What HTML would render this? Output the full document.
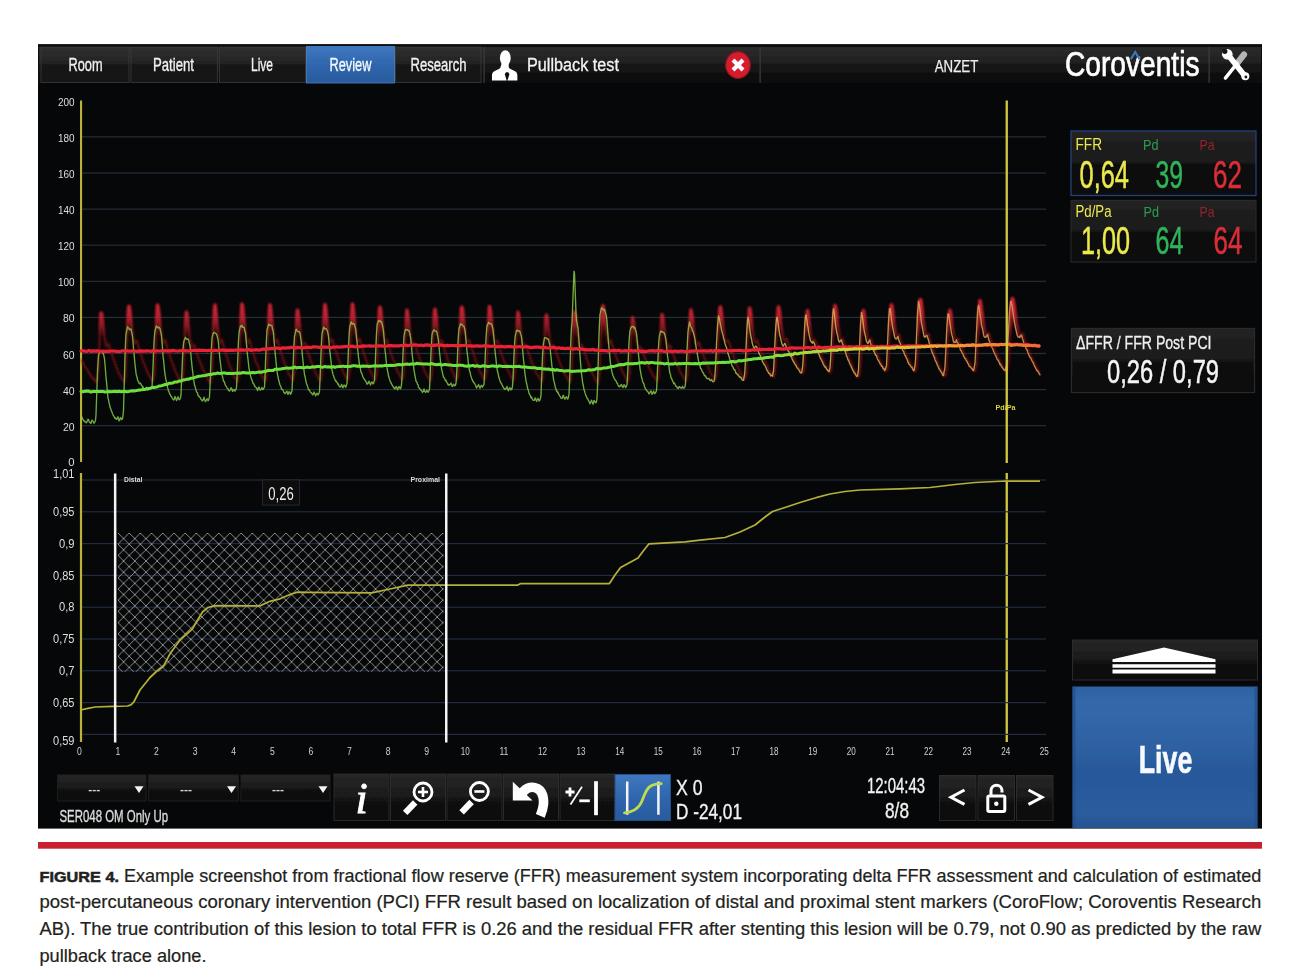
<!DOCTYPE html>
<html lang="en"><head><meta charset="utf-8"><title>Figure 4</title>
<style>html,body{margin:0;padding:0;background:#fff}svg{display:block}</style></head>
<body>
<svg width="1300" height="978" viewBox="0 0 1300 978" font-family="Liberation Sans, sans-serif">
<defs>
<linearGradient id="gTab" x1="0" y1="0" x2="0" y2="1"><stop offset="0" stop-color="#303030"/><stop offset="0.45" stop-color="#232323"/><stop offset="0.5" stop-color="#181818"/><stop offset="1" stop-color="#131313"/></linearGradient>
<linearGradient id="gBar" x1="0" y1="0" x2="0" y2="1"><stop offset="0" stop-color="#2c2c2c"/><stop offset="0.45" stop-color="#1f1f1f"/><stop offset="0.5" stop-color="#141414"/><stop offset="1" stop-color="#0e0e0e"/></linearGradient>
<linearGradient id="gBlueTab" x1="0" y1="0" x2="0" y2="1"><stop offset="0" stop-color="#3f78c0"/><stop offset="0.5" stop-color="#2f66ad"/><stop offset="1" stop-color="#2a5a9c"/></linearGradient>
<linearGradient id="gLive" x1="0" y1="0" x2="0" y2="1"><stop offset="0" stop-color="#2d61a2"/><stop offset="0.12" stop-color="#3369ab"/><stop offset="0.45" stop-color="#2d60a1"/><stop offset="0.6" stop-color="#27589a"/><stop offset="0.9" stop-color="#2a5c9e"/><stop offset="1" stop-color="#26548f"/></linearGradient>
<linearGradient id="gBox2" x1="0" y1="0" x2="0" y2="1"><stop offset="0" stop-color="#222"/><stop offset="0.48" stop-color="#1a1a1a"/><stop offset="0.52" stop-color="#111"/><stop offset="1" stop-color="#0d0d0d"/></linearGradient>
<linearGradient id="gBox" x1="0" y1="0" x2="0" y2="1"><stop offset="0" stop-color="#262626"/><stop offset="0.48" stop-color="#1b1b1b"/><stop offset="0.52" stop-color="#121212"/><stop offset="1" stop-color="#0e0e0e"/></linearGradient>
<pattern id="hatch" x="118" y="533" width="11.2" height="11.2" patternUnits="userSpaceOnUse"><path d="M0 0L11.2 11.2M11.2 0L0 11.2" stroke="#9a9a9a" stroke-width="0.9" fill="none"/></pattern>
<filter id="b1" x="-5%" y="-5%" width="110%" height="110%"><feGaussianBlur stdDeviation="0.9"/></filter>
<filter id="soft" filterUnits="userSpaceOnUse" x="38" y="44" width="1224" height="785"><feGaussianBlur stdDeviation="0.55"/></filter>
<filter id="b2" x="-5%" y="-5%" width="110%" height="110%"><feGaussianBlur stdDeviation="0.45"/></filter>
<linearGradient id="gMask" gradientUnits="userSpaceOnUse" x1="0" y1="296" x2="0" y2="338"><stop offset="0" stop-color="#fff"/><stop offset="0.45" stop-color="#bbb"/><stop offset="1" stop-color="#000"/></linearGradient>
<mask id="mTop" maskUnits="userSpaceOnUse" x="80" y="250" width="970" height="100"><rect x="80" y="250" width="970" height="100" fill="url(#gMask)"/></mask>
<linearGradient id="gGreen" gradientUnits="userSpaceOnUse" x1="80" y1="0" x2="1042" y2="0"><stop offset="0" stop-color="#86cf4a"/><stop offset="0.6" stop-color="#8ccf48"/><stop offset="0.72" stop-color="#d6be52"/><stop offset="1" stop-color="#e0a055"/></linearGradient>
<linearGradient id="gGreenM" gradientUnits="userSpaceOnUse" x1="80" y1="0" x2="1042" y2="0"><stop offset="0" stop-color="#6de040"/><stop offset="0.7" stop-color="#6de040"/><stop offset="0.8" stop-color="#cfd63c"/><stop offset="0.9" stop-color="#eea436"/><stop offset="1" stop-color="#ee6a30"/></linearGradient>
</defs>
<rect width="1300" height="978" fill="#fff"/>
<rect x="38" y="44.3" width="1224" height="784.3000000000001" fill="#060708"/>
<g filter="url(#soft)">
<rect x="38" y="44.3" width="1224" height="38.700" fill="#0b0b0b"/>
<rect x="39" y="47" width="1222" height="35.5" fill="url(#gBar)"/>
<rect x="41" y="47" width="88" height="35.5" fill="url(#gTab)" stroke="#3c3c3c" stroke-width="0.8"/>
<text x="85.5" y="71.3" font-size="17.6" fill="#f0f0f0" textLength="34" lengthAdjust="spacingAndGlyphs" text-anchor="middle" stroke="#f0f0f0" stroke-width="0.35">Room</text>
<rect x="131" y="47" width="86.5" height="35.5" fill="url(#gTab)" stroke="#3c3c3c" stroke-width="0.8"/>
<text x="173.5" y="71.3" font-size="17.6" fill="#f0f0f0" textLength="41" lengthAdjust="spacingAndGlyphs" text-anchor="middle" stroke="#f0f0f0" stroke-width="0.35">Patient</text>
<rect x="219.5" y="47" width="86.0" height="35.5" fill="url(#gTab)" stroke="#3c3c3c" stroke-width="0.8"/>
<text x="262" y="71.3" font-size="17.6" fill="#f0f0f0" textLength="22" lengthAdjust="spacingAndGlyphs" text-anchor="middle" stroke="#f0f0f0" stroke-width="0.35">Live</text>
<rect x="395.5" y="47" width="85.5" height="35.5" fill="url(#gTab)" stroke="#3c3c3c" stroke-width="0.8"/>
<text x="438.5" y="71.3" font-size="17.6" fill="#f0f0f0" textLength="56" lengthAdjust="spacingAndGlyphs" text-anchor="middle" stroke="#f0f0f0" stroke-width="0.35">Research</text>
<rect x="306.5" y="46.5" width="88" height="36.5" fill="url(#gBlueTab)" stroke="#4a86cf" stroke-width="0.8"/>
<text x="350.5" y="71.3" font-size="17.6" fill="#f4f8ff" textLength="42" lengthAdjust="spacingAndGlyphs" text-anchor="middle" stroke="#f4f8ff" stroke-width="0.35">Review</text>
<rect x="483.5" y="47" width="1.2" height="36" fill="#3d3d3d"/>
<rect x="759.5" y="47" width="1.2" height="36" fill="#3d3d3d"/>
<rect x="1208.5" y="47" width="1.2" height="36" fill="#3d3d3d"/>
<g fill="#fff" transform="translate(505.3 0) scale(0.9 1) translate(-505.3 0)"><ellipse cx="505.3" cy="58" rx="6" ry="7.8"/><path d="M501.5 63h7.6v3.5c0 1.2 .6 2 2 2.6l4.6 1.9c2 .9 3 2.3 3 4.4v5h-11l2.2-6.2-1.3-1.9h-2.6l-1.3 1.9 2.2 6.200h-16.400v-5c0-2.100 1-3.500 3-4.400l4.600-1.900c1.400-.6 2-1.400 2-2.600z"/></g>
<text x="527" y="71" font-size="17.5" fill="#f2f2f2" textLength="92" lengthAdjust="spacingAndGlyphs" stroke="#f2f2f2" stroke-width="0.3">Pullback test</text>
<ellipse cx="738" cy="65" rx="12.300" ry="13.300" fill="#d41f2d"/><ellipse cx="738" cy="65" rx="12.300" ry="13.300" fill="none" stroke="#8e1520" stroke-width="1.200"/>
<path d="M733 60l10 10M743 60l-10 10" stroke="#fff" stroke-width="4.2" stroke-linecap="butt"/>
<text x="956.5" y="71.5" font-size="17" fill="#eee" textLength="43.5" lengthAdjust="spacingAndGlyphs" text-anchor="middle" stroke="#eee" stroke-width="0.25">ANZET</text>
<text x="1065" y="76.4" font-size="35" fill="#fff" textLength="134.5" lengthAdjust="spacingAndGlyphs" stroke="#fff" stroke-width="0.7">Coroventis</text>
<path d="M1130 58.500l5.200-8.500 5.200 8.500-1.800 1.200-3.400-5.600-3.400 5.600z" fill="#3a78c0"/>
<g stroke-linecap="round" fill="none"><path d="M1244 54.500l-8 10.300" stroke="#b5b5b5" stroke-width="6.200"/><path d="M1237 63.500l-11.500 14.500" stroke="#fff" stroke-width="3.600"/><path d="M1229 56l15.500 19.500" stroke="#fff" stroke-width="5.600"/></g>
<circle cx="1227.300" cy="54.300" r="5.300" fill="#fff"/><circle cx="1224.800" cy="51.300" r="2.600" fill="#161616"/><circle cx="1245.300" cy="76.300" r="4" fill="#fff"/><circle cx="1245.900" cy="77" r="1.400" fill="#161616"/>
<rect x="82" y="425.1" width="964" height="1.2" fill="#272d39"/>
<rect x="82" y="389.0" width="964" height="1.2" fill="#272d39"/>
<rect x="82" y="352.9" width="964" height="1.2" fill="#272d39"/>
<rect x="82" y="316.8" width="964" height="1.2" fill="#272d39"/>
<rect x="82" y="280.7" width="964" height="1.2" fill="#272d39"/>
<rect x="82" y="244.6" width="964" height="1.2" fill="#272d39"/>
<rect x="82" y="208.5" width="964" height="1.2" fill="#272d39"/>
<rect x="82" y="172.4" width="964" height="1.2" fill="#272d39"/>
<rect x="82" y="136.3" width="964" height="1.2" fill="#272d39"/>
<rect x="80" y="100.500" width="2.100" height="361.500" fill="#b9b439"/>
<text x="74.5" y="466.0" font-size="11.5" fill="#dedede" textLength="6.3" lengthAdjust="spacingAndGlyphs" text-anchor="end">0</text>
<text x="74.5" y="430.7" font-size="11.5" fill="#dedede" textLength="11.6" lengthAdjust="spacingAndGlyphs" text-anchor="end">20</text>
<text x="74.5" y="394.6" font-size="11.5" fill="#dedede" textLength="11.6" lengthAdjust="spacingAndGlyphs" text-anchor="end">40</text>
<text x="74.5" y="358.5" font-size="11.5" fill="#dedede" textLength="11.6" lengthAdjust="spacingAndGlyphs" text-anchor="end">60</text>
<text x="74.5" y="322.4" font-size="11.5" fill="#dedede" textLength="11.6" lengthAdjust="spacingAndGlyphs" text-anchor="end">80</text>
<text x="74.5" y="286.3" font-size="11.5" fill="#dedede" textLength="16.6" lengthAdjust="spacingAndGlyphs" text-anchor="end">100</text>
<text x="74.5" y="250.20000000000002" font-size="11.5" fill="#dedede" textLength="16.6" lengthAdjust="spacingAndGlyphs" text-anchor="end">120</text>
<text x="74.5" y="214.10000000000002" font-size="11.5" fill="#dedede" textLength="16.6" lengthAdjust="spacingAndGlyphs" text-anchor="end">140</text>
<text x="74.5" y="178.0" font-size="11.5" fill="#dedede" textLength="16.6" lengthAdjust="spacingAndGlyphs" text-anchor="end">160</text>
<text x="74.5" y="141.90000000000003" font-size="11.5" fill="#dedede" textLength="16.6" lengthAdjust="spacingAndGlyphs" text-anchor="end">180</text>
<text x="74.5" y="105.80000000000001" font-size="11.5" fill="#dedede" textLength="16.6" lengthAdjust="spacingAndGlyphs" text-anchor="end">200</text>
<polyline points="81.0,359.9 81.5,359.9 82.0,361.1 82.5,362.3 83.0,362.7 83.5,363.9 84.0,364.8 84.5,364.8 85.0,366.9 85.5,367.5 86.0,367.8 86.5,368.9 87.0,370.0 87.5,370.5 88.0,371.3 88.5,371.6 89.0,373.4 89.5,374.0 90.0,374.7 90.5,374.5 91.0,376.6 91.5,376.5 92.0,376.9 92.5,378.6 93.0,378.3 93.5,378.3 94.0,379.4 94.5,379.1 95.0,381.2 95.5,380.9 96.0,381.1 96.5,382.2 97.0,380.5 97.5,378.9 98.0,375.1 98.5,367.5 99.0,354.3 99.5,342.6 100.0,329.9 100.5,319.9 101.0,313.0 101.5,313.2 102.0,316.5 102.5,320.4 103.0,324.7 103.5,329.4 104.0,334.1 104.5,337.8 105.0,339.8 105.5,342.4 106.0,346.0 106.5,345.8 107.0,346.2 107.5,346.2 108.0,345.0 108.5,343.9 109.0,344.2 109.5,346.9 110.0,348.5 110.5,350.9 111.0,351.8 111.5,352.5 112.0,354.8 112.5,357.1 113.0,357.6 113.5,358.8 114.0,360.2 114.5,361.7 115.0,363.4 115.5,364.2 116.0,366.6 116.5,367.0 117.0,368.4 117.5,370.2 118.0,371.5 118.5,371.9 119.0,373.4 119.5,374.7 120.0,375.2 120.5,375.4 121.0,377.3 121.5,378.3 122.0,379.0 122.5,379.3 123.0,380.5 123.5,380.9 124.0,381.5 124.5,381.8 125.0,379.2 125.5,376.1 126.0,368.7 126.5,355.2 127.0,341.3 127.5,327.7 128.0,316.2 128.5,308.7 129.0,306.2 129.5,308.7 130.0,312.0 130.5,316.9 131.0,321.7 131.5,327.2 132.0,330.4 132.5,332.6 133.0,336.5 133.5,339.1 134.0,342.3 134.5,342.2 135.0,343.5 135.5,342.3 136.0,341.3 136.5,340.5 137.0,341.5 137.5,343.2 138.0,344.3 138.5,346.9 139.0,348.5 139.5,349.9 140.0,351.3 140.5,353.9 141.0,354.5 141.5,355.8 142.0,358.0 142.5,359.3 143.0,360.8 143.5,362.5 144.0,363.6 144.5,364.8 145.0,366.4 145.5,367.4 146.0,368.2 146.5,369.6 147.0,370.8 147.5,372.4 148.0,373.1 148.5,373.7 149.0,375.5 149.5,375.8 150.0,376.4 150.5,378.4 151.0,378.9 151.5,380.4 152.0,380.6 152.5,380.8 153.0,381.3 153.5,379.6 154.0,377.0 154.5,374.1 155.0,361.6 155.5,347.5 156.0,334.6 156.5,320.2 157.0,312.6 157.5,305.2 158.0,307.3 158.5,310.6 159.0,313.9 159.5,320.0 160.0,325.2 160.5,329.3 161.0,331.5 161.5,335.2 162.0,338.9 162.5,340.5 163.0,342.4 163.5,343.2 164.0,343.0 164.5,342.5 165.0,340.7 165.5,340.0 166.0,341.9 166.5,344.4 167.0,346.2 167.5,348.6 168.0,349.4 168.5,351.3 169.0,353.4 169.5,354.7 170.0,355.5 170.5,357.9 171.0,359.0 171.5,360.9 172.0,362.4 172.5,364.1 173.0,364.9 173.5,365.3 174.0,366.8 174.5,369.0 175.0,369.9 175.5,371.8 176.0,372.7 176.5,373.5 177.0,375.4 177.5,375.5 178.0,375.9 178.5,378.7 179.0,377.9 179.5,380.0 180.0,381.1 180.5,381.6 181.0,381.3 181.5,383.1 182.0,381.6 182.5,379.1 183.0,377.1 183.5,370.8 184.0,358.1 184.5,345.8 185.0,332.7 185.5,322.5 186.0,314.9 186.5,312.0 187.0,315.2 187.5,318.3 188.0,323.3 188.5,327.4 189.0,332.0 189.5,335.2 190.0,337.9 190.5,341.1 191.0,343.7 191.5,346.5 192.0,346.1 192.5,346.6 193.0,346.1 193.5,345.6 194.0,344.9 194.5,344.8 195.0,346.9 195.5,349.0 196.0,350.5 196.5,351.9 197.0,354.0 197.5,355.0 198.0,356.5 198.5,358.3 199.0,359.7 199.5,360.5 200.0,361.8 200.5,363.6 201.0,364.6 201.5,365.0 202.0,367.6 202.5,368.2 203.0,369.7 203.5,370.0 204.0,372.3 204.5,372.6 205.0,374.0 205.5,374.6 206.0,376.0 206.5,376.8 207.0,377.7 207.5,378.9 208.0,379.6 208.5,380.9 209.0,381.1 209.5,381.4 210.0,382.4 210.5,383.2 211.0,381.2 211.5,378.0 212.0,372.8 212.5,359.1 213.0,345.0 213.5,329.7 214.0,316.9 214.5,308.9 215.0,305.2 215.5,309.1 216.0,313.2 216.5,319.1 217.0,324.1 217.5,328.2 218.0,332.1 218.5,335.5 219.0,338.1 219.5,341.4 220.0,341.2 220.5,343.2 221.0,342.6 221.5,340.7 222.0,339.7 222.5,341.1 223.0,343.6 223.5,345.3 224.0,347.6 224.5,348.6 225.0,350.1 225.5,352.7 226.0,354.2 226.5,355.6 227.0,357.8 227.5,358.4 228.0,360.3 228.5,362.4 229.0,364.1 229.5,364.6 230.0,366.7 230.5,367.1 231.0,368.8 231.5,370.0 232.0,370.7 232.5,372.9 233.0,374.4 233.5,374.9 234.0,375.9 234.5,377.6 235.0,377.4 235.5,378.3 236.0,379.6 236.5,380.2 237.0,381.9 237.5,382.0 238.0,379.4 238.5,376.7 239.0,375.5 239.5,360.0 240.0,346.0 240.5,332.6 241.0,319.3 241.5,311.1 242.0,304.0 242.5,307.0 243.0,311.3 243.5,316.1 244.0,320.5 244.5,326.9 245.0,330.3 245.5,332.9 246.0,336.1 246.5,339.4 247.0,341.3 247.5,341.6 248.0,342.9 248.5,341.8 249.0,341.5 249.5,339.5 250.0,341.3 250.5,343.2 251.0,346.1 251.5,346.8 252.0,348.3 252.5,350.2 253.0,351.6 253.5,353.4 254.0,355.4 254.5,357.2 255.0,359.2 255.5,359.7 256.0,362.7 256.5,363.7 257.0,364.0 257.5,364.4 258.0,366.7 258.5,368.1 259.0,368.3 259.5,370.7 260.0,371.9 260.5,372.9 261.0,374.6 261.5,375.7 262.0,376.0 262.5,377.3 263.0,377.8 263.5,378.7 264.0,380.1 264.5,381.0 265.0,381.1 265.5,380.9 266.0,380.0 266.5,376.1 267.0,373.5 267.5,360.0 268.0,345.0 268.5,330.4 269.0,317.3 269.5,310.4 270.0,304.9 270.5,308.4 271.0,312.4 271.5,317.2 272.0,322.2 272.5,327.0 273.0,329.2 273.5,333.1 274.0,336.9 274.5,340.0 275.0,341.7 275.5,342.0 276.0,342.7 276.5,342.0 277.0,340.1 277.5,339.7 278.0,341.1 278.5,344.3 279.0,345.9 279.5,347.9 280.0,350.0 280.5,351.3 281.0,352.4 281.5,354.3 282.0,354.9 282.5,357.3 283.0,358.8 283.5,359.5 284.0,362.2 284.5,362.6 285.0,364.5 285.5,365.4 286.0,367.3 286.5,368.8 287.0,369.1 287.5,370.1 288.0,372.1 288.5,373.6 289.0,374.0 289.5,374.9 290.0,376.3 290.5,375.8 291.0,377.8 291.5,378.4 292.0,379.9 292.5,380.0 293.0,380.4 293.5,378.7 294.0,375.6 294.5,373.1 295.0,359.7 295.5,346.8 296.0,333.6 296.5,322.3 297.0,314.4 297.5,310.1 298.0,313.0 298.5,316.1 299.0,321.5 299.5,326.2 300.0,330.9 300.5,333.5 301.0,336.4 301.5,339.9 302.0,343.5 302.5,343.5 303.0,344.7 303.5,344.8 304.0,344.4 304.5,343.2 305.0,342.9 305.5,343.0 306.0,345.9 306.5,347.6 307.0,349.7 307.5,350.9 308.0,352.4 308.5,354.5 309.0,356.6 309.5,355.9 310.0,358.5 310.5,360.3 311.0,361.6 311.5,362.7 312.0,363.5 312.5,364.9 313.0,366.9 313.5,368.3 314.0,369.1 314.5,369.9 315.0,371.5 315.5,372.6 316.0,374.0 316.5,374.7 317.0,375.2 317.5,376.5 318.0,376.8 318.5,378.6 319.0,379.7 319.5,379.3 320.0,380.6 320.5,380.4 321.0,379.2 321.5,376.3 322.0,372.4 322.5,359.0 323.0,344.3 323.5,330.3 324.0,317.5 324.5,309.7 325.0,304.7 325.5,308.1 326.0,311.6 326.5,317.4 327.0,322.6 327.5,326.9 328.0,329.6 328.5,333.7 329.0,337.0 329.5,339.5 330.0,340.5 330.5,341.7 331.0,342.8 331.5,340.3 332.0,340.3 332.5,339.3 333.0,341.0 333.5,343.6 334.0,344.7 334.5,347.3 335.0,349.3 335.5,350.3 336.0,351.4 336.5,352.5 337.0,354.3 337.5,355.6 338.0,358.7 338.5,359.4 339.0,360.4 339.5,361.6 340.0,363.0 340.5,364.6 341.0,365.5 341.5,368.1 342.0,368.3 342.5,369.6 343.0,371.4 343.5,373.0 344.0,373.9 344.5,374.0 345.0,375.3 345.5,376.2 346.0,377.3 346.5,378.2 347.0,378.4 347.5,378.8 348.0,380.0 348.5,377.3 349.0,375.6 349.5,371.7 350.0,357.4 350.5,343.9 351.0,330.0 351.5,317.6 352.0,310.2 352.5,304.2 353.0,307.2 353.5,312.0 354.0,316.8 354.5,322.1 355.0,327.2 355.5,330.0 356.0,333.5 356.5,335.9 357.0,339.4 357.5,340.5 358.0,340.9 358.5,342.2 359.0,341.3 359.5,339.0 360.0,338.8 360.5,341.4 361.0,343.7 361.5,344.9 362.0,346.9 362.5,348.0 363.0,351.3 363.5,351.9 364.0,353.7 364.5,355.2 365.0,356.8 365.5,358.3 366.0,359.4 366.5,361.2 367.0,362.2 367.5,364.0 368.0,364.4 368.5,365.8 369.0,367.6 369.5,369.2 370.0,370.0 370.5,370.9 371.0,372.3 371.5,373.0 372.0,375.1 372.5,375.6 373.0,376.7 373.5,377.2 374.0,377.8 374.5,379.3 375.0,380.1 375.5,380.2 376.0,377.8 376.5,375.5 377.0,370.9 377.5,357.6 378.0,343.0 378.5,329.0 379.0,317.7 379.5,309.7 380.0,307.2 380.5,309.4 381.0,313.8 381.5,318.3 382.0,323.1 382.5,327.6 383.0,331.8 383.5,334.2 384.0,338.3 384.5,341.6 385.0,341.4 385.5,342.8 386.0,342.3 386.5,341.6 387.0,339.9 387.5,341.1 388.0,342.2 388.5,344.9 389.0,346.4 389.5,348.2 390.0,350.1 390.5,351.5 391.0,352.9 391.5,354.9 392.0,356.5 392.5,357.1 393.0,359.5 393.5,361.0 394.0,361.6 394.5,363.5 395.0,364.0 395.5,366.5 396.0,367.1 396.5,368.5 397.0,370.4 397.5,371.1 398.0,372.5 398.5,372.7 399.0,373.9 399.5,374.5 400.0,376.0 400.5,377.5 401.0,378.1 401.5,379.2 402.0,378.9 402.5,379.5 403.0,377.8 403.5,375.8 404.0,373.2 404.5,360.6 405.0,348.4 405.5,335.5 406.0,323.5 406.5,316.9 407.0,310.1 407.5,313.3 408.0,317.1 408.5,321.0 409.0,325.9 409.5,329.9 410.0,334.3 410.5,335.2 411.0,338.6 411.5,341.4 412.0,344.7 412.5,344.7 413.0,344.9 413.5,344.2 414.0,344.0 414.5,342.8 415.0,343.5 415.5,345.0 416.0,347.0 416.5,349.4 417.0,350.9 417.5,352.3 418.0,353.6 418.5,354.4 419.0,356.6 419.5,357.6 420.0,359.5 420.5,361.2 421.0,362.0 421.5,363.0 422.0,365.1 422.5,366.0 423.0,366.8 423.5,366.9 424.0,369.4 424.5,370.9 425.0,372.4 425.5,372.7 426.0,373.7 426.5,374.6 427.0,376.1 427.5,376.1 428.0,377.4 428.5,377.9 429.0,379.3 429.5,379.2 430.0,380.6 430.5,380.7 431.0,378.7 431.5,376.2 432.0,372.4 432.5,357.4 433.0,344.8 433.5,330.9 434.0,319.1 434.5,312.0 435.0,309.2 435.5,312.8 436.0,316.3 436.5,321.2 437.0,327.1 437.5,331.7 438.0,334.1 438.5,337.3 439.0,339.7 439.5,342.0 440.0,343.0 440.5,344.3 441.0,342.6 441.5,342.1 442.0,340.4 442.5,342.6 443.0,344.8 443.5,345.8 444.0,348.1 444.5,350.4 445.0,351.3 445.5,352.3 446.0,353.8 446.5,355.0 447.0,357.8 447.5,358.6 448.0,360.9 448.5,362.1 449.0,362.7 449.5,364.0 450.0,365.9 450.5,366.9 451.0,368.2 451.5,368.6 452.0,371.1 452.5,371.5 453.0,371.9 453.5,373.6 454.0,375.0 454.5,376.7 455.0,376.5 455.5,377.0 456.0,379.5 456.5,379.2 457.0,379.5 457.5,378.7 458.0,376.0 458.5,374.4 459.0,365.3 459.5,351.6 460.0,338.1 460.5,325.6 461.0,314.8 461.5,307.6 462.0,307.3 462.5,310.4 463.0,314.3 463.5,320.0 464.0,325.4 464.5,328.8 465.0,331.4 465.5,334.3 466.0,338.0 466.5,340.8 467.0,341.5 467.5,342.1 468.0,341.6 468.5,341.5 469.0,340.2 469.5,340.3 470.0,342.4 470.5,344.6 471.0,346.2 471.5,347.5 472.0,349.9 472.5,350.7 473.0,352.1 473.5,353.3 474.0,355.5 474.5,356.6 475.0,358.3 475.5,360.2 476.0,361.3 476.5,363.0 477.0,364.0 477.5,364.9 478.0,366.2 478.5,367.4 479.0,369.2 479.5,370.2 480.0,371.3 480.5,372.9 481.0,373.5 481.5,374.2 482.0,374.6 482.5,376.4 483.0,377.3 483.5,378.1 484.0,378.6 484.5,379.0 485.0,379.8 485.5,378.0 486.0,375.3 486.5,372.7 487.0,360.1 487.5,347.4 488.0,334.4 488.5,321.0 489.0,314.0 489.5,306.6 490.0,309.2 490.5,311.8 491.0,316.5 491.5,320.8 492.0,326.4 492.5,328.8 493.0,332.6 493.5,335.5 494.0,339.0 494.5,341.5 495.0,341.6 495.5,341.9 496.0,342.5 496.5,341.9 497.0,340.8 497.5,340.5 498.0,342.1 498.5,344.2 499.0,346.6 499.5,347.4 500.0,349.4 500.5,351.6 501.0,352.5 501.5,353.6 502.0,355.5 502.5,356.4 503.0,358.2 503.5,360.4 504.0,361.8 504.5,361.4 505.0,363.7 505.5,365.5 506.0,365.6 506.5,367.2 507.0,368.9 507.5,369.3 508.0,370.9 508.5,371.9 509.0,371.9 509.5,373.9 510.0,374.5 510.5,375.9 511.0,377.3 511.5,377.6 512.0,378.0 512.5,379.1 513.0,379.5 513.5,380.4 514.0,377.5 514.5,375.2 515.0,372.5 515.5,362.0 516.0,349.7 516.5,337.5 517.0,325.6 517.5,318.8 518.0,312.2 518.5,315.2 519.0,318.0 519.5,323.2 520.0,327.2 520.5,331.1 521.0,334.4 521.5,338.0 522.0,340.3 522.5,343.0 523.0,345.6 523.5,346.4 524.0,345.7 524.5,345.9 525.0,344.5 525.5,344.6 526.0,344.6 526.5,346.2 527.0,347.9 527.5,350.3 528.0,351.4 528.5,352.7 529.0,354.9 529.5,355.2 530.0,356.5 530.5,359.6 531.0,359.7 531.5,361.0 532.0,362.3 532.5,363.7 533.0,365.2 533.5,366.4 534.0,367.4 534.5,368.2 535.0,368.8 535.5,370.7 536.0,372.4 536.5,373.3 537.0,373.8 537.5,375.1 538.0,375.4 538.5,376.4 539.0,376.7 539.5,377.9 540.0,379.0 540.5,379.6 541.0,380.5 541.5,381.5 542.0,380.9 542.5,377.8 543.0,375.2 543.5,368.4 544.0,356.3 544.5,344.8 545.0,333.0 545.5,323.6 546.0,316.7 546.5,315.1 547.0,317.7 547.5,321.1 548.0,326.6 548.5,330.7 549.0,333.9 549.5,336.7 550.0,339.5 550.5,342.5 551.0,345.8 551.5,346.9 552.0,347.5 552.5,348.0 553.0,347.3 553.5,346.1 554.0,345.1 554.5,346.6 555.0,347.6 555.5,350.0 556.0,352.6 556.5,353.0 557.0,354.3 557.5,356.4 558.0,357.4 558.5,358.5 559.0,360.9 559.5,361.8 560.0,363.3 560.5,363.9 561.0,365.5 561.5,366.6 562.0,367.9 562.5,369.2 563.0,370.4 563.5,371.1 564.0,372.5 564.5,372.8 565.0,374.7 565.5,375.6 566.0,375.9 566.5,376.6 567.0,377.8 567.5,378.1 568.0,379.6 568.5,380.4 569.0,380.5 569.5,381.4 570.0,382.4 570.5,380.5 571.0,377.9 571.5,374.9 572.0,362.1 572.5,349.4 573.0,337.2 573.5,325.7 574.0,318.0 574.5,312.1 575.0,314.9 575.5,316.7 576.0,322.0 576.5,326.6 577.0,332.0 577.5,335.5 578.0,337.3 578.5,340.5 579.0,343.6 579.5,345.3 580.0,345.7 580.5,346.2 581.0,346.7 581.5,344.9 582.0,344.8 582.5,345.3 583.0,347.5 583.5,349.7 584.0,350.5 584.5,352.0 585.0,354.0 585.5,354.9 586.0,356.5 586.5,358.2 587.0,359.8 587.5,360.7 588.0,362.5 588.5,364.3 589.0,365.9 589.5,365.6 590.0,368.3 590.5,369.3 591.0,369.6 591.5,370.6 592.0,372.7 592.5,373.5 593.0,375.0 593.5,376.2 594.0,376.6 594.5,377.7 595.0,378.7 595.5,379.8 596.0,381.1 596.5,382.0 597.0,382.0 597.5,382.3 598.0,384.0 598.5,381.2 599.0,378.4 599.5,375.1 600.0,365.0 600.5,351.3 601.0,338.5 601.5,325.1 602.0,315.9 602.5,308.7 603.0,305.8 603.5,309.0 604.0,313.0 604.5,317.2 605.0,322.0 605.5,326.8 606.0,329.8 606.5,333.6 607.0,335.8 607.5,339.4 608.0,342.3 608.5,341.9 609.0,342.9 609.5,343.2 610.0,341.8 610.5,341.1 611.0,340.1 611.5,342.4 612.0,344.3 612.5,345.1 613.0,347.2 613.5,349.2 614.0,350.9 614.5,350.6 615.0,353.7 615.5,354.5 616.0,356.6 616.5,357.2 617.0,358.4 617.5,360.2 618.0,362.0 618.5,362.6 619.0,362.8 619.5,365.3 620.0,365.5 620.5,367.0 621.0,368.1 621.5,369.0 622.0,370.4 622.5,371.7 623.0,372.9 623.5,374.0 624.0,374.8 624.5,375.1 625.0,376.6 625.5,378.0 626.0,378.9 626.5,379.4 627.0,380.2 627.5,380.8 628.0,381.5 628.5,380.0 629.0,377.0 629.5,374.8 630.0,366.0 630.5,355.2 631.0,344.4 631.5,331.8 632.0,325.2 632.5,317.7 633.0,319.0 633.5,321.1 634.0,324.5 634.5,328.4 635.0,333.0 635.5,336.2 636.0,339.2 636.5,341.5 637.0,343.8 637.5,346.3 638.0,347.9 638.5,347.8 639.0,349.1 639.5,349.0 640.0,347.7 640.5,347.3 641.0,347.5 641.5,348.1 642.0,350.1 642.5,351.6 643.0,352.8 643.5,354.6 644.0,355.3 644.5,356.7 645.0,358.2 645.5,359.5 646.0,360.7 646.5,362.8 647.0,362.8 647.5,364.3 648.0,364.7 648.5,366.4 649.0,367.8 649.5,368.8 650.0,369.0 650.5,370.2 651.0,371.9 651.5,372.3 652.0,373.8 652.5,373.8 653.0,375.6 653.5,376.2 654.0,376.7 654.5,376.9 655.0,378.0 655.5,378.8 656.0,379.7 656.5,380.0 657.0,380.4 657.5,381.0 658.0,379.8 658.5,375.9 659.0,373.9 659.5,362.8 660.0,351.6 660.5,339.4 661.0,328.8 661.5,321.5 662.0,314.6 662.5,316.1 663.0,319.1 663.5,323.2 664.0,327.5 664.5,331.3 665.0,335.5 665.5,337.2 666.0,341.0 666.5,341.7 667.0,345.4 667.5,346.0 668.0,347.4 668.5,346.8 669.0,347.4 669.5,345.0 670.0,345.9 670.5,346.8 671.0,348.3 671.5,350.1 672.0,352.6 672.5,353.3 673.0,353.2 673.5,356.1 674.0,357.0 674.5,357.5 675.0,359.9 675.5,360.3 676.0,362.2 676.5,363.5 677.0,364.2 677.5,365.9 678.0,366.2 678.5,367.8 679.0,368.6 679.5,369.9 680.0,371.9 680.5,372.2 681.0,372.8 681.5,374.1 682.0,374.6 682.5,375.8 683.0,376.6 683.5,377.4 684.0,378.2 684.5,378.7 685.0,379.9 685.5,380.7 686.0,380.4 686.5,380.2 687.0,377.8 687.5,375.8 688.0,369.6 688.5,356.5 689.0,344.5 689.5,331.5 690.0,321.0 690.5,314.4 691.0,309.9 691.5,312.9 692.0,315.4 692.5,319.4 693.0,324.7 693.5,328.9 694.0,332.5 694.5,335.1 695.0,338.1 695.5,340.9 696.0,343.7 696.5,343.6 697.0,344.7 697.5,344.4 698.0,343.7 698.5,343.5 699.0,342.2 699.5,343.3 700.0,346.2 700.5,347.7 701.0,349.5 701.5,350.4 702.0,351.8 702.5,352.9 703.0,354.1 703.5,356.4 704.0,356.9 704.5,358.2 705.0,359.6 705.5,362.0 706.0,362.7 706.5,363.3 707.0,364.6 707.5,365.9 708.0,367.3 708.5,367.3 709.0,369.5 709.5,370.2 710.0,371.1 710.5,372.3 711.0,373.7 711.5,374.9 712.0,375.1 712.5,376.1 713.0,376.3 713.5,377.7 714.0,378.7 714.5,378.3 715.0,379.2 715.5,380.3 716.0,377.2 716.5,375.3 717.0,373.2 717.5,360.9 718.0,348.8 718.5,336.3 719.0,324.0 719.5,314.2 720.0,308.0 720.5,307.0 721.0,310.3 721.5,314.3 722.0,318.6 722.5,323.3 723.0,326.9 723.5,329.9 724.0,332.9 724.5,336.1 725.0,339.5 725.5,340.4 726.0,341.5 726.5,341.6 727.0,341.4 727.5,341.8 728.0,340.1 728.5,341.0 729.0,342.6 729.5,343.5 730.0,344.9 730.5,348.4 731.0,348.7 731.5,349.8 732.0,352.1 732.5,353.3 733.0,354.3 733.5,355.9 734.0,357.6 734.5,359.0 735.0,360.6 735.5,361.3 736.0,362.5 736.5,364.1 737.0,365.2 737.5,366.8 738.0,367.4 738.5,368.6 739.0,369.3 739.5,371.7 740.0,371.5 740.5,373.1 741.0,373.5 741.5,374.9 742.0,376.0 742.5,375.8 743.0,377.3 743.5,377.5 744.0,379.5 744.5,379.2 745.0,379.2 745.5,377.6 746.0,375.9 746.5,373.4 747.0,361.5 747.5,347.9 748.0,335.6 748.5,323.9 749.0,315.1 749.5,308.2 750.0,309.6 750.5,312.4 751.0,317.8 751.5,322.1 752.0,326.5 752.5,330.4 753.0,333.4 753.5,336.3 754.0,338.4 754.5,341.0 755.0,341.6 755.5,343.0 756.0,342.7 756.5,341.3 757.0,340.9 757.5,340.2 758.0,342.3 758.5,344.1 759.0,345.0 759.5,346.7 760.0,348.2 760.5,349.2 761.0,351.0 761.5,352.6 762.0,353.8 762.5,354.4 763.0,355.9 763.5,358.4 764.0,358.6 764.5,360.6 765.0,361.7 765.5,362.4 766.0,363.2 766.5,364.9 767.0,365.6 767.5,367.0 768.0,368.3 768.5,369.1 769.0,370.2 769.5,371.1 770.0,371.5 770.5,372.8 771.0,373.4 771.5,373.7 772.0,375.3 772.5,376.1 773.0,376.4 773.5,376.2 774.0,377.1 774.5,374.5 775.0,372.0 775.5,365.6 776.0,352.7 776.5,341.1 777.0,328.5 777.5,319.2 778.0,311.1 778.5,306.9 779.0,308.7 779.5,311.9 780.0,316.6 780.5,321.5 781.0,325.8 781.5,328.9 782.0,330.6 782.5,334.6 783.0,336.3 783.5,340.1 784.0,340.6 784.5,340.6 785.0,341.0 785.5,339.0 786.0,339.7 786.5,338.1 787.0,340.0 787.5,340.8 788.0,342.8 788.5,343.9 789.0,345.6 789.5,347.0 790.0,348.4 790.5,350.1 791.0,351.0 791.5,352.1 792.0,353.2 792.5,355.4 793.0,355.5 793.5,357.4 794.0,357.1 794.5,358.7 795.0,360.3 795.5,361.2 796.0,363.7 796.5,364.6 797.0,363.8 797.5,365.1 798.0,366.5 798.5,368.2 799.0,368.7 799.5,369.2 800.0,369.2 800.5,370.2 801.0,370.2 801.5,371.5 802.0,373.0 802.5,373.6 803.0,373.1 803.5,372.0 804.0,370.3 804.5,366.8 805.0,355.0 805.5,343.8 806.0,332.2 806.5,321.4 807.0,314.5 807.5,310.5 808.0,313.4 808.5,316.3 809.0,321.4 809.5,325.4 810.0,329.6 810.5,332.6 811.0,335.0 811.5,337.5 812.0,339.6 812.5,340.5 813.0,342.1 813.5,341.2 814.0,340.4 814.5,339.3 815.0,339.3 815.5,341.0 816.0,342.9 816.5,343.9 817.0,344.7 817.5,346.9 818.0,348.5 818.5,349.4 819.0,350.5 819.5,352.1 820.0,353.8 820.5,354.4 821.0,355.0 821.5,356.5 822.0,357.7 822.5,358.1 823.0,360.3 823.5,360.7 824.0,362.3 824.5,363.3 825.0,364.1 825.5,366.0 826.0,365.9 826.5,366.7 827.0,367.9 827.5,368.9 828.0,369.3 828.5,369.7 829.0,371.2 829.5,371.8 830.0,372.9 830.5,372.3 831.0,370.8 831.5,368.2 832.0,365.5 832.5,354.5 833.0,342.9 833.5,330.1 834.0,318.3 834.5,311.1 835.0,305.7 835.5,307.6 836.0,311.1 836.5,314.9 837.0,319.9 837.5,324.1 838.0,326.7 838.5,330.6 839.0,333.6 839.5,335.3 840.0,338.7 840.5,339.1 841.0,339.4 841.5,339.9 842.0,338.2 842.5,338.2 843.0,339.1 843.5,339.9 844.0,342.3 844.5,344.8 845.0,345.9 845.5,347.2 846.0,348.5 846.5,350.5 847.0,351.9 847.5,353.8 848.0,354.4 848.5,357.1 849.0,357.8 849.5,359.5 850.0,360.1 850.5,361.1 851.0,362.6 851.5,363.6 852.0,365.1 852.5,366.8 853.0,368.2 853.5,369.0 854.0,369.7 854.5,370.6 855.0,372.0 855.5,373.1 856.0,373.4 856.5,374.3 857.0,374.9 857.5,376.2 858.0,377.1 858.5,375.8 859.0,376.8 859.5,373.9 860.0,370.5 860.5,364.2 861.0,351.8 861.5,339.8 862.0,326.9 862.5,319.4 863.0,311.6 863.5,310.5 864.0,314.1 864.5,317.5 865.0,321.9 865.5,326.3 866.0,328.7 866.5,332.9 867.0,334.6 867.5,337.4 868.0,340.3 868.5,340.3 869.0,341.1 869.5,341.7 870.0,340.3 870.5,339.6 871.0,338.2 871.5,339.9 872.0,341.5 872.5,343.7 873.0,346.6 873.5,346.2 874.0,347.2 874.5,348.4 875.0,350.1 875.5,351.1 876.0,351.4 876.5,353.5 877.0,354.3 877.5,355.8 878.0,355.6 878.5,356.8 879.0,358.8 879.5,358.8 880.0,360.8 880.5,361.9 881.0,362.8 881.5,364.0 882.0,364.9 882.5,365.7 883.0,366.1 883.5,367.0 884.0,369.1 884.5,369.1 885.0,369.6 885.5,370.3 886.0,370.2 886.5,371.1 887.0,370.5 887.5,368.7 888.0,365.5 888.5,358.5 889.0,347.6 889.5,336.5 890.0,325.6 890.5,315.2 891.0,307.7 891.5,304.9 892.0,307.3 892.5,310.9 893.0,314.9 893.5,318.8 894.0,324.1 894.5,326.7 895.0,329.2 895.5,332.0 896.0,335.4 896.5,336.5 897.0,336.8 897.5,337.8 898.0,336.5 898.5,336.6 899.0,335.0 899.5,335.6 900.0,337.6 900.5,340.0 901.0,340.6 901.5,342.8 902.0,343.9 902.5,344.4 903.0,346.8 903.5,347.4 904.0,348.4 904.5,350.0 905.0,351.4 905.5,353.3 906.0,353.8 906.5,355.9 907.0,356.5 907.5,357.1 908.0,358.2 908.5,359.8 909.0,359.8 909.5,360.9 910.0,362.6 910.5,364.3 911.0,364.9 911.5,365.6 912.0,366.4 912.5,366.3 913.0,367.9 913.5,368.1 914.0,370.1 914.5,370.3 915.0,370.7 915.5,371.4 916.0,369.6 916.5,367.1 917.0,364.8 917.5,353.4 918.0,340.6 918.5,328.8 919.0,316.7 919.5,307.7 920.0,299.9 920.5,299.7 921.0,302.1 921.5,306.5 922.0,310.7 922.5,315.8 923.0,321.3 923.5,323.7 924.0,327.0 924.5,328.9 925.0,331.9 925.5,334.4 926.0,335.3 926.5,335.5 927.0,336.1 927.5,334.4 928.0,334.3 928.5,334.4 929.0,335.4 929.5,338.1 930.0,339.7 930.5,342.1 931.0,343.0 931.5,344.9 932.0,346.6 932.5,346.7 933.0,348.7 933.5,351.3 934.0,352.8 934.5,354.8 935.0,355.8 935.5,356.4 936.0,358.4 936.5,359.2 937.0,360.7 937.5,361.8 938.0,363.5 938.5,363.9 939.0,365.3 939.5,366.1 940.0,369.2 940.5,368.7 941.0,369.7 941.5,370.5 942.0,371.6 942.5,372.6 943.0,374.0 943.5,374.8 944.0,375.5 944.5,375.6 945.0,376.4 945.5,375.1 946.0,372.2 946.5,370.0 947.0,359.4 947.5,349.3 948.0,338.0 948.5,327.3 949.0,317.2 949.5,312.2 950.0,310.2 950.5,312.8 951.0,315.6 951.5,320.0 952.0,324.2 952.5,327.8 953.0,330.4 953.5,332.8 954.0,335.2 954.5,337.7 955.0,339.8 955.5,339.5 956.0,341.4 956.5,340.4 957.0,340.2 957.5,338.7 958.0,338.3 958.5,339.4 959.0,341.3 959.5,342.4 960.0,343.6 960.5,345.5 961.0,347.1 961.5,347.7 962.0,348.7 962.5,349.3 963.0,350.8 963.5,352.1 964.0,352.8 964.5,354.6 965.0,355.2 965.5,356.4 966.0,357.0 966.5,358.0 967.0,359.3 967.5,360.3 968.0,361.3 968.5,361.6 969.0,362.7 969.5,364.0 970.0,364.0 970.5,366.0 971.0,366.4 971.5,367.0 972.0,367.4 972.5,368.8 973.0,369.0 973.5,370.7 974.0,370.5 974.5,370.1 975.0,371.5 975.5,369.3 976.0,367.0 976.5,364.9 977.0,356.9 977.5,345.9 978.0,335.0 978.5,323.7 979.0,313.2 979.5,306.5 980.0,300.7 980.5,303.8 981.0,306.6 981.5,310.8 982.0,313.5 982.5,318.2 983.0,322.1 983.5,324.5 984.0,327.3 984.5,329.6 985.0,332.1 985.5,334.4 986.0,335.3 986.5,336.1 987.0,336.8 987.5,335.1 988.0,334.0 988.5,333.5 989.0,334.1 989.5,336.5 990.0,337.3 990.5,339.3 991.0,340.1 991.5,341.8 992.0,343.3 992.5,345.2 993.0,345.5 993.5,347.2 994.0,347.4 994.5,349.0 995.0,350.5 995.5,351.9 996.0,353.4 996.5,354.5 997.0,354.6 997.5,356.6 998.0,356.9 998.5,359.3 999.0,359.6 999.5,360.6 1000.0,361.5 1000.5,362.6 1001.0,363.6 1001.5,364.1 1002.0,365.5 1002.5,366.1 1003.0,367.1 1003.5,367.5 1004.0,368.6 1004.5,368.7 1005.0,371.4 1005.5,370.0 1006.0,370.5 1006.5,371.6 1007.0,370.3 1007.5,367.6 1008.0,365.3 1008.5,362.7 1009.0,353.0 1009.5,343.1 1010.0,333.3 1010.5,323.8 1011.0,313.8 1011.5,306.9 1012.0,301.6 1012.5,298.6 1013.0,301.2 1013.5,302.8 1014.0,306.0 1014.5,310.4 1015.0,314.6 1015.5,317.4 1016.0,321.9 1016.5,324.2 1017.0,325.7 1017.5,327.5 1018.0,330.3 1018.5,332.8 1019.0,334.9 1019.5,334.4 1020.0,336.7 1020.5,337.2 1021.0,335.4 1021.5,334.1 1022.0,334.1 1022.5,333.6 1023.0,335.5 1023.5,336.8 1024.0,338.0 1024.5,338.8 1025.0,341.5 1025.5,343.0 1026.0,343.7 1026.5,345.3 1027.0,346.6 1027.5,347.7 1028.0,348.6 1028.5,350.5 1029.0,351.1 1029.5,353.6 1030.0,353.9 1030.5,355.7 1031.0,356.3 1031.5,357.8 1032.0,358.5 1032.5,359.9 1033.0,360.3 1033.5,360.9 1034.0,362.6 1034.5,363.5 1035.0,364.0 1035.5,365.4 1036.0,366.0 1036.5,367.8 1037.0,368.6 1037.5,369.5 1038.0,371.4 1038.5,371.1 1039.0,371.9 1039.5,372.8 1040.0,373.2 1040.5,373.7" fill="none" stroke="#86141a" stroke-width="3" stroke-linejoin="round" opacity="0.5" filter="url(#b1)"/>
<polyline points="81.0,359.9 81.5,359.9 82.0,361.1 82.5,362.3 83.0,362.7 83.5,363.9 84.0,364.8 84.5,364.8 85.0,366.9 85.5,367.5 86.0,367.8 86.5,368.9 87.0,370.0 87.5,370.5 88.0,371.3 88.5,371.6 89.0,373.4 89.5,374.0 90.0,374.7 90.5,374.5 91.0,376.6 91.5,376.5 92.0,376.9 92.5,378.6 93.0,378.3 93.5,378.3 94.0,379.4 94.5,379.1 95.0,381.2 95.5,380.9 96.0,381.1 96.5,382.2 97.0,380.5 97.5,378.9 98.0,375.1 98.5,367.5 99.0,354.3 99.5,342.6 100.0,329.9 100.5,319.9 101.0,313.0 101.5,313.2 102.0,316.5 102.5,320.4 103.0,324.7 103.5,329.4 104.0,334.1 104.5,337.8 105.0,339.8 105.5,342.4 106.0,346.0 106.5,345.8 107.0,346.2 107.5,346.2 108.0,345.0 108.5,343.9 109.0,344.2 109.5,346.9 110.0,348.5 110.5,350.9 111.0,351.8 111.5,352.5 112.0,354.8 112.5,357.1 113.0,357.6 113.5,358.8 114.0,360.2 114.5,361.7 115.0,363.4 115.5,364.2 116.0,366.6 116.5,367.0 117.0,368.4 117.5,370.2 118.0,371.5 118.5,371.9 119.0,373.4 119.5,374.7 120.0,375.2 120.5,375.4 121.0,377.3 121.5,378.3 122.0,379.0 122.5,379.3 123.0,380.5 123.5,380.9 124.0,381.5 124.5,381.8 125.0,379.2 125.5,376.1 126.0,368.7 126.5,355.2 127.0,341.3 127.5,327.7 128.0,316.2 128.5,308.7 129.0,306.2 129.5,308.7 130.0,312.0 130.5,316.9 131.0,321.7 131.5,327.2 132.0,330.4 132.5,332.6 133.0,336.5 133.5,339.1 134.0,342.3 134.5,342.2 135.0,343.5 135.5,342.3 136.0,341.3 136.5,340.5 137.0,341.5 137.5,343.2 138.0,344.3 138.5,346.9 139.0,348.5 139.5,349.9 140.0,351.3 140.5,353.9 141.0,354.5 141.5,355.8 142.0,358.0 142.5,359.3 143.0,360.8 143.5,362.5 144.0,363.6 144.5,364.8 145.0,366.4 145.5,367.4 146.0,368.2 146.5,369.6 147.0,370.8 147.5,372.4 148.0,373.1 148.5,373.7 149.0,375.5 149.5,375.8 150.0,376.4 150.5,378.4 151.0,378.9 151.5,380.4 152.0,380.6 152.5,380.8 153.0,381.3 153.5,379.6 154.0,377.0 154.5,374.1 155.0,361.6 155.5,347.5 156.0,334.6 156.5,320.2 157.0,312.6 157.5,305.2 158.0,307.3 158.5,310.6 159.0,313.9 159.5,320.0 160.0,325.2 160.5,329.3 161.0,331.5 161.5,335.2 162.0,338.9 162.5,340.5 163.0,342.4 163.5,343.2 164.0,343.0 164.5,342.5 165.0,340.7 165.5,340.0 166.0,341.9 166.5,344.4 167.0,346.2 167.5,348.6 168.0,349.4 168.5,351.3 169.0,353.4 169.5,354.7 170.0,355.5 170.5,357.9 171.0,359.0 171.5,360.9 172.0,362.4 172.5,364.1 173.0,364.9 173.5,365.3 174.0,366.8 174.5,369.0 175.0,369.9 175.5,371.8 176.0,372.7 176.5,373.5 177.0,375.4 177.5,375.5 178.0,375.9 178.5,378.7 179.0,377.9 179.5,380.0 180.0,381.1 180.5,381.6 181.0,381.3 181.5,383.1 182.0,381.6 182.5,379.1 183.0,377.1 183.5,370.8 184.0,358.1 184.5,345.8 185.0,332.7 185.5,322.5 186.0,314.9 186.5,312.0 187.0,315.2 187.5,318.3 188.0,323.3 188.5,327.4 189.0,332.0 189.5,335.2 190.0,337.9 190.5,341.1 191.0,343.7 191.5,346.5 192.0,346.1 192.5,346.6 193.0,346.1 193.5,345.6 194.0,344.9 194.5,344.8 195.0,346.9 195.5,349.0 196.0,350.5 196.5,351.9 197.0,354.0 197.5,355.0 198.0,356.5 198.5,358.3 199.0,359.7 199.5,360.5 200.0,361.8 200.5,363.6 201.0,364.6 201.5,365.0 202.0,367.6 202.5,368.2 203.0,369.7 203.5,370.0 204.0,372.3 204.5,372.6 205.0,374.0 205.5,374.6 206.0,376.0 206.5,376.8 207.0,377.7 207.5,378.9 208.0,379.6 208.5,380.9 209.0,381.1 209.5,381.4 210.0,382.4 210.5,383.2 211.0,381.2 211.5,378.0 212.0,372.8 212.5,359.1 213.0,345.0 213.5,329.7 214.0,316.9 214.5,308.9 215.0,305.2 215.5,309.1 216.0,313.2 216.5,319.1 217.0,324.1 217.5,328.2 218.0,332.1 218.5,335.5 219.0,338.1 219.5,341.4 220.0,341.2 220.5,343.2 221.0,342.6 221.5,340.7 222.0,339.7 222.5,341.1 223.0,343.6 223.5,345.3 224.0,347.6 224.5,348.6 225.0,350.1 225.5,352.7 226.0,354.2 226.5,355.6 227.0,357.8 227.5,358.4 228.0,360.3 228.5,362.4 229.0,364.1 229.5,364.6 230.0,366.7 230.5,367.1 231.0,368.8 231.5,370.0 232.0,370.7 232.5,372.9 233.0,374.4 233.5,374.9 234.0,375.9 234.5,377.6 235.0,377.4 235.5,378.3 236.0,379.6 236.5,380.2 237.0,381.9 237.5,382.0 238.0,379.4 238.5,376.7 239.0,375.5 239.5,360.0 240.0,346.0 240.5,332.6 241.0,319.3 241.5,311.1 242.0,304.0 242.5,307.0 243.0,311.3 243.5,316.1 244.0,320.5 244.5,326.9 245.0,330.3 245.5,332.9 246.0,336.1 246.5,339.4 247.0,341.3 247.5,341.6 248.0,342.9 248.5,341.8 249.0,341.5 249.5,339.5 250.0,341.3 250.5,343.2 251.0,346.1 251.5,346.8 252.0,348.3 252.5,350.2 253.0,351.6 253.5,353.4 254.0,355.4 254.5,357.2 255.0,359.2 255.5,359.7 256.0,362.7 256.5,363.7 257.0,364.0 257.5,364.4 258.0,366.7 258.5,368.1 259.0,368.3 259.5,370.7 260.0,371.9 260.5,372.9 261.0,374.6 261.5,375.7 262.0,376.0 262.5,377.3 263.0,377.8 263.5,378.7 264.0,380.1 264.5,381.0 265.0,381.1 265.5,380.9 266.0,380.0 266.5,376.1 267.0,373.5 267.5,360.0 268.0,345.0 268.5,330.4 269.0,317.3 269.5,310.4 270.0,304.9 270.5,308.4 271.0,312.4 271.5,317.2 272.0,322.2 272.5,327.0 273.0,329.2 273.5,333.1 274.0,336.9 274.5,340.0 275.0,341.7 275.5,342.0 276.0,342.7 276.5,342.0 277.0,340.1 277.5,339.7 278.0,341.1 278.5,344.3 279.0,345.9 279.5,347.9 280.0,350.0 280.5,351.3 281.0,352.4 281.5,354.3 282.0,354.9 282.5,357.3 283.0,358.8 283.5,359.5 284.0,362.2 284.5,362.6 285.0,364.5 285.5,365.4 286.0,367.3 286.5,368.8 287.0,369.1 287.5,370.1 288.0,372.1 288.5,373.6 289.0,374.0 289.5,374.9 290.0,376.3 290.5,375.8 291.0,377.8 291.5,378.4 292.0,379.9 292.5,380.0 293.0,380.4 293.5,378.7 294.0,375.6 294.5,373.1 295.0,359.7 295.5,346.8 296.0,333.6 296.5,322.3 297.0,314.4 297.5,310.1 298.0,313.0 298.5,316.1 299.0,321.5 299.5,326.2 300.0,330.9 300.5,333.5 301.0,336.4 301.5,339.9 302.0,343.5 302.5,343.5 303.0,344.7 303.5,344.8 304.0,344.4 304.5,343.2 305.0,342.9 305.5,343.0 306.0,345.9 306.5,347.6 307.0,349.7 307.5,350.9 308.0,352.4 308.5,354.5 309.0,356.6 309.5,355.9 310.0,358.5 310.5,360.3 311.0,361.6 311.5,362.7 312.0,363.5 312.5,364.9 313.0,366.9 313.5,368.3 314.0,369.1 314.5,369.9 315.0,371.5 315.5,372.6 316.0,374.0 316.5,374.7 317.0,375.2 317.5,376.5 318.0,376.8 318.5,378.6 319.0,379.7 319.5,379.3 320.0,380.6 320.5,380.4 321.0,379.2 321.5,376.3 322.0,372.4 322.5,359.0 323.0,344.3 323.5,330.3 324.0,317.5 324.5,309.7 325.0,304.7 325.5,308.1 326.0,311.6 326.5,317.4 327.0,322.6 327.5,326.9 328.0,329.6 328.5,333.7 329.0,337.0 329.5,339.5 330.0,340.5 330.5,341.7 331.0,342.8 331.5,340.3 332.0,340.3 332.5,339.3 333.0,341.0 333.5,343.6 334.0,344.7 334.5,347.3 335.0,349.3 335.5,350.3 336.0,351.4 336.5,352.5 337.0,354.3 337.5,355.6 338.0,358.7 338.5,359.4 339.0,360.4 339.5,361.6 340.0,363.0 340.5,364.6 341.0,365.5 341.5,368.1 342.0,368.3 342.5,369.6 343.0,371.4 343.5,373.0 344.0,373.9 344.5,374.0 345.0,375.3 345.5,376.2 346.0,377.3 346.5,378.2 347.0,378.4 347.5,378.8 348.0,380.0 348.5,377.3 349.0,375.6 349.5,371.7 350.0,357.4 350.5,343.9 351.0,330.0 351.5,317.6 352.0,310.2 352.5,304.2 353.0,307.2 353.5,312.0 354.0,316.8 354.5,322.1 355.0,327.2 355.5,330.0 356.0,333.5 356.5,335.9 357.0,339.4 357.5,340.5 358.0,340.9 358.5,342.2 359.0,341.3 359.5,339.0 360.0,338.8 360.5,341.4 361.0,343.7 361.5,344.9 362.0,346.9 362.5,348.0 363.0,351.3 363.5,351.9 364.0,353.7 364.5,355.2 365.0,356.8 365.5,358.3 366.0,359.4 366.5,361.2 367.0,362.2 367.5,364.0 368.0,364.4 368.5,365.8 369.0,367.6 369.5,369.2 370.0,370.0 370.5,370.9 371.0,372.3 371.5,373.0 372.0,375.1 372.5,375.6 373.0,376.7 373.5,377.2 374.0,377.8 374.5,379.3 375.0,380.1 375.5,380.2 376.0,377.8 376.5,375.5 377.0,370.9 377.5,357.6 378.0,343.0 378.5,329.0 379.0,317.7 379.5,309.7 380.0,307.2 380.5,309.4 381.0,313.8 381.5,318.3 382.0,323.1 382.5,327.6 383.0,331.8 383.5,334.2 384.0,338.3 384.5,341.6 385.0,341.4 385.5,342.8 386.0,342.3 386.5,341.6 387.0,339.9 387.5,341.1 388.0,342.2 388.5,344.9 389.0,346.4 389.5,348.2 390.0,350.1 390.5,351.5 391.0,352.9 391.5,354.9 392.0,356.5 392.5,357.1 393.0,359.5 393.5,361.0 394.0,361.6 394.5,363.5 395.0,364.0 395.5,366.5 396.0,367.1 396.5,368.5 397.0,370.4 397.5,371.1 398.0,372.5 398.5,372.7 399.0,373.9 399.5,374.5 400.0,376.0 400.5,377.5 401.0,378.1 401.5,379.2 402.0,378.9 402.5,379.5 403.0,377.8 403.5,375.8 404.0,373.2 404.5,360.6 405.0,348.4 405.5,335.5 406.0,323.5 406.5,316.9 407.0,310.1 407.5,313.3 408.0,317.1 408.5,321.0 409.0,325.9 409.5,329.9 410.0,334.3 410.5,335.2 411.0,338.6 411.5,341.4 412.0,344.7 412.5,344.7 413.0,344.9 413.5,344.2 414.0,344.0 414.5,342.8 415.0,343.5 415.5,345.0 416.0,347.0 416.5,349.4 417.0,350.9 417.5,352.3 418.0,353.6 418.5,354.4 419.0,356.6 419.5,357.6 420.0,359.5 420.5,361.2 421.0,362.0 421.5,363.0 422.0,365.1 422.5,366.0 423.0,366.8 423.5,366.9 424.0,369.4 424.5,370.9 425.0,372.4 425.5,372.7 426.0,373.7 426.5,374.6 427.0,376.1 427.5,376.1 428.0,377.4 428.5,377.9 429.0,379.3 429.5,379.2 430.0,380.6 430.5,380.7 431.0,378.7 431.5,376.2 432.0,372.4 432.5,357.4 433.0,344.8 433.5,330.9 434.0,319.1 434.5,312.0 435.0,309.2 435.5,312.8 436.0,316.3 436.5,321.2 437.0,327.1 437.5,331.7 438.0,334.1 438.5,337.3 439.0,339.7 439.5,342.0 440.0,343.0 440.5,344.3 441.0,342.6 441.5,342.1 442.0,340.4 442.5,342.6 443.0,344.8 443.5,345.8 444.0,348.1 444.5,350.4 445.0,351.3 445.5,352.3 446.0,353.8 446.5,355.0 447.0,357.8 447.5,358.6 448.0,360.9 448.5,362.1 449.0,362.7 449.5,364.0 450.0,365.9 450.5,366.9 451.0,368.2 451.5,368.6 452.0,371.1 452.5,371.5 453.0,371.9 453.5,373.6 454.0,375.0 454.5,376.7 455.0,376.5 455.5,377.0 456.0,379.5 456.5,379.2 457.0,379.5 457.5,378.7 458.0,376.0 458.5,374.4 459.0,365.3 459.5,351.6 460.0,338.1 460.5,325.6 461.0,314.8 461.5,307.6 462.0,307.3 462.5,310.4 463.0,314.3 463.5,320.0 464.0,325.4 464.5,328.8 465.0,331.4 465.5,334.3 466.0,338.0 466.5,340.8 467.0,341.5 467.5,342.1 468.0,341.6 468.5,341.5 469.0,340.2 469.5,340.3 470.0,342.4 470.5,344.6 471.0,346.2 471.5,347.5 472.0,349.9 472.5,350.7 473.0,352.1 473.5,353.3 474.0,355.5 474.5,356.6 475.0,358.3 475.5,360.2 476.0,361.3 476.5,363.0 477.0,364.0 477.5,364.9 478.0,366.2 478.5,367.4 479.0,369.2 479.5,370.2 480.0,371.3 480.5,372.9 481.0,373.5 481.5,374.2 482.0,374.6 482.5,376.4 483.0,377.3 483.5,378.1 484.0,378.6 484.5,379.0 485.0,379.8 485.5,378.0 486.0,375.3 486.5,372.7 487.0,360.1 487.5,347.4 488.0,334.4 488.5,321.0 489.0,314.0 489.5,306.6 490.0,309.2 490.5,311.8 491.0,316.5 491.5,320.8 492.0,326.4 492.5,328.8 493.0,332.6 493.5,335.5 494.0,339.0 494.5,341.5 495.0,341.6 495.5,341.9 496.0,342.5 496.5,341.9 497.0,340.8 497.5,340.5 498.0,342.1 498.5,344.2 499.0,346.6 499.5,347.4 500.0,349.4 500.5,351.6 501.0,352.5 501.5,353.6 502.0,355.5 502.5,356.4 503.0,358.2 503.5,360.4 504.0,361.8 504.5,361.4 505.0,363.7 505.5,365.5 506.0,365.6 506.5,367.2 507.0,368.9 507.5,369.3 508.0,370.9 508.5,371.9 509.0,371.9 509.5,373.9 510.0,374.5 510.5,375.9 511.0,377.3 511.5,377.6 512.0,378.0 512.5,379.1 513.0,379.5 513.5,380.4 514.0,377.5 514.5,375.2 515.0,372.5 515.5,362.0 516.0,349.7 516.5,337.5 517.0,325.6 517.5,318.8 518.0,312.2 518.5,315.2 519.0,318.0 519.5,323.2 520.0,327.2 520.5,331.1 521.0,334.4 521.5,338.0 522.0,340.3 522.5,343.0 523.0,345.6 523.5,346.4 524.0,345.7 524.5,345.9 525.0,344.5 525.5,344.6 526.0,344.6 526.5,346.2 527.0,347.9 527.5,350.3 528.0,351.4 528.5,352.7 529.0,354.9 529.5,355.2 530.0,356.5 530.5,359.6 531.0,359.7 531.5,361.0 532.0,362.3 532.5,363.7 533.0,365.2 533.5,366.4 534.0,367.4 534.5,368.2 535.0,368.8 535.5,370.7 536.0,372.4 536.5,373.3 537.0,373.8 537.5,375.1 538.0,375.4 538.5,376.4 539.0,376.7 539.5,377.9 540.0,379.0 540.5,379.6 541.0,380.5 541.5,381.5 542.0,380.9 542.5,377.8 543.0,375.2 543.5,368.4 544.0,356.3 544.5,344.8 545.0,333.0 545.5,323.6 546.0,316.7 546.5,315.1 547.0,317.7 547.5,321.1 548.0,326.6 548.5,330.7 549.0,333.9 549.5,336.7 550.0,339.5 550.5,342.5 551.0,345.8 551.5,346.9 552.0,347.5 552.5,348.0 553.0,347.3 553.5,346.1 554.0,345.1 554.5,346.6 555.0,347.6 555.5,350.0 556.0,352.6 556.5,353.0 557.0,354.3 557.5,356.4 558.0,357.4 558.5,358.5 559.0,360.9 559.5,361.8 560.0,363.3 560.5,363.9 561.0,365.5 561.5,366.6 562.0,367.9 562.5,369.2 563.0,370.4 563.5,371.1 564.0,372.5 564.5,372.8 565.0,374.7 565.5,375.6 566.0,375.9 566.5,376.6 567.0,377.8 567.5,378.1 568.0,379.6 568.5,380.4 569.0,380.5 569.5,381.4 570.0,382.4 570.5,380.5 571.0,377.9 571.5,374.9 572.0,362.1 572.5,349.4 573.0,337.2 573.5,325.7 574.0,318.0 574.5,312.1 575.0,314.9 575.5,316.7 576.0,322.0 576.5,326.6 577.0,332.0 577.5,335.5 578.0,337.3 578.5,340.5 579.0,343.6 579.5,345.3 580.0,345.7 580.5,346.2 581.0,346.7 581.5,344.9 582.0,344.8 582.5,345.3 583.0,347.5 583.5,349.7 584.0,350.5 584.5,352.0 585.0,354.0 585.5,354.9 586.0,356.5 586.5,358.2 587.0,359.8 587.5,360.7 588.0,362.5 588.5,364.3 589.0,365.9 589.5,365.6 590.0,368.3 590.5,369.3 591.0,369.6 591.5,370.6 592.0,372.7 592.5,373.5 593.0,375.0 593.5,376.2 594.0,376.6 594.5,377.7 595.0,378.7 595.5,379.8 596.0,381.1 596.5,382.0 597.0,382.0 597.5,382.3 598.0,384.0 598.5,381.2 599.0,378.4 599.5,375.1 600.0,365.0 600.5,351.3 601.0,338.5 601.5,325.1 602.0,315.9 602.5,308.7 603.0,305.8 603.5,309.0 604.0,313.0 604.5,317.2 605.0,322.0 605.5,326.8 606.0,329.8 606.5,333.6 607.0,335.8 607.5,339.4 608.0,342.3 608.5,341.9 609.0,342.9 609.5,343.2 610.0,341.8 610.5,341.1 611.0,340.1 611.5,342.4 612.0,344.3 612.5,345.1 613.0,347.2 613.5,349.2 614.0,350.9 614.5,350.6 615.0,353.7 615.5,354.5 616.0,356.6 616.5,357.2 617.0,358.4 617.5,360.2 618.0,362.0 618.5,362.6 619.0,362.8 619.5,365.3 620.0,365.5 620.5,367.0 621.0,368.1 621.5,369.0 622.0,370.4 622.5,371.7 623.0,372.9 623.5,374.0 624.0,374.8 624.5,375.1 625.0,376.6 625.5,378.0 626.0,378.9 626.5,379.4 627.0,380.2 627.5,380.8 628.0,381.5 628.5,380.0 629.0,377.0 629.5,374.8 630.0,366.0 630.5,355.2 631.0,344.4 631.5,331.8 632.0,325.2 632.5,317.7 633.0,319.0 633.5,321.1 634.0,324.5 634.5,328.4 635.0,333.0 635.5,336.2 636.0,339.2 636.5,341.5 637.0,343.8 637.5,346.3 638.0,347.9 638.5,347.8 639.0,349.1 639.5,349.0 640.0,347.7 640.5,347.3 641.0,347.5 641.5,348.1 642.0,350.1 642.5,351.6 643.0,352.8 643.5,354.6 644.0,355.3 644.5,356.7 645.0,358.2 645.5,359.5 646.0,360.7 646.5,362.8 647.0,362.8 647.5,364.3 648.0,364.7 648.5,366.4 649.0,367.8 649.5,368.8 650.0,369.0 650.5,370.2 651.0,371.9 651.5,372.3 652.0,373.8 652.5,373.8 653.0,375.6 653.5,376.2 654.0,376.7 654.5,376.9 655.0,378.0 655.5,378.8 656.0,379.7 656.5,380.0 657.0,380.4 657.5,381.0 658.0,379.8 658.5,375.9 659.0,373.9 659.5,362.8 660.0,351.6 660.5,339.4 661.0,328.8 661.5,321.5 662.0,314.6 662.5,316.1 663.0,319.1 663.5,323.2 664.0,327.5 664.5,331.3 665.0,335.5 665.5,337.2 666.0,341.0 666.5,341.7 667.0,345.4 667.5,346.0 668.0,347.4 668.5,346.8 669.0,347.4 669.5,345.0 670.0,345.9 670.5,346.8 671.0,348.3 671.5,350.1 672.0,352.6 672.5,353.3 673.0,353.2 673.5,356.1 674.0,357.0 674.5,357.5 675.0,359.9 675.5,360.3 676.0,362.2 676.5,363.5 677.0,364.2 677.5,365.9 678.0,366.2 678.5,367.8 679.0,368.6 679.5,369.9 680.0,371.9 680.5,372.2 681.0,372.8 681.5,374.1 682.0,374.6 682.5,375.8 683.0,376.6 683.5,377.4 684.0,378.2 684.5,378.7 685.0,379.9 685.5,380.7 686.0,380.4 686.5,380.2 687.0,377.8 687.5,375.8 688.0,369.6 688.5,356.5 689.0,344.5 689.5,331.5 690.0,321.0 690.5,314.4 691.0,309.9 691.5,312.9 692.0,315.4 692.5,319.4 693.0,324.7 693.5,328.9 694.0,332.5 694.5,335.1 695.0,338.1 695.5,340.9 696.0,343.7 696.5,343.6 697.0,344.7 697.5,344.4 698.0,343.7 698.5,343.5 699.0,342.2 699.5,343.3 700.0,346.2 700.5,347.7 701.0,349.5 701.5,350.4 702.0,351.8 702.5,352.9 703.0,354.1 703.5,356.4 704.0,356.9 704.5,358.2 705.0,359.6 705.5,362.0 706.0,362.7 706.5,363.3 707.0,364.6 707.5,365.9 708.0,367.3 708.5,367.3 709.0,369.5 709.5,370.2 710.0,371.1 710.5,372.3 711.0,373.7 711.5,374.9 712.0,375.1 712.5,376.1 713.0,376.3 713.5,377.7 714.0,378.7 714.5,378.3 715.0,379.2 715.5,380.3 716.0,377.2 716.5,375.3 717.0,373.2 717.5,360.9 718.0,348.8 718.5,336.3 719.0,324.0 719.5,314.2 720.0,308.0 720.5,307.0 721.0,310.3 721.5,314.3 722.0,318.6 722.5,323.3 723.0,326.9 723.5,329.9 724.0,332.9 724.5,336.1 725.0,339.5 725.5,340.4 726.0,341.5 726.5,341.6 727.0,341.4 727.5,341.8 728.0,340.1 728.5,341.0 729.0,342.6 729.5,343.5 730.0,344.9 730.5,348.4 731.0,348.7 731.5,349.8 732.0,352.1 732.5,353.3 733.0,354.3 733.5,355.9 734.0,357.6 734.5,359.0 735.0,360.6 735.5,361.3 736.0,362.5 736.5,364.1 737.0,365.2 737.5,366.8 738.0,367.4 738.5,368.6 739.0,369.3 739.5,371.7 740.0,371.5 740.5,373.1 741.0,373.5 741.5,374.9 742.0,376.0 742.5,375.8 743.0,377.3 743.5,377.5 744.0,379.5 744.5,379.2 745.0,379.2 745.5,377.6 746.0,375.9 746.5,373.4 747.0,361.5 747.5,347.9 748.0,335.6 748.5,323.9 749.0,315.1 749.5,308.2 750.0,309.6 750.5,312.4 751.0,317.8 751.5,322.1 752.0,326.5 752.5,330.4 753.0,333.4 753.5,336.3 754.0,338.4 754.5,341.0 755.0,341.6 755.5,343.0 756.0,342.7 756.5,341.3 757.0,340.9 757.5,340.2 758.0,342.3 758.5,344.1 759.0,345.0 759.5,346.7 760.0,348.2 760.5,349.2 761.0,351.0 761.5,352.6 762.0,353.8 762.5,354.4 763.0,355.9 763.5,358.4 764.0,358.6 764.5,360.6 765.0,361.7 765.5,362.4 766.0,363.2 766.5,364.9 767.0,365.6 767.5,367.0 768.0,368.3 768.5,369.1 769.0,370.2 769.5,371.1 770.0,371.5 770.5,372.8 771.0,373.4 771.5,373.7 772.0,375.3 772.5,376.1 773.0,376.4 773.5,376.2 774.0,377.1 774.5,374.5 775.0,372.0 775.5,365.6 776.0,352.7 776.5,341.1 777.0,328.5 777.5,319.2 778.0,311.1 778.5,306.9 779.0,308.7 779.5,311.9 780.0,316.6 780.5,321.5 781.0,325.8 781.5,328.9 782.0,330.6 782.5,334.6 783.0,336.3 783.5,340.1 784.0,340.6 784.5,340.6 785.0,341.0 785.5,339.0 786.0,339.7 786.5,338.1 787.0,340.0 787.5,340.8 788.0,342.8 788.5,343.9 789.0,345.6 789.5,347.0 790.0,348.4 790.5,350.1 791.0,351.0 791.5,352.1 792.0,353.2 792.5,355.4 793.0,355.5 793.5,357.4 794.0,357.1 794.5,358.7 795.0,360.3 795.5,361.2 796.0,363.7 796.5,364.6 797.0,363.8 797.5,365.1 798.0,366.5 798.5,368.2 799.0,368.7 799.5,369.2 800.0,369.2 800.5,370.2 801.0,370.2 801.5,371.5 802.0,373.0 802.5,373.6 803.0,373.1 803.5,372.0 804.0,370.3 804.5,366.8 805.0,355.0 805.5,343.8 806.0,332.2 806.5,321.4 807.0,314.5 807.5,310.5 808.0,313.4 808.5,316.3 809.0,321.4 809.5,325.4 810.0,329.6 810.5,332.6 811.0,335.0 811.5,337.5 812.0,339.6 812.5,340.5 813.0,342.1 813.5,341.2 814.0,340.4 814.5,339.3 815.0,339.3 815.5,341.0 816.0,342.9 816.5,343.9 817.0,344.7 817.5,346.9 818.0,348.5 818.5,349.4 819.0,350.5 819.5,352.1 820.0,353.8 820.5,354.4 821.0,355.0 821.5,356.5 822.0,357.7 822.5,358.1 823.0,360.3 823.5,360.7 824.0,362.3 824.5,363.3 825.0,364.1 825.5,366.0 826.0,365.9 826.5,366.7 827.0,367.9 827.5,368.9 828.0,369.3 828.5,369.7 829.0,371.2 829.5,371.8 830.0,372.9 830.5,372.3 831.0,370.8 831.5,368.2 832.0,365.5 832.5,354.5 833.0,342.9 833.5,330.1 834.0,318.3 834.5,311.1 835.0,305.7 835.5,307.6 836.0,311.1 836.5,314.9 837.0,319.9 837.5,324.1 838.0,326.7 838.5,330.6 839.0,333.6 839.5,335.3 840.0,338.7 840.5,339.1 841.0,339.4 841.5,339.9 842.0,338.2 842.5,338.2 843.0,339.1 843.5,339.9 844.0,342.3 844.5,344.8 845.0,345.9 845.5,347.2 846.0,348.5 846.5,350.5 847.0,351.9 847.5,353.8 848.0,354.4 848.5,357.1 849.0,357.8 849.5,359.5 850.0,360.1 850.5,361.1 851.0,362.6 851.5,363.6 852.0,365.1 852.5,366.8 853.0,368.2 853.5,369.0 854.0,369.7 854.5,370.6 855.0,372.0 855.5,373.1 856.0,373.4 856.5,374.3 857.0,374.9 857.5,376.2 858.0,377.1 858.5,375.8 859.0,376.8 859.5,373.9 860.0,370.5 860.5,364.2 861.0,351.8 861.5,339.8 862.0,326.9 862.5,319.4 863.0,311.6 863.5,310.5 864.0,314.1 864.5,317.5 865.0,321.9 865.5,326.3 866.0,328.7 866.5,332.9 867.0,334.6 867.5,337.4 868.0,340.3 868.5,340.3 869.0,341.1 869.5,341.7 870.0,340.3 870.5,339.6 871.0,338.2 871.5,339.9 872.0,341.5 872.5,343.7 873.0,346.6 873.5,346.2 874.0,347.2 874.5,348.4 875.0,350.1 875.5,351.1 876.0,351.4 876.5,353.5 877.0,354.3 877.5,355.8 878.0,355.6 878.5,356.8 879.0,358.8 879.5,358.8 880.0,360.8 880.5,361.9 881.0,362.8 881.5,364.0 882.0,364.9 882.5,365.7 883.0,366.1 883.5,367.0 884.0,369.1 884.5,369.1 885.0,369.6 885.5,370.3 886.0,370.2 886.5,371.1 887.0,370.5 887.5,368.7 888.0,365.5 888.5,358.5 889.0,347.6 889.5,336.5 890.0,325.6 890.5,315.2 891.0,307.7 891.5,304.9 892.0,307.3 892.5,310.9 893.0,314.9 893.5,318.8 894.0,324.1 894.5,326.7 895.0,329.2 895.5,332.0 896.0,335.4 896.5,336.5 897.0,336.8 897.5,337.8 898.0,336.5 898.5,336.6 899.0,335.0 899.5,335.6 900.0,337.6 900.5,340.0 901.0,340.6 901.5,342.8 902.0,343.9 902.5,344.4 903.0,346.8 903.5,347.4 904.0,348.4 904.5,350.0 905.0,351.4 905.5,353.3 906.0,353.8 906.5,355.9 907.0,356.5 907.5,357.1 908.0,358.2 908.5,359.8 909.0,359.8 909.5,360.9 910.0,362.6 910.5,364.3 911.0,364.9 911.5,365.6 912.0,366.4 912.5,366.3 913.0,367.9 913.5,368.1 914.0,370.1 914.5,370.3 915.0,370.7 915.5,371.4 916.0,369.6 916.5,367.1 917.0,364.8 917.5,353.4 918.0,340.6 918.5,328.8 919.0,316.7 919.5,307.7 920.0,299.9 920.5,299.7 921.0,302.1 921.5,306.5 922.0,310.7 922.5,315.8 923.0,321.3 923.5,323.7 924.0,327.0 924.5,328.9 925.0,331.9 925.5,334.4 926.0,335.3 926.5,335.5 927.0,336.1 927.5,334.4 928.0,334.3 928.5,334.4 929.0,335.4 929.5,338.1 930.0,339.7 930.5,342.1 931.0,343.0 931.5,344.9 932.0,346.6 932.5,346.7 933.0,348.7 933.5,351.3 934.0,352.8 934.5,354.8 935.0,355.8 935.5,356.4 936.0,358.4 936.5,359.2 937.0,360.7 937.5,361.8 938.0,363.5 938.5,363.9 939.0,365.3 939.5,366.1 940.0,369.2 940.5,368.7 941.0,369.7 941.5,370.5 942.0,371.6 942.5,372.6 943.0,374.0 943.5,374.8 944.0,375.5 944.5,375.6 945.0,376.4 945.5,375.1 946.0,372.2 946.5,370.0 947.0,359.4 947.5,349.3 948.0,338.0 948.5,327.3 949.0,317.2 949.5,312.2 950.0,310.2 950.5,312.8 951.0,315.6 951.5,320.0 952.0,324.2 952.5,327.8 953.0,330.4 953.5,332.8 954.0,335.2 954.5,337.7 955.0,339.8 955.5,339.5 956.0,341.4 956.5,340.4 957.0,340.2 957.5,338.7 958.0,338.3 958.5,339.4 959.0,341.3 959.5,342.4 960.0,343.6 960.5,345.5 961.0,347.1 961.5,347.7 962.0,348.7 962.5,349.3 963.0,350.8 963.5,352.1 964.0,352.8 964.5,354.6 965.0,355.2 965.5,356.4 966.0,357.0 966.5,358.0 967.0,359.3 967.5,360.3 968.0,361.3 968.5,361.6 969.0,362.7 969.5,364.0 970.0,364.0 970.5,366.0 971.0,366.4 971.5,367.0 972.0,367.4 972.5,368.8 973.0,369.0 973.5,370.7 974.0,370.5 974.5,370.1 975.0,371.5 975.5,369.3 976.0,367.0 976.5,364.9 977.0,356.9 977.5,345.9 978.0,335.0 978.5,323.7 979.0,313.2 979.5,306.5 980.0,300.7 980.5,303.8 981.0,306.6 981.5,310.8 982.0,313.5 982.5,318.2 983.0,322.1 983.5,324.5 984.0,327.3 984.5,329.6 985.0,332.1 985.5,334.4 986.0,335.3 986.5,336.1 987.0,336.8 987.5,335.1 988.0,334.0 988.5,333.5 989.0,334.1 989.5,336.5 990.0,337.3 990.5,339.3 991.0,340.1 991.5,341.8 992.0,343.3 992.5,345.2 993.0,345.5 993.5,347.2 994.0,347.4 994.5,349.0 995.0,350.5 995.5,351.9 996.0,353.4 996.5,354.5 997.0,354.6 997.5,356.6 998.0,356.9 998.5,359.3 999.0,359.6 999.5,360.6 1000.0,361.5 1000.5,362.6 1001.0,363.6 1001.5,364.1 1002.0,365.5 1002.5,366.1 1003.0,367.1 1003.5,367.5 1004.0,368.6 1004.5,368.7 1005.0,371.4 1005.5,370.0 1006.0,370.5 1006.5,371.6 1007.0,370.3 1007.5,367.6 1008.0,365.3 1008.5,362.7 1009.0,353.0 1009.5,343.1 1010.0,333.3 1010.5,323.8 1011.0,313.8 1011.5,306.9 1012.0,301.6 1012.5,298.6 1013.0,301.2 1013.5,302.8 1014.0,306.0 1014.5,310.4 1015.0,314.6 1015.5,317.4 1016.0,321.9 1016.5,324.2 1017.0,325.7 1017.5,327.5 1018.0,330.3 1018.5,332.8 1019.0,334.9 1019.5,334.4 1020.0,336.7 1020.5,337.2 1021.0,335.4 1021.5,334.1 1022.0,334.1 1022.5,333.6 1023.0,335.5 1023.5,336.8 1024.0,338.0 1024.5,338.8 1025.0,341.5 1025.5,343.0 1026.0,343.7 1026.5,345.3 1027.0,346.6 1027.5,347.7 1028.0,348.6 1028.5,350.5 1029.0,351.1 1029.5,353.6 1030.0,353.9 1030.5,355.7 1031.0,356.3 1031.5,357.8 1032.0,358.5 1032.5,359.9 1033.0,360.3 1033.5,360.9 1034.0,362.6 1034.5,363.5 1035.0,364.0 1035.5,365.4 1036.0,366.0 1036.5,367.8 1037.0,368.6 1037.5,369.5 1038.0,371.4 1038.5,371.1 1039.0,371.9 1039.5,372.8 1040.0,373.2 1040.5,373.7" fill="none" stroke="#a81c26" stroke-width="1" stroke-linejoin="round" opacity="0.25"/>
<g mask="url(#mTop)"><polyline points="81.0,359.9 81.5,359.9 82.0,361.1 82.5,362.3 83.0,362.7 83.5,363.9 84.0,364.8 84.5,364.8 85.0,366.9 85.5,367.5 86.0,367.8 86.5,368.9 87.0,370.0 87.5,370.5 88.0,371.3 88.5,371.6 89.0,373.4 89.5,374.0 90.0,374.7 90.5,374.5 91.0,376.6 91.5,376.5 92.0,376.9 92.5,378.6 93.0,378.3 93.5,378.3 94.0,379.4 94.5,379.1 95.0,381.2 95.5,380.9 96.0,381.1 96.5,382.2 97.0,380.5 97.5,378.9 98.0,375.1 98.5,367.5 99.0,354.3 99.5,342.6 100.0,329.9 100.5,319.9 101.0,313.0 101.5,313.2 102.0,316.5 102.5,320.4 103.0,324.7 103.5,329.4 104.0,334.1 104.5,337.8 105.0,339.8 105.5,342.4 106.0,346.0 106.5,345.8 107.0,346.2 107.5,346.2 108.0,345.0 108.5,343.9 109.0,344.2 109.5,346.9 110.0,348.5 110.5,350.9 111.0,351.8 111.5,352.5 112.0,354.8 112.5,357.1 113.0,357.6 113.5,358.8 114.0,360.2 114.5,361.7 115.0,363.4 115.5,364.2 116.0,366.6 116.5,367.0 117.0,368.4 117.5,370.2 118.0,371.5 118.5,371.9 119.0,373.4 119.5,374.7 120.0,375.2 120.5,375.4 121.0,377.3 121.5,378.3 122.0,379.0 122.5,379.3 123.0,380.5 123.5,380.9 124.0,381.5 124.5,381.8 125.0,379.2 125.5,376.1 126.0,368.7 126.5,355.2 127.0,341.3 127.5,327.7 128.0,316.2 128.5,308.7 129.0,306.2 129.5,308.7 130.0,312.0 130.5,316.9 131.0,321.7 131.5,327.2 132.0,330.4 132.5,332.6 133.0,336.5 133.5,339.1 134.0,342.3 134.5,342.2 135.0,343.5 135.5,342.3 136.0,341.3 136.5,340.5 137.0,341.5 137.5,343.2 138.0,344.3 138.5,346.9 139.0,348.5 139.5,349.9 140.0,351.3 140.5,353.9 141.0,354.5 141.5,355.8 142.0,358.0 142.5,359.3 143.0,360.8 143.5,362.5 144.0,363.6 144.5,364.8 145.0,366.4 145.5,367.4 146.0,368.2 146.5,369.6 147.0,370.8 147.5,372.4 148.0,373.1 148.5,373.7 149.0,375.5 149.5,375.8 150.0,376.4 150.5,378.4 151.0,378.9 151.5,380.4 152.0,380.6 152.5,380.8 153.0,381.3 153.5,379.6 154.0,377.0 154.5,374.1 155.0,361.6 155.5,347.5 156.0,334.6 156.5,320.2 157.0,312.6 157.5,305.2 158.0,307.3 158.5,310.6 159.0,313.9 159.5,320.0 160.0,325.2 160.5,329.3 161.0,331.5 161.5,335.2 162.0,338.9 162.5,340.5 163.0,342.4 163.5,343.2 164.0,343.0 164.5,342.5 165.0,340.7 165.5,340.0 166.0,341.9 166.5,344.4 167.0,346.2 167.5,348.6 168.0,349.4 168.5,351.3 169.0,353.4 169.5,354.7 170.0,355.5 170.5,357.9 171.0,359.0 171.5,360.9 172.0,362.4 172.5,364.1 173.0,364.9 173.5,365.3 174.0,366.8 174.5,369.0 175.0,369.9 175.5,371.8 176.0,372.7 176.5,373.5 177.0,375.4 177.5,375.5 178.0,375.9 178.5,378.7 179.0,377.9 179.5,380.0 180.0,381.1 180.5,381.6 181.0,381.3 181.5,383.1 182.0,381.6 182.5,379.1 183.0,377.1 183.5,370.8 184.0,358.1 184.5,345.8 185.0,332.7 185.5,322.5 186.0,314.9 186.5,312.0 187.0,315.2 187.5,318.3 188.0,323.3 188.5,327.4 189.0,332.0 189.5,335.2 190.0,337.9 190.5,341.1 191.0,343.7 191.5,346.5 192.0,346.1 192.5,346.6 193.0,346.1 193.5,345.6 194.0,344.9 194.5,344.8 195.0,346.9 195.5,349.0 196.0,350.5 196.5,351.9 197.0,354.0 197.5,355.0 198.0,356.5 198.5,358.3 199.0,359.7 199.5,360.5 200.0,361.8 200.5,363.6 201.0,364.6 201.5,365.0 202.0,367.6 202.5,368.2 203.0,369.7 203.5,370.0 204.0,372.3 204.5,372.6 205.0,374.0 205.5,374.6 206.0,376.0 206.5,376.8 207.0,377.7 207.5,378.9 208.0,379.6 208.5,380.9 209.0,381.1 209.5,381.4 210.0,382.4 210.5,383.2 211.0,381.2 211.5,378.0 212.0,372.8 212.5,359.1 213.0,345.0 213.5,329.7 214.0,316.9 214.5,308.9 215.0,305.2 215.5,309.1 216.0,313.2 216.5,319.1 217.0,324.1 217.5,328.2 218.0,332.1 218.5,335.5 219.0,338.1 219.5,341.4 220.0,341.2 220.5,343.2 221.0,342.6 221.5,340.7 222.0,339.7 222.5,341.1 223.0,343.6 223.5,345.3 224.0,347.6 224.5,348.6 225.0,350.1 225.5,352.7 226.0,354.2 226.5,355.6 227.0,357.8 227.5,358.4 228.0,360.3 228.5,362.4 229.0,364.1 229.5,364.6 230.0,366.7 230.5,367.1 231.0,368.8 231.5,370.0 232.0,370.7 232.5,372.9 233.0,374.4 233.5,374.9 234.0,375.9 234.5,377.6 235.0,377.4 235.5,378.3 236.0,379.6 236.5,380.2 237.0,381.9 237.5,382.0 238.0,379.4 238.5,376.7 239.0,375.5 239.5,360.0 240.0,346.0 240.5,332.6 241.0,319.3 241.5,311.1 242.0,304.0 242.5,307.0 243.0,311.3 243.5,316.1 244.0,320.5 244.5,326.9 245.0,330.3 245.5,332.9 246.0,336.1 246.5,339.4 247.0,341.3 247.5,341.6 248.0,342.9 248.5,341.8 249.0,341.5 249.5,339.5 250.0,341.3 250.5,343.2 251.0,346.1 251.5,346.8 252.0,348.3 252.5,350.2 253.0,351.6 253.5,353.4 254.0,355.4 254.5,357.2 255.0,359.2 255.5,359.7 256.0,362.7 256.5,363.7 257.0,364.0 257.5,364.4 258.0,366.7 258.5,368.1 259.0,368.3 259.5,370.7 260.0,371.9 260.5,372.9 261.0,374.6 261.5,375.7 262.0,376.0 262.5,377.3 263.0,377.8 263.5,378.7 264.0,380.1 264.5,381.0 265.0,381.1 265.5,380.9 266.0,380.0 266.5,376.1 267.0,373.5 267.5,360.0 268.0,345.0 268.5,330.4 269.0,317.3 269.5,310.4 270.0,304.9 270.5,308.4 271.0,312.4 271.5,317.2 272.0,322.2 272.5,327.0 273.0,329.2 273.5,333.1 274.0,336.9 274.5,340.0 275.0,341.7 275.5,342.0 276.0,342.7 276.5,342.0 277.0,340.1 277.5,339.7 278.0,341.1 278.5,344.3 279.0,345.9 279.5,347.9 280.0,350.0 280.5,351.3 281.0,352.4 281.5,354.3 282.0,354.9 282.5,357.3 283.0,358.8 283.5,359.5 284.0,362.2 284.5,362.6 285.0,364.5 285.5,365.4 286.0,367.3 286.5,368.8 287.0,369.1 287.5,370.1 288.0,372.1 288.5,373.6 289.0,374.0 289.5,374.9 290.0,376.3 290.5,375.8 291.0,377.8 291.5,378.4 292.0,379.9 292.5,380.0 293.0,380.4 293.5,378.7 294.0,375.6 294.5,373.1 295.0,359.7 295.5,346.8 296.0,333.6 296.5,322.3 297.0,314.4 297.5,310.1 298.0,313.0 298.5,316.1 299.0,321.5 299.5,326.2 300.0,330.9 300.5,333.5 301.0,336.4 301.5,339.9 302.0,343.5 302.5,343.5 303.0,344.7 303.5,344.8 304.0,344.4 304.5,343.2 305.0,342.9 305.5,343.0 306.0,345.9 306.5,347.6 307.0,349.7 307.5,350.9 308.0,352.4 308.5,354.5 309.0,356.6 309.5,355.9 310.0,358.5 310.5,360.3 311.0,361.6 311.5,362.7 312.0,363.5 312.5,364.9 313.0,366.9 313.5,368.3 314.0,369.1 314.5,369.9 315.0,371.5 315.5,372.6 316.0,374.0 316.5,374.7 317.0,375.2 317.5,376.5 318.0,376.8 318.5,378.6 319.0,379.7 319.5,379.3 320.0,380.6 320.5,380.4 321.0,379.2 321.5,376.3 322.0,372.4 322.5,359.0 323.0,344.3 323.5,330.3 324.0,317.5 324.5,309.7 325.0,304.7 325.5,308.1 326.0,311.6 326.5,317.4 327.0,322.6 327.5,326.9 328.0,329.6 328.5,333.7 329.0,337.0 329.5,339.5 330.0,340.5 330.5,341.7 331.0,342.8 331.5,340.3 332.0,340.3 332.5,339.3 333.0,341.0 333.5,343.6 334.0,344.7 334.5,347.3 335.0,349.3 335.5,350.3 336.0,351.4 336.5,352.5 337.0,354.3 337.5,355.6 338.0,358.7 338.5,359.4 339.0,360.4 339.5,361.6 340.0,363.0 340.5,364.6 341.0,365.5 341.5,368.1 342.0,368.3 342.5,369.6 343.0,371.4 343.5,373.0 344.0,373.9 344.5,374.0 345.0,375.3 345.5,376.2 346.0,377.3 346.5,378.2 347.0,378.4 347.5,378.8 348.0,380.0 348.5,377.3 349.0,375.6 349.5,371.7 350.0,357.4 350.5,343.9 351.0,330.0 351.5,317.6 352.0,310.2 352.5,304.2 353.0,307.2 353.5,312.0 354.0,316.8 354.5,322.1 355.0,327.2 355.5,330.0 356.0,333.5 356.5,335.9 357.0,339.4 357.5,340.5 358.0,340.9 358.5,342.2 359.0,341.3 359.5,339.0 360.0,338.8 360.5,341.4 361.0,343.7 361.5,344.9 362.0,346.9 362.5,348.0 363.0,351.3 363.5,351.9 364.0,353.7 364.5,355.2 365.0,356.8 365.5,358.3 366.0,359.4 366.5,361.2 367.0,362.2 367.5,364.0 368.0,364.4 368.5,365.8 369.0,367.6 369.5,369.2 370.0,370.0 370.5,370.9 371.0,372.3 371.5,373.0 372.0,375.1 372.5,375.6 373.0,376.7 373.5,377.2 374.0,377.8 374.5,379.3 375.0,380.1 375.5,380.2 376.0,377.8 376.5,375.5 377.0,370.9 377.5,357.6 378.0,343.0 378.5,329.0 379.0,317.7 379.5,309.7 380.0,307.2 380.5,309.4 381.0,313.8 381.5,318.3 382.0,323.1 382.5,327.6 383.0,331.8 383.5,334.2 384.0,338.3 384.5,341.6 385.0,341.4 385.5,342.8 386.0,342.3 386.5,341.6 387.0,339.9 387.5,341.1 388.0,342.2 388.5,344.9 389.0,346.4 389.5,348.2 390.0,350.1 390.5,351.5 391.0,352.9 391.5,354.9 392.0,356.5 392.5,357.1 393.0,359.5 393.5,361.0 394.0,361.6 394.5,363.5 395.0,364.0 395.5,366.5 396.0,367.1 396.5,368.5 397.0,370.4 397.5,371.1 398.0,372.5 398.5,372.7 399.0,373.9 399.5,374.5 400.0,376.0 400.5,377.5 401.0,378.1 401.5,379.2 402.0,378.9 402.5,379.5 403.0,377.8 403.5,375.8 404.0,373.2 404.5,360.6 405.0,348.4 405.5,335.5 406.0,323.5 406.5,316.9 407.0,310.1 407.5,313.3 408.0,317.1 408.5,321.0 409.0,325.9 409.5,329.9 410.0,334.3 410.5,335.2 411.0,338.6 411.5,341.4 412.0,344.7 412.5,344.7 413.0,344.9 413.5,344.2 414.0,344.0 414.5,342.8 415.0,343.5 415.5,345.0 416.0,347.0 416.5,349.4 417.0,350.9 417.5,352.3 418.0,353.6 418.5,354.4 419.0,356.6 419.5,357.6 420.0,359.5 420.5,361.2 421.0,362.0 421.5,363.0 422.0,365.1 422.5,366.0 423.0,366.8 423.5,366.9 424.0,369.4 424.5,370.9 425.0,372.4 425.5,372.7 426.0,373.7 426.5,374.6 427.0,376.1 427.5,376.1 428.0,377.4 428.5,377.9 429.0,379.3 429.5,379.2 430.0,380.6 430.5,380.7 431.0,378.7 431.5,376.2 432.0,372.4 432.5,357.4 433.0,344.8 433.5,330.9 434.0,319.1 434.5,312.0 435.0,309.2 435.5,312.8 436.0,316.3 436.5,321.2 437.0,327.1 437.5,331.7 438.0,334.1 438.5,337.3 439.0,339.7 439.5,342.0 440.0,343.0 440.5,344.3 441.0,342.6 441.5,342.1 442.0,340.4 442.5,342.6 443.0,344.8 443.5,345.8 444.0,348.1 444.5,350.4 445.0,351.3 445.5,352.3 446.0,353.8 446.5,355.0 447.0,357.8 447.5,358.6 448.0,360.9 448.5,362.1 449.0,362.7 449.5,364.0 450.0,365.9 450.5,366.9 451.0,368.2 451.5,368.6 452.0,371.1 452.5,371.5 453.0,371.9 453.5,373.6 454.0,375.0 454.5,376.7 455.0,376.5 455.5,377.0 456.0,379.5 456.5,379.2 457.0,379.5 457.5,378.7 458.0,376.0 458.5,374.4 459.0,365.3 459.5,351.6 460.0,338.1 460.5,325.6 461.0,314.8 461.5,307.6 462.0,307.3 462.5,310.4 463.0,314.3 463.5,320.0 464.0,325.4 464.5,328.8 465.0,331.4 465.5,334.3 466.0,338.0 466.5,340.8 467.0,341.5 467.5,342.1 468.0,341.6 468.5,341.5 469.0,340.2 469.5,340.3 470.0,342.4 470.5,344.6 471.0,346.2 471.5,347.5 472.0,349.9 472.5,350.7 473.0,352.1 473.5,353.3 474.0,355.5 474.5,356.6 475.0,358.3 475.5,360.2 476.0,361.3 476.5,363.0 477.0,364.0 477.5,364.9 478.0,366.2 478.5,367.4 479.0,369.2 479.5,370.2 480.0,371.3 480.5,372.9 481.0,373.5 481.5,374.2 482.0,374.6 482.5,376.4 483.0,377.3 483.5,378.1 484.0,378.6 484.5,379.0 485.0,379.8 485.5,378.0 486.0,375.3 486.5,372.7 487.0,360.1 487.5,347.4 488.0,334.4 488.5,321.0 489.0,314.0 489.5,306.6 490.0,309.2 490.5,311.8 491.0,316.5 491.5,320.8 492.0,326.4 492.5,328.8 493.0,332.6 493.5,335.5 494.0,339.0 494.5,341.5 495.0,341.6 495.5,341.9 496.0,342.5 496.5,341.9 497.0,340.8 497.5,340.5 498.0,342.1 498.5,344.2 499.0,346.6 499.5,347.4 500.0,349.4 500.5,351.6 501.0,352.5 501.5,353.6 502.0,355.5 502.5,356.4 503.0,358.2 503.5,360.4 504.0,361.8 504.5,361.4 505.0,363.7 505.5,365.5 506.0,365.6 506.5,367.2 507.0,368.9 507.5,369.3 508.0,370.9 508.5,371.9 509.0,371.9 509.5,373.9 510.0,374.5 510.5,375.9 511.0,377.3 511.5,377.6 512.0,378.0 512.5,379.1 513.0,379.5 513.5,380.4 514.0,377.5 514.5,375.2 515.0,372.5 515.5,362.0 516.0,349.7 516.5,337.5 517.0,325.6 517.5,318.8 518.0,312.2 518.5,315.2 519.0,318.0 519.5,323.2 520.0,327.2 520.5,331.1 521.0,334.4 521.5,338.0 522.0,340.3 522.5,343.0 523.0,345.6 523.5,346.4 524.0,345.7 524.5,345.9 525.0,344.5 525.5,344.6 526.0,344.6 526.5,346.2 527.0,347.9 527.5,350.3 528.0,351.4 528.5,352.7 529.0,354.9 529.5,355.2 530.0,356.5 530.5,359.6 531.0,359.7 531.5,361.0 532.0,362.3 532.5,363.7 533.0,365.2 533.5,366.4 534.0,367.4 534.5,368.2 535.0,368.8 535.5,370.7 536.0,372.4 536.5,373.3 537.0,373.8 537.5,375.1 538.0,375.4 538.5,376.4 539.0,376.7 539.5,377.9 540.0,379.0 540.5,379.6 541.0,380.5 541.5,381.5 542.0,380.9 542.5,377.8 543.0,375.2 543.5,368.4 544.0,356.3 544.5,344.8 545.0,333.0 545.5,323.6 546.0,316.7 546.5,315.1 547.0,317.7 547.5,321.1 548.0,326.6 548.5,330.7 549.0,333.9 549.5,336.7 550.0,339.5 550.5,342.5 551.0,345.8 551.5,346.9 552.0,347.5 552.5,348.0 553.0,347.3 553.5,346.1 554.0,345.1 554.5,346.6 555.0,347.6 555.5,350.0 556.0,352.6 556.5,353.0 557.0,354.3 557.5,356.4 558.0,357.4 558.5,358.5 559.0,360.9 559.5,361.8 560.0,363.3 560.5,363.9 561.0,365.5 561.5,366.6 562.0,367.9 562.5,369.2 563.0,370.4 563.5,371.1 564.0,372.5 564.5,372.8 565.0,374.7 565.5,375.6 566.0,375.9 566.5,376.6 567.0,377.8 567.5,378.1 568.0,379.6 568.5,380.4 569.0,380.5 569.5,381.4 570.0,382.4 570.5,380.5 571.0,377.9 571.5,374.9 572.0,362.1 572.5,349.4 573.0,337.2 573.5,325.7 574.0,318.0 574.5,312.1 575.0,314.9 575.5,316.7 576.0,322.0 576.5,326.6 577.0,332.0 577.5,335.5 578.0,337.3 578.5,340.5 579.0,343.6 579.5,345.3 580.0,345.7 580.5,346.2 581.0,346.7 581.5,344.9 582.0,344.8 582.5,345.3 583.0,347.5 583.5,349.7 584.0,350.5 584.5,352.0 585.0,354.0 585.5,354.9 586.0,356.5 586.5,358.2 587.0,359.8 587.5,360.7 588.0,362.5 588.5,364.3 589.0,365.9 589.5,365.6 590.0,368.3 590.5,369.3 591.0,369.6 591.5,370.6 592.0,372.7 592.5,373.5 593.0,375.0 593.5,376.2 594.0,376.6 594.5,377.7 595.0,378.7 595.5,379.8 596.0,381.1 596.5,382.0 597.0,382.0 597.5,382.3 598.0,384.0 598.5,381.2 599.0,378.4 599.5,375.1 600.0,365.0 600.5,351.3 601.0,338.5 601.5,325.1 602.0,315.9 602.5,308.7 603.0,305.8 603.5,309.0 604.0,313.0 604.5,317.2 605.0,322.0 605.5,326.8 606.0,329.8 606.5,333.6 607.0,335.8 607.5,339.4 608.0,342.3 608.5,341.9 609.0,342.9 609.5,343.2 610.0,341.8 610.5,341.1 611.0,340.1 611.5,342.4 612.0,344.3 612.5,345.1 613.0,347.2 613.5,349.2 614.0,350.9 614.5,350.6 615.0,353.7 615.5,354.5 616.0,356.6 616.5,357.2 617.0,358.4 617.5,360.2 618.0,362.0 618.5,362.6 619.0,362.8 619.5,365.3 620.0,365.5 620.5,367.0 621.0,368.1 621.5,369.0 622.0,370.4 622.5,371.7 623.0,372.9 623.5,374.0 624.0,374.8 624.5,375.1 625.0,376.6 625.5,378.0 626.0,378.9 626.5,379.4 627.0,380.2 627.5,380.8 628.0,381.5 628.5,380.0 629.0,377.0 629.5,374.8 630.0,366.0 630.5,355.2 631.0,344.4 631.5,331.8 632.0,325.2 632.5,317.7 633.0,319.0 633.5,321.1 634.0,324.5 634.5,328.4 635.0,333.0 635.5,336.2 636.0,339.2 636.5,341.5 637.0,343.8 637.5,346.3 638.0,347.9 638.5,347.8 639.0,349.1 639.5,349.0 640.0,347.7 640.5,347.3 641.0,347.5 641.5,348.1 642.0,350.1 642.5,351.6 643.0,352.8 643.5,354.6 644.0,355.3 644.5,356.7 645.0,358.2 645.5,359.5 646.0,360.7 646.5,362.8 647.0,362.8 647.5,364.3 648.0,364.7 648.5,366.4 649.0,367.8 649.5,368.8 650.0,369.0 650.5,370.2 651.0,371.9 651.5,372.3 652.0,373.8 652.5,373.8 653.0,375.6 653.5,376.2 654.0,376.7 654.5,376.9 655.0,378.0 655.5,378.8 656.0,379.7 656.5,380.0 657.0,380.4 657.5,381.0 658.0,379.8 658.5,375.9 659.0,373.9 659.5,362.8 660.0,351.6 660.5,339.4 661.0,328.8 661.5,321.5 662.0,314.6 662.5,316.1 663.0,319.1 663.5,323.2 664.0,327.5 664.5,331.3 665.0,335.5 665.5,337.2 666.0,341.0 666.5,341.7 667.0,345.4 667.5,346.0 668.0,347.4 668.5,346.8 669.0,347.4 669.5,345.0 670.0,345.9 670.5,346.8 671.0,348.3 671.5,350.1 672.0,352.6 672.5,353.3 673.0,353.2 673.5,356.1 674.0,357.0 674.5,357.5 675.0,359.9 675.5,360.3 676.0,362.2 676.5,363.5 677.0,364.2 677.5,365.9 678.0,366.2 678.5,367.8 679.0,368.6 679.5,369.9 680.0,371.9 680.5,372.2 681.0,372.8 681.5,374.1 682.0,374.6 682.5,375.8 683.0,376.6 683.5,377.4 684.0,378.2 684.5,378.7 685.0,379.9 685.5,380.7 686.0,380.4 686.5,380.2 687.0,377.8 687.5,375.8 688.0,369.6 688.5,356.5 689.0,344.5 689.5,331.5 690.0,321.0 690.5,314.4 691.0,309.9 691.5,312.9 692.0,315.4 692.5,319.4 693.0,324.7 693.5,328.9 694.0,332.5 694.5,335.1 695.0,338.1 695.5,340.9 696.0,343.7 696.5,343.6 697.0,344.7 697.5,344.4 698.0,343.7 698.5,343.5 699.0,342.2 699.5,343.3 700.0,346.2 700.5,347.7 701.0,349.5 701.5,350.4 702.0,351.8 702.5,352.9 703.0,354.1 703.5,356.4 704.0,356.9 704.5,358.2 705.0,359.6 705.5,362.0 706.0,362.7 706.5,363.3 707.0,364.6 707.5,365.9 708.0,367.3 708.5,367.3 709.0,369.5 709.5,370.2 710.0,371.1 710.5,372.3 711.0,373.7 711.5,374.9 712.0,375.1 712.5,376.1 713.0,376.3 713.5,377.7 714.0,378.7 714.5,378.3 715.0,379.2 715.5,380.3 716.0,377.2 716.5,375.3 717.0,373.2 717.5,360.9 718.0,348.8 718.5,336.3 719.0,324.0 719.5,314.2 720.0,308.0 720.5,307.0 721.0,310.3 721.5,314.3 722.0,318.6 722.5,323.3 723.0,326.9 723.5,329.9 724.0,332.9 724.5,336.1 725.0,339.5 725.5,340.4 726.0,341.5 726.5,341.6 727.0,341.4 727.5,341.8 728.0,340.1 728.5,341.0 729.0,342.6 729.5,343.5 730.0,344.9 730.5,348.4 731.0,348.7 731.5,349.8 732.0,352.1 732.5,353.3 733.0,354.3 733.5,355.9 734.0,357.6 734.5,359.0 735.0,360.6 735.5,361.3 736.0,362.5 736.5,364.1 737.0,365.2 737.5,366.8 738.0,367.4 738.5,368.6 739.0,369.3 739.5,371.7 740.0,371.5 740.5,373.1 741.0,373.5 741.5,374.9 742.0,376.0 742.5,375.8 743.0,377.3 743.5,377.5 744.0,379.5 744.5,379.2 745.0,379.2 745.5,377.6 746.0,375.9 746.5,373.4 747.0,361.5 747.5,347.9 748.0,335.6 748.5,323.9 749.0,315.1 749.5,308.2 750.0,309.6 750.5,312.4 751.0,317.8 751.5,322.1 752.0,326.5 752.5,330.4 753.0,333.4 753.5,336.3 754.0,338.4 754.5,341.0 755.0,341.6 755.5,343.0 756.0,342.7 756.5,341.3 757.0,340.9 757.5,340.2 758.0,342.3 758.5,344.1 759.0,345.0 759.5,346.7 760.0,348.2 760.5,349.2 761.0,351.0 761.5,352.6 762.0,353.8 762.5,354.4 763.0,355.9 763.5,358.4 764.0,358.6 764.5,360.6 765.0,361.7 765.5,362.4 766.0,363.2 766.5,364.9 767.0,365.6 767.5,367.0 768.0,368.3 768.5,369.1 769.0,370.2 769.5,371.1 770.0,371.5 770.5,372.8 771.0,373.4 771.5,373.7 772.0,375.3 772.5,376.1 773.0,376.4 773.5,376.2 774.0,377.1 774.5,374.5 775.0,372.0 775.5,365.6 776.0,352.7 776.5,341.1 777.0,328.5 777.5,319.2 778.0,311.1 778.5,306.9 779.0,308.7 779.5,311.9 780.0,316.6 780.5,321.5 781.0,325.8 781.5,328.9 782.0,330.6 782.5,334.6 783.0,336.3 783.5,340.1 784.0,340.6 784.5,340.6 785.0,341.0 785.5,339.0 786.0,339.7 786.5,338.1 787.0,340.0 787.5,340.8 788.0,342.8 788.5,343.9 789.0,345.6 789.5,347.0 790.0,348.4 790.5,350.1 791.0,351.0 791.5,352.1 792.0,353.2 792.5,355.4 793.0,355.5 793.5,357.4 794.0,357.1 794.5,358.7 795.0,360.3 795.5,361.2 796.0,363.7 796.5,364.6 797.0,363.8 797.5,365.1 798.0,366.5 798.5,368.2 799.0,368.7 799.5,369.2 800.0,369.2 800.5,370.2 801.0,370.2 801.5,371.5 802.0,373.0 802.5,373.6 803.0,373.1 803.5,372.0 804.0,370.3 804.5,366.8 805.0,355.0 805.5,343.8 806.0,332.2 806.5,321.4 807.0,314.5 807.5,310.5 808.0,313.4 808.5,316.3 809.0,321.4 809.5,325.4 810.0,329.6 810.5,332.6 811.0,335.0 811.5,337.5 812.0,339.6 812.5,340.5 813.0,342.1 813.5,341.2 814.0,340.4 814.5,339.3 815.0,339.3 815.5,341.0 816.0,342.9 816.5,343.9 817.0,344.7 817.5,346.9 818.0,348.5 818.5,349.4 819.0,350.5 819.5,352.1 820.0,353.8 820.5,354.4 821.0,355.0 821.5,356.5 822.0,357.7 822.5,358.1 823.0,360.3 823.5,360.7 824.0,362.3 824.5,363.3 825.0,364.1 825.5,366.0 826.0,365.9 826.5,366.7 827.0,367.9 827.5,368.9 828.0,369.3 828.5,369.7 829.0,371.2 829.5,371.8 830.0,372.9 830.5,372.3 831.0,370.8 831.5,368.2 832.0,365.5 832.5,354.5 833.0,342.9 833.5,330.1 834.0,318.3 834.5,311.1 835.0,305.7 835.5,307.6 836.0,311.1 836.5,314.9 837.0,319.9 837.5,324.1 838.0,326.7 838.5,330.6 839.0,333.6 839.5,335.3 840.0,338.7 840.5,339.1 841.0,339.4 841.5,339.9 842.0,338.2 842.5,338.2 843.0,339.1 843.5,339.9 844.0,342.3 844.5,344.8 845.0,345.9 845.5,347.2 846.0,348.5 846.5,350.5 847.0,351.9 847.5,353.8 848.0,354.4 848.5,357.1 849.0,357.8 849.5,359.5 850.0,360.1 850.5,361.1 851.0,362.6 851.5,363.6 852.0,365.1 852.5,366.8 853.0,368.2 853.5,369.0 854.0,369.7 854.5,370.6 855.0,372.0 855.5,373.1 856.0,373.4 856.5,374.3 857.0,374.9 857.5,376.2 858.0,377.1 858.5,375.8 859.0,376.8 859.5,373.9 860.0,370.5 860.5,364.2 861.0,351.8 861.5,339.8 862.0,326.9 862.5,319.4 863.0,311.6 863.5,310.5 864.0,314.1 864.5,317.5 865.0,321.9 865.5,326.3 866.0,328.7 866.5,332.9 867.0,334.6 867.5,337.4 868.0,340.3 868.5,340.3 869.0,341.1 869.5,341.7 870.0,340.3 870.5,339.6 871.0,338.2 871.5,339.9 872.0,341.5 872.5,343.7 873.0,346.6 873.5,346.2 874.0,347.2 874.5,348.4 875.0,350.1 875.5,351.1 876.0,351.4 876.5,353.5 877.0,354.3 877.5,355.8 878.0,355.6 878.5,356.8 879.0,358.8 879.5,358.8 880.0,360.8 880.5,361.9 881.0,362.8 881.5,364.0 882.0,364.9 882.5,365.7 883.0,366.1 883.5,367.0 884.0,369.1 884.5,369.1 885.0,369.6 885.5,370.3 886.0,370.2 886.5,371.1 887.0,370.5 887.5,368.7 888.0,365.5 888.5,358.5 889.0,347.6 889.5,336.5 890.0,325.6 890.5,315.2 891.0,307.7 891.5,304.9 892.0,307.3 892.5,310.9 893.0,314.9 893.5,318.8 894.0,324.1 894.5,326.7 895.0,329.2 895.5,332.0 896.0,335.4 896.5,336.5 897.0,336.8 897.5,337.8 898.0,336.5 898.5,336.6 899.0,335.0 899.5,335.6 900.0,337.6 900.5,340.0 901.0,340.6 901.5,342.8 902.0,343.9 902.5,344.4 903.0,346.8 903.5,347.4 904.0,348.4 904.5,350.0 905.0,351.4 905.5,353.3 906.0,353.8 906.5,355.9 907.0,356.5 907.5,357.1 908.0,358.2 908.5,359.8 909.0,359.8 909.5,360.9 910.0,362.6 910.5,364.3 911.0,364.9 911.5,365.6 912.0,366.4 912.5,366.3 913.0,367.9 913.5,368.1 914.0,370.1 914.5,370.3 915.0,370.7 915.5,371.4 916.0,369.6 916.5,367.1 917.0,364.8 917.5,353.4 918.0,340.6 918.5,328.8 919.0,316.7 919.5,307.7 920.0,299.9 920.5,299.7 921.0,302.1 921.5,306.5 922.0,310.7 922.5,315.8 923.0,321.3 923.5,323.7 924.0,327.0 924.5,328.9 925.0,331.9 925.5,334.4 926.0,335.3 926.5,335.5 927.0,336.1 927.5,334.4 928.0,334.3 928.5,334.4 929.0,335.4 929.5,338.1 930.0,339.7 930.5,342.1 931.0,343.0 931.5,344.9 932.0,346.6 932.5,346.7 933.0,348.7 933.5,351.3 934.0,352.8 934.5,354.8 935.0,355.8 935.5,356.4 936.0,358.4 936.5,359.2 937.0,360.7 937.5,361.8 938.0,363.5 938.5,363.9 939.0,365.3 939.5,366.1 940.0,369.2 940.5,368.7 941.0,369.7 941.5,370.5 942.0,371.6 942.5,372.6 943.0,374.0 943.5,374.8 944.0,375.5 944.5,375.6 945.0,376.4 945.5,375.1 946.0,372.2 946.5,370.0 947.0,359.4 947.5,349.3 948.0,338.0 948.5,327.3 949.0,317.2 949.5,312.2 950.0,310.2 950.5,312.8 951.0,315.6 951.5,320.0 952.0,324.2 952.5,327.8 953.0,330.4 953.5,332.8 954.0,335.2 954.5,337.7 955.0,339.8 955.5,339.5 956.0,341.4 956.5,340.4 957.0,340.2 957.5,338.7 958.0,338.3 958.5,339.4 959.0,341.3 959.5,342.4 960.0,343.6 960.5,345.5 961.0,347.1 961.5,347.7 962.0,348.7 962.5,349.3 963.0,350.8 963.5,352.1 964.0,352.8 964.5,354.6 965.0,355.2 965.5,356.4 966.0,357.0 966.5,358.0 967.0,359.3 967.5,360.3 968.0,361.3 968.5,361.6 969.0,362.7 969.5,364.0 970.0,364.0 970.5,366.0 971.0,366.4 971.5,367.0 972.0,367.4 972.5,368.8 973.0,369.0 973.5,370.7 974.0,370.5 974.5,370.1 975.0,371.5 975.5,369.3 976.0,367.0 976.5,364.9 977.0,356.9 977.5,345.9 978.0,335.0 978.5,323.7 979.0,313.2 979.5,306.5 980.0,300.7 980.5,303.8 981.0,306.6 981.5,310.8 982.0,313.5 982.5,318.2 983.0,322.1 983.5,324.5 984.0,327.3 984.5,329.6 985.0,332.1 985.5,334.4 986.0,335.3 986.5,336.1 987.0,336.8 987.5,335.1 988.0,334.0 988.5,333.5 989.0,334.1 989.5,336.5 990.0,337.3 990.5,339.3 991.0,340.1 991.5,341.8 992.0,343.3 992.5,345.2 993.0,345.5 993.5,347.2 994.0,347.4 994.5,349.0 995.0,350.5 995.5,351.9 996.0,353.4 996.5,354.5 997.0,354.6 997.5,356.6 998.0,356.9 998.5,359.3 999.0,359.6 999.5,360.6 1000.0,361.5 1000.5,362.6 1001.0,363.6 1001.5,364.1 1002.0,365.5 1002.5,366.1 1003.0,367.1 1003.5,367.5 1004.0,368.6 1004.5,368.7 1005.0,371.4 1005.5,370.0 1006.0,370.5 1006.5,371.6 1007.0,370.3 1007.5,367.6 1008.0,365.3 1008.5,362.7 1009.0,353.0 1009.5,343.1 1010.0,333.3 1010.5,323.8 1011.0,313.8 1011.5,306.9 1012.0,301.6 1012.5,298.6 1013.0,301.2 1013.5,302.8 1014.0,306.0 1014.5,310.4 1015.0,314.6 1015.5,317.4 1016.0,321.9 1016.5,324.2 1017.0,325.7 1017.5,327.5 1018.0,330.3 1018.5,332.8 1019.0,334.9 1019.5,334.4 1020.0,336.7 1020.5,337.2 1021.0,335.4 1021.5,334.1 1022.0,334.1 1022.5,333.6 1023.0,335.5 1023.5,336.8 1024.0,338.0 1024.5,338.8 1025.0,341.5 1025.5,343.0 1026.0,343.7 1026.5,345.3 1027.0,346.6 1027.5,347.7 1028.0,348.6 1028.5,350.5 1029.0,351.1 1029.5,353.6 1030.0,353.9 1030.5,355.7 1031.0,356.3 1031.5,357.8 1032.0,358.5 1032.5,359.9 1033.0,360.3 1033.5,360.9 1034.0,362.6 1034.5,363.5 1035.0,364.0 1035.5,365.4 1036.0,366.0 1036.5,367.8 1037.0,368.6 1037.5,369.5 1038.0,371.4 1038.5,371.1 1039.0,371.9 1039.5,372.8 1040.0,373.2 1040.5,373.7" fill="none" stroke="#e32a3c" stroke-width="3.2" stroke-linejoin="round" filter="url(#b1)"/></g>
<polyline points="81.0,417.5 81.5,418.2 82.0,417.0 82.5,418.9 83.0,419.4 83.5,419.9 84.0,421.2 84.5,420.9 85.0,422.1 85.5,421.9 86.0,422.5 86.5,422.8 87.0,421.3 87.5,420.6 88.0,419.3 88.5,419.5 89.0,421.3 89.5,422.3 90.0,422.6 90.5,422.7 91.0,423.5 91.5,421.1 92.0,420.1 92.5,420.8 93.0,421.1 93.5,422.2 94.0,423.2 94.5,422.6 95.0,421.5 95.5,420.5 96.0,414.8 96.5,400.4 97.0,386.1 97.5,371.6 98.0,363.0 98.5,356.2 99.0,353.6 99.5,352.0 100.0,350.9 100.5,351.2 101.0,351.7 101.5,352.5 102.0,352.4 102.5,353.2 103.0,353.6 103.5,354.1 104.0,356.4 104.5,358.9 105.0,364.2 105.5,370.7 106.0,377.1 106.5,381.6 107.0,387.6 107.5,392.7 108.0,398.2 108.5,399.9 109.0,402.4 109.5,404.4 110.0,407.1 110.5,408.3 111.0,409.7 111.5,411.1 112.0,412.1 112.5,413.7 113.0,414.7 113.5,415.8 114.0,416.2 114.5,417.6 115.0,418.3 115.5,417.9 116.0,419.1 116.5,419.4 117.0,418.3 117.5,417.5 118.0,416.8 118.5,419.1 119.0,420.8 119.5,420.2 120.0,418.7 120.5,417.5 121.0,418.1 121.5,419.7 122.0,419.2 122.5,418.9 123.0,415.4 123.5,410.4 124.0,392.5 124.5,375.0 125.0,356.8 125.5,344.0 126.0,333.7 126.5,331.8 127.0,328.9 127.5,326.8 128.0,327.7 128.5,327.7 129.0,328.8 129.5,329.7 130.0,329.0 130.5,329.6 131.0,329.0 131.5,331.6 132.0,333.9 132.5,336.3 133.0,341.3 133.5,348.9 134.0,353.4 134.5,359.0 135.0,364.2 135.5,368.8 136.0,373.2 136.5,375.5 137.0,377.0 137.5,379.6 138.0,381.2 138.5,381.3 139.0,383.2 139.5,382.9 140.0,384.0 140.5,383.3 141.0,384.1 141.5,385.1 142.0,385.8 142.5,387.3 143.0,386.8 143.5,388.2 144.0,388.3 144.5,389.6 145.0,390.0 145.5,388.6 146.0,388.8 146.5,387.1 147.0,388.9 147.5,389.1 148.0,390.2 148.5,389.2 149.0,388.2 149.5,387.8 150.0,388.7 150.5,388.5 151.0,388.9 151.5,387.8 152.0,386.9 152.5,378.8 153.0,367.2 153.5,354.2 154.0,343.1 154.5,335.3 155.0,330.7 155.5,328.8 156.0,326.6 156.5,326.0 157.0,326.6 157.5,327.5 158.0,327.3 158.5,328.0 159.0,327.0 159.5,327.9 160.0,328.6 160.5,331.1 161.0,332.6 161.5,335.8 162.0,341.6 162.5,348.4 163.0,355.6 163.5,359.9 164.0,364.3 164.5,370.1 165.0,374.1 165.5,377.2 166.0,379.8 166.5,382.4 167.0,385.2 167.5,387.4 168.0,388.9 168.5,391.0 169.0,391.6 169.5,393.7 170.0,394.1 170.5,395.0 171.0,396.4 171.5,396.6 172.0,397.6 172.5,398.5 173.0,399.2 173.5,400.0 174.0,399.9 174.5,398.3 175.0,396.5 175.5,398.5 176.0,398.9 176.5,400.6 177.0,399.4 177.5,397.5 178.0,396.8 178.5,398.3 179.0,399.8 179.5,399.5 180.0,399.0 180.5,398.0 181.0,394.7 181.5,382.4 182.0,370.6 182.5,358.6 183.0,349.8 183.5,343.6 184.0,340.7 184.5,339.5 185.0,338.2 185.5,337.3 186.0,338.9 186.5,338.6 187.0,339.2 187.5,339.2 188.0,338.9 188.5,339.9 189.0,341.4 189.5,343.9 190.0,345.9 190.5,349.5 191.0,356.0 191.5,361.1 192.0,366.1 192.5,370.3 193.0,374.2 193.5,379.1 194.0,381.3 194.5,385.2 195.0,386.1 195.5,388.1 196.0,389.9 196.5,391.9 197.0,392.3 197.5,392.7 198.0,395.6 198.5,395.8 199.0,396.1 199.5,397.4 200.0,397.4 200.5,398.0 201.0,399.6 201.5,399.6 202.0,400.7 202.5,401.0 203.0,400.2 203.5,398.8 204.0,397.2 204.5,399.7 205.0,400.5 205.5,401.7 206.0,400.3 206.5,399.8 207.0,398.8 207.5,399.1 208.0,400.8 208.5,400.4 209.0,398.7 209.5,396.7 210.0,386.1 210.5,371.4 211.0,358.1 211.5,346.9 212.0,337.9 212.5,335.6 213.0,333.9 213.5,332.7 214.0,332.5 214.5,332.5 215.0,333.0 215.5,333.4 216.0,333.6 216.5,334.0 217.0,335.7 217.5,337.4 218.0,339.2 218.5,343.5 219.0,349.7 219.5,354.8 220.0,359.6 220.5,363.5 221.0,367.7 221.5,372.7 222.0,375.0 222.5,376.5 223.0,378.8 223.5,381.2 224.0,381.2 224.5,382.5 225.0,384.2 225.5,385.4 226.0,386.0 226.5,387.0 227.0,388.0 227.5,388.4 228.0,388.6 228.5,390.3 229.0,390.7 229.5,391.0 230.0,390.3 230.5,389.8 231.0,387.6 231.5,388.7 232.0,389.0 232.5,391.3 233.0,391.1 233.5,389.6 234.0,389.6 234.5,390.0 235.0,391.1 235.5,390.1 236.0,389.3 236.5,387.5 237.0,378.3 237.5,365.6 238.0,352.2 238.5,340.5 239.0,333.5 239.5,330.1 240.0,327.9 240.5,325.9 241.0,326.2 241.5,326.6 242.0,325.1 242.5,327.3 243.0,327.2 243.5,327.3 244.0,327.1 244.5,329.0 245.0,331.5 245.5,332.8 246.0,338.8 246.5,344.1 247.0,350.3 247.5,355.1 248.0,359.3 248.5,364.0 249.0,368.7 249.5,371.0 250.0,373.6 250.5,375.5 251.0,377.5 251.5,379.1 252.0,380.0 252.5,381.6 253.0,383.3 253.5,383.4 254.0,384.3 254.5,386.0 255.0,386.2 255.5,387.2 256.0,387.3 256.5,388.1 257.0,389.0 257.5,390.6 258.0,389.4 258.5,387.3 259.0,387.1 259.5,388.5 260.0,389.8 260.5,390.0 261.0,389.4 261.5,389.2 262.0,387.4 262.5,389.1 263.0,389.6 263.5,388.6 264.0,387.9 264.5,387.1 265.0,376.9 265.5,362.8 266.0,349.8 266.5,338.6 267.0,330.1 267.5,328.1 268.0,326.6 268.5,324.7 269.0,324.1 269.5,325.2 270.0,325.4 270.5,325.0 271.0,325.5 271.5,325.6 272.0,326.1 272.5,329.1 273.0,330.4 273.5,333.3 274.0,340.2 274.5,345.9 275.0,351.1 275.5,356.7 276.0,361.8 276.5,367.0 277.0,371.2 277.5,374.3 278.0,376.6 278.5,379.5 279.0,381.0 279.5,383.3 280.0,385.0 280.5,385.8 281.0,387.0 281.5,389.1 282.0,389.4 282.5,389.4 283.0,389.9 283.5,391.4 284.0,392.8 284.5,392.7 285.0,393.6 285.5,393.2 286.0,392.4 286.5,391.5 287.0,391.1 287.5,393.1 288.0,394.6 288.5,393.2 289.0,391.7 289.5,391.9 290.0,392.9 290.5,394.3 291.0,393.8 291.5,392.0 292.0,390.9 292.5,380.5 293.0,367.8 293.5,355.2 294.0,344.4 294.5,336.0 295.0,334.4 295.5,331.9 296.0,329.5 296.5,329.3 297.0,330.6 297.5,331.2 298.0,331.6 298.5,331.9 299.0,331.5 299.5,332.2 300.0,333.4 300.5,336.5 301.0,339.7 301.5,344.7 302.0,350.6 302.5,356.4 303.0,361.3 303.5,366.6 304.0,370.2 304.5,374.8 305.0,376.2 305.5,379.0 306.0,381.5 306.5,383.5 307.0,384.7 307.5,386.4 308.0,387.6 308.5,389.8 309.0,389.7 309.5,390.2 310.0,391.3 310.5,392.2 311.0,392.6 311.5,392.9 312.0,393.7 312.5,394.8 313.0,394.8 313.5,393.5 314.0,392.0 314.5,393.1 315.0,394.1 315.5,395.8 316.0,395.1 316.5,393.8 317.0,393.3 317.5,393.8 318.0,395.1 318.5,393.8 319.0,393.4 319.5,390.9 320.0,379.8 320.5,366.7 321.0,353.6 321.5,341.5 322.0,333.8 322.5,331.7 323.0,329.4 323.5,327.5 324.0,327.1 324.5,328.8 325.0,328.8 325.5,328.9 326.0,328.4 326.5,329.4 327.0,329.9 327.5,331.4 328.0,333.7 328.5,336.3 329.0,342.3 329.5,347.4 330.0,352.7 330.5,356.8 331.0,361.1 331.5,366.6 332.0,370.1 332.5,372.0 333.0,374.4 333.5,375.7 334.0,377.3 334.5,378.6 335.0,379.3 335.5,381.2 336.0,380.7 336.5,381.8 337.0,382.6 337.5,383.1 338.0,384.6 338.5,384.0 339.0,386.0 339.5,386.5 340.0,386.9 340.5,387.1 341.0,386.5 341.5,384.4 342.0,385.4 342.5,386.5 343.0,387.9 343.5,386.3 344.0,385.1 344.5,385.2 345.0,385.8 345.5,387.4 346.0,386.6 346.5,384.9 347.0,383.6 347.5,373.4 348.0,360.4 348.5,348.1 349.0,337.0 349.5,329.3 350.0,325.3 350.5,324.6 351.0,321.9 351.5,322.7 352.0,323.8 352.5,324.2 353.0,323.4 353.5,323.3 354.0,324.3 354.5,324.2 355.0,326.6 355.5,328.2 356.0,332.0 356.5,337.7 357.0,341.9 357.5,347.6 358.0,352.3 358.5,357.5 359.0,360.7 359.5,365.0 360.0,367.2 360.5,369.3 361.0,372.3 361.5,372.7 362.0,374.1 362.5,375.6 363.0,377.4 363.5,378.0 364.0,378.5 364.5,379.8 365.0,380.1 365.5,380.8 366.0,381.7 366.5,382.6 367.0,384.3 367.5,383.2 368.0,383.6 368.5,382.3 369.0,381.1 369.5,382.7 370.0,383.7 370.5,385.0 371.0,383.3 371.5,382.1 372.0,382.0 372.5,382.9 373.0,383.8 373.5,383.6 374.0,381.7 374.5,380.4 375.0,370.7 375.5,357.3 376.0,344.5 376.5,333.5 377.0,326.2 377.5,323.2 378.0,322.2 378.5,320.5 379.0,320.6 379.5,321.4 380.0,321.1 380.5,321.0 381.0,322.2 381.5,322.0 382.0,323.1 382.5,325.1 383.0,328.0 383.5,331.4 384.0,337.2 384.5,343.2 385.0,350.0 385.5,353.8 386.0,359.0 386.5,364.2 387.0,367.7 387.5,370.6 388.0,372.9 388.5,376.1 389.0,377.5 389.5,379.4 390.0,380.9 390.5,381.7 391.0,383.0 391.5,383.7 392.0,384.9 392.5,385.6 393.0,386.4 393.5,387.4 394.0,387.8 394.5,388.9 395.0,388.7 395.5,387.4 396.0,386.6 396.5,386.9 397.0,388.6 397.5,389.9 398.0,388.5 398.5,387.4 399.0,386.6 399.5,387.0 400.0,388.6 400.5,388.9 401.0,387.3 401.5,384.7 402.0,377.1 402.5,365.5 403.0,353.0 403.5,344.5 404.0,336.7 404.5,333.1 405.0,330.9 405.5,329.5 406.0,329.7 406.5,329.8 407.0,329.5 407.5,330.1 408.0,330.4 408.5,330.7 409.0,330.4 409.5,332.4 410.0,334.5 410.5,336.8 411.0,341.5 411.5,346.2 412.0,352.6 412.5,357.5 413.0,361.1 413.5,366.2 414.0,370.2 414.5,372.9 415.0,376.0 415.5,378.3 416.0,381.2 416.5,381.7 417.0,382.5 417.5,384.4 418.0,384.7 418.5,387.5 419.0,387.6 419.5,388.4 420.0,389.1 420.5,389.4 421.0,390.4 421.5,390.7 422.0,391.5 422.5,392.5 423.0,391.2 423.5,391.3 424.0,389.0 424.5,391.0 425.0,391.7 425.5,392.5 426.0,392.1 426.5,390.8 427.0,390.3 427.5,391.5 428.0,392.2 428.5,391.9 429.0,390.4 429.5,388.8 430.0,378.7 430.5,364.7 431.0,352.3 431.5,342.4 432.0,334.7 432.5,332.5 433.0,331.2 433.5,330.2 434.0,330.3 434.5,329.9 435.0,331.2 435.5,331.4 436.0,331.4 436.5,331.2 437.0,332.2 437.5,335.6 438.0,337.7 438.5,341.4 439.0,346.1 439.5,352.3 440.0,356.5 440.5,361.4 441.0,364.6 441.5,368.8 442.0,370.7 442.5,373.2 443.0,374.8 443.5,377.0 444.0,377.5 444.5,378.3 445.0,379.9 445.5,380.7 446.0,380.3 446.5,381.9 447.0,382.7 447.5,383.4 448.0,384.9 448.5,384.3 449.0,385.2 449.5,385.0 450.0,384.6 450.5,384.0 451.0,383.1 451.5,384.4 452.0,386.0 452.5,386.6 453.0,385.6 453.5,384.1 454.0,384.7 454.5,385.2 455.0,385.8 455.5,385.2 456.0,383.2 456.5,378.0 457.0,366.9 457.5,356.1 458.0,342.5 458.5,334.4 459.0,328.6 459.5,327.3 460.0,325.1 460.5,324.0 461.0,323.8 461.5,324.5 462.0,324.4 462.5,325.3 463.0,326.1 463.5,326.2 464.0,326.2 464.5,328.3 465.0,330.4 465.5,335.0 466.0,340.5 466.5,346.1 467.0,351.3 467.5,355.1 468.0,359.4 468.5,365.3 469.0,367.3 469.5,371.0 470.0,371.7 470.5,374.6 471.0,376.1 471.5,377.9 472.0,379.4 472.5,380.2 473.0,381.8 473.5,381.7 474.0,382.8 474.5,383.3 475.0,384.3 475.5,385.0 476.0,386.1 476.5,388.1 477.0,386.6 477.5,386.7 478.0,386.0 478.5,384.5 479.0,386.1 479.5,386.4 480.0,388.4 480.5,386.6 481.0,386.1 481.5,385.4 482.0,386.5 482.5,387.2 483.0,385.8 483.5,385.1 484.0,384.5 484.5,375.0 485.0,362.9 485.5,349.4 486.0,339.0 486.5,331.5 487.0,325.7 487.5,325.0 488.0,323.9 488.5,322.3 489.0,323.4 489.5,323.2 490.0,323.9 490.5,323.6 491.0,323.7 491.5,324.1 492.0,325.0 492.5,327.2 493.0,329.4 493.5,334.2 494.0,339.1 494.5,344.4 495.0,350.2 495.5,355.6 496.0,359.1 496.5,365.0 497.0,368.5 497.5,371.3 498.0,373.1 498.5,375.5 499.0,377.8 499.5,379.2 500.0,381.1 500.5,381.9 501.0,383.1 501.5,383.5 502.0,384.8 502.5,385.7 503.0,387.0 503.5,387.3 504.0,388.5 504.5,389.2 505.0,388.9 505.5,389.4 506.0,388.6 506.5,387.6 507.0,386.4 507.5,388.5 508.0,389.9 508.5,390.9 509.0,389.3 509.5,387.8 510.0,387.9 510.5,388.5 511.0,390.0 511.5,388.8 512.0,388.9 512.5,386.0 513.0,379.1 513.5,367.5 514.0,355.3 514.5,345.1 515.0,337.8 515.5,334.5 516.0,332.9 516.5,330.4 517.0,330.9 517.5,330.2 518.0,330.9 518.5,331.2 519.0,330.7 519.5,331.7 520.0,331.5 520.5,333.4 521.0,334.9 521.5,336.9 522.0,341.6 522.5,347.9 523.0,353.9 523.5,359.5 524.0,364.0 524.5,369.6 525.0,374.0 525.5,377.3 526.0,380.7 526.5,383.0 527.0,385.1 527.5,388.1 528.0,389.4 528.5,390.9 529.0,393.3 529.5,393.9 530.0,395.3 530.5,395.9 531.0,397.9 531.5,396.8 532.0,398.5 532.5,399.2 533.0,400.3 533.5,400.3 534.0,400.3 534.5,400.0 535.0,397.9 535.5,398.3 536.0,399.7 536.5,401.4 537.0,400.2 537.5,399.4 538.0,398.3 538.5,399.3 539.0,401.0 539.5,400.7 540.0,399.9 540.5,398.3 541.0,395.1 541.5,381.9 542.0,369.8 542.5,356.8 543.0,348.6 543.5,342.7 544.0,340.5 544.5,337.9 545.0,337.6 545.5,337.7 546.0,337.6 546.5,338.5 547.0,338.5 547.5,338.9 548.0,339.5 548.5,339.1 549.0,342.0 549.5,343.5 550.0,346.1 550.5,352.1 551.0,357.0 551.5,362.0 552.0,366.7 552.5,371.2 553.0,374.8 553.5,379.4 554.0,381.4 554.5,383.1 555.0,385.6 555.5,388.2 556.0,388.5 556.5,391.2 557.0,390.9 557.5,392.6 558.0,392.1 558.5,394.0 559.0,394.5 559.5,395.7 560.0,396.3 560.5,396.7 561.0,398.4 561.5,398.4 562.0,398.4 562.5,398.0 563.0,395.5 563.5,395.5 564.0,397.6 564.5,398.1 565.0,399.3 565.5,397.6 566.0,397.4 566.5,396.8 567.0,397.8 567.5,399.1 568.0,398.7 568.5,396.8 569.0,393.9 569.5,383.0 570.0,367.0 570.5,350.5 571.0,336.6 571.5,327.4 572.0,322.8 572.5,310.5 573.0,296.6 573.5,283.4 574.0,271.1 574.5,273.5 575.0,286.0 575.5,299.4 576.0,313.3 576.5,320.3 577.0,322.7 577.5,326.5 578.0,327.3 578.5,334.4 579.0,341.5 579.5,349.3 580.0,355.6 580.5,362.1 581.0,368.6 581.5,373.7 582.0,377.4 582.5,381.5 583.0,384.5 583.5,386.5 584.0,390.0 584.5,390.6 585.0,392.9 585.5,394.4 586.0,395.7 586.5,396.6 587.0,398.2 587.5,398.6 588.0,399.4 588.5,400.6 589.0,401.8 589.5,401.8 590.0,403.9 590.5,402.4 591.0,401.5 591.5,400.2 592.0,401.3 592.5,403.3 593.0,404.3 593.5,402.6 594.0,400.5 594.5,400.8 595.0,402.1 595.5,402.6 596.0,402.8 596.5,401.5 597.0,398.5 597.5,387.2 598.0,368.9 598.5,351.0 599.0,334.2 599.5,323.5 600.0,314.4 600.5,312.9 601.0,310.0 601.5,307.8 602.0,308.5 602.5,308.7 603.0,309.4 603.5,310.1 604.0,309.5 604.5,309.6 605.0,311.0 605.5,312.9 606.0,314.4 606.5,317.1 607.0,321.5 607.5,328.9 608.0,335.7 608.5,342.3 609.0,348.5 609.5,353.2 610.0,358.6 610.5,363.1 611.0,367.0 611.5,369.5 612.0,372.2 612.5,373.8 613.0,375.9 613.5,376.6 614.0,378.0 614.5,379.0 615.0,379.6 615.5,380.5 616.0,380.8 616.5,382.1 617.0,383.1 617.5,383.6 618.0,385.0 618.5,386.2 619.0,386.2 619.5,386.8 620.0,386.3 620.5,385.5 621.0,384.8 621.5,384.5 622.0,386.1 622.5,387.1 623.0,387.6 623.5,386.4 624.0,384.7 624.5,385.1 625.0,386.1 625.5,387.6 626.0,387.0 626.5,385.9 627.0,384.8 627.5,376.9 628.0,365.2 628.5,353.6 629.0,342.7 629.5,335.9 630.0,330.5 630.5,329.2 631.0,327.4 631.5,326.7 632.0,326.7 632.5,326.5 633.0,326.9 633.5,326.4 634.0,328.1 634.5,327.3 635.0,327.7 635.5,330.3 636.0,331.2 636.5,333.6 637.0,338.5 637.5,343.6 638.0,349.3 638.5,354.7 639.0,359.4 639.5,363.6 640.0,368.6 640.5,371.4 641.0,374.3 641.5,377.1 642.0,378.4 642.5,381.0 643.0,382.6 643.5,383.1 644.0,384.1 644.5,387.0 645.0,387.5 645.5,388.9 646.0,389.4 646.5,390.1 647.0,390.7 647.5,391.7 648.0,391.9 648.5,392.7 649.0,393.9 649.5,393.4 650.0,392.6 650.5,391.2 651.0,391.0 651.5,392.1 652.0,394.3 652.5,393.8 653.0,393.1 653.5,391.1 654.0,392.0 654.5,393.2 655.0,393.6 655.5,392.4 656.0,392.0 656.5,390.5 657.0,381.6 657.5,369.4 658.0,358.1 658.5,346.7 659.0,339.4 659.5,335.5 660.0,333.4 660.5,331.3 661.0,331.5 661.5,331.2 662.0,332.1 662.5,331.6 663.0,332.3 663.5,332.9 664.0,332.8 664.5,333.3 665.0,335.4 665.5,337.7 666.0,340.2 666.5,345.4 667.0,350.1 667.5,356.0 668.0,359.0 668.5,363.8 669.0,367.0 669.5,371.0 670.0,373.5 670.5,374.5 671.0,377.8 671.5,378.3 672.0,379.4 672.5,380.9 673.0,381.3 673.5,383.2 674.0,383.7 674.5,383.0 675.0,384.2 675.5,385.2 676.0,386.4 676.5,386.3 677.0,387.1 677.5,388.2 678.0,388.1 678.5,388.4 679.0,386.6 679.5,386.7 680.0,387.3 680.5,387.4 681.0,388.1 681.5,387.8 682.0,388.0 682.5,386.3 683.0,387.9 683.5,387.8 684.0,388.0 684.5,387.6 685.0,386.7 685.5,383.1 686.0,373.6 686.5,362.6 687.0,350.6 687.5,340.9 688.0,332.0 688.5,327.6 689.0,324.6 689.5,321.9 690.0,324.0 690.5,325.7 691.0,326.8 691.5,327.6 692.0,328.8 692.5,331.1 693.0,331.2 693.5,332.7 694.0,335.1 694.5,336.9 695.0,339.6 695.5,343.8 696.0,346.4 696.5,350.6 697.0,352.4 697.5,354.8 698.0,358.3 698.5,360.9 699.0,362.9 699.5,364.5 700.0,365.8 700.5,368.3 701.0,368.5 701.5,369.3 702.0,371.0 702.5,371.9 703.0,372.5 703.5,373.4 704.0,374.4 704.5,375.8 705.0,375.7 705.5,375.9 706.0,376.9 706.5,378.1 707.0,378.5 707.5,378.7 708.0,378.9 708.5,378.6 709.0,378.3 709.5,379.6 710.0,380.3 710.5,380.7 711.0,380.4 711.5,379.4 712.0,380.4 712.5,381.2 713.0,381.7 713.5,381.7 714.0,381.3 714.5,378.9 715.0,374.7 715.5,366.9 716.0,356.5 716.5,343.8 717.0,334.8 717.5,326.3 718.0,320.7 718.5,316.0 719.0,317.2 719.5,318.6 720.0,322.5 720.5,324.6 721.0,326.9 721.5,329.6 722.0,331.7 722.5,333.2 723.0,335.1 723.5,338.1 724.0,339.4 724.5,341.4 725.0,343.7 725.5,345.1 726.0,346.6 726.5,347.2 727.0,350.0 727.5,351.1 728.0,353.6 728.5,354.7 729.0,356.4 729.5,358.4 730.0,359.7 730.5,360.9 731.0,362.3 731.5,363.9 732.0,365.5 732.5,366.7 733.0,366.8 733.5,368.7 734.0,369.6 734.5,369.4 735.0,370.4 735.5,371.5 736.0,373.3 736.5,373.2 737.0,373.8 737.5,374.9 738.0,374.5 738.5,375.1 739.0,376.5 739.5,377.2 740.0,376.6 740.5,377.3 741.0,378.3 741.5,377.8 742.0,379.9 742.5,380.1 743.0,380.3 743.5,380.4 744.0,377.2 744.5,375.4 745.0,369.3 745.5,359.0 746.0,348.7 746.5,337.2 747.0,327.9 747.5,320.8 748.0,317.2 748.5,319.7 749.0,322.4 749.5,326.6 750.0,330.9 750.5,334.1 751.0,337.3 751.5,338.7 752.0,342.0 752.5,344.1 753.0,345.6 753.5,347.2 754.0,347.2 754.5,348.3 755.0,347.3 755.5,346.2 756.0,346.1 756.5,346.5 757.0,347.8 757.5,349.4 758.0,350.9 758.5,351.6 759.0,353.4 759.5,354.4 760.0,355.1 760.5,355.7 761.0,358.0 761.5,359.2 762.0,360.2 762.5,361.4 763.0,362.7 763.5,363.0 764.0,364.6 764.5,364.8 765.0,365.4 765.5,366.8 766.0,367.6 766.5,368.9 767.0,370.4 767.5,370.8 768.0,371.8 768.5,373.0 769.0,373.6 769.5,373.5 770.0,373.9 770.5,375.9 771.0,375.1 771.5,375.5 772.0,375.8 772.5,376.1 773.0,372.8 773.5,371.2 774.0,361.9 774.5,352.4 775.0,341.0 775.5,331.6 776.0,324.4 776.5,319.2 777.0,317.1 777.5,319.6 778.0,322.3 778.5,326.6 779.0,330.1 779.5,333.1 780.0,336.0 780.5,337.3 781.0,340.2 781.5,342.0 782.0,344.3 782.5,345.3 783.0,346.2 783.5,345.7 784.0,344.7 784.5,343.8 785.0,343.4 785.5,344.3 786.0,346.1 786.5,347.7 787.0,348.7 787.5,349.3 788.0,350.9 788.5,351.2 789.0,351.8 789.5,354.1 790.0,355.5 790.5,356.3 791.0,356.6 791.5,356.3 792.0,358.5 792.5,360.0 793.0,360.4 793.5,362.1 794.0,362.0 794.5,363.5 795.0,364.3 795.5,365.2 796.0,365.4 796.5,366.9 797.0,367.8 797.5,368.2 798.0,368.5 798.5,369.5 799.0,369.9 799.5,371.2 800.0,372.1 800.5,372.5 801.0,373.0 801.5,372.8 802.0,370.8 802.5,367.7 803.0,361.7 803.5,351.4 804.0,340.1 804.5,330.1 805.0,321.2 805.5,315.8 806.0,314.9 806.5,317.6 807.0,320.7 807.5,325.6 808.0,327.0 808.5,331.3 809.0,334.0 809.5,336.7 810.0,338.7 810.5,341.0 811.0,341.6 811.5,342.1 812.0,342.8 812.5,343.2 813.0,341.3 813.5,342.1 814.0,342.8 814.5,343.6 815.0,345.6 815.5,347.2 816.0,347.3 816.5,348.3 817.0,350.8 817.5,350.9 818.0,352.9 818.5,353.9 819.0,354.1 819.5,356.3 820.0,357.3 820.5,358.6 821.0,359.0 821.5,360.2 822.0,361.2 822.5,361.9 823.0,363.7 823.5,364.4 824.0,365.6 824.5,366.0 825.0,367.2 825.5,366.9 826.0,367.8 826.5,369.2 827.0,369.4 827.5,370.1 828.0,371.0 828.5,370.8 829.0,371.7 829.5,369.8 830.0,367.4 830.5,360.6 831.0,350.9 831.5,339.3 832.0,327.6 832.5,318.6 833.0,311.8 833.5,308.6 834.0,311.1 834.5,314.7 835.0,319.4 835.5,323.8 836.0,327.6 836.5,330.9 837.0,333.3 837.5,335.2 838.0,337.9 838.5,340.7 839.0,341.4 839.5,342.1 840.0,341.2 840.5,340.1 841.0,341.0 841.5,340.0 842.0,342.3 842.5,343.6 843.0,344.7 843.5,347.6 844.0,348.6 844.5,350.5 845.0,351.5 845.5,352.2 846.0,354.1 846.5,356.0 847.0,356.6 847.5,358.3 848.0,360.0 848.5,360.0 849.0,361.5 849.5,362.9 850.0,364.3 850.5,365.0 851.0,365.8 851.5,367.5 852.0,368.1 852.5,369.7 853.0,370.6 853.5,371.1 854.0,372.4 854.5,373.4 855.0,373.1 855.5,374.8 856.0,375.3 856.5,376.0 857.0,376.6 857.5,375.8 858.0,372.8 858.5,370.2 859.0,358.4 859.5,347.5 860.0,336.4 860.5,324.7 861.0,318.5 861.5,312.5 862.0,315.0 862.5,316.8 863.0,321.7 863.5,325.3 864.0,329.2 864.5,332.3 865.0,334.4 865.5,336.5 866.0,339.1 866.5,341.5 867.0,342.2 867.5,343.2 868.0,343.7 868.5,342.2 869.0,341.4 869.5,339.9 870.0,340.8 870.5,343.0 871.0,344.6 871.5,346.5 872.0,348.0 872.5,348.1 873.0,349.7 873.5,350.7 874.0,351.3 874.5,352.6 875.0,353.6 875.5,355.3 876.0,355.2 876.5,355.6 877.0,357.7 877.5,359.0 878.0,360.0 878.5,360.3 879.0,361.7 879.5,362.2 880.0,363.7 880.5,364.0 881.0,364.7 881.5,366.3 882.0,366.1 882.5,366.7 883.0,368.4 883.5,368.8 884.0,368.4 884.5,370.7 885.0,370.0 885.5,369.2 886.0,367.2 886.5,365.9 887.0,354.7 887.5,344.3 888.0,333.0 888.5,322.4 889.0,314.4 889.5,308.8 890.0,308.5 890.5,310.8 891.0,314.8 891.5,319.2 892.0,322.9 892.5,326.4 893.0,329.3 893.5,330.9 894.0,334.0 894.5,336.5 895.0,338.0 895.5,338.4 896.0,339.0 896.5,338.6 897.0,337.9 897.5,337.4 898.0,336.4 898.5,339.4 899.0,340.5 899.5,342.0 900.0,342.9 900.5,344.4 901.0,345.5 901.5,347.3 902.0,348.6 902.5,350.0 903.0,350.8 903.5,351.1 904.0,352.8 904.5,354.2 905.0,355.5 905.5,355.7 906.0,357.3 906.5,358.4 907.0,359.2 907.5,360.4 908.0,362.5 908.5,362.5 909.0,364.4 909.5,364.6 910.0,364.9 910.5,366.2 911.0,366.5 911.5,367.4 912.0,367.2 912.5,369.1 913.0,369.5 913.5,370.8 914.0,370.5 914.5,368.1 915.0,365.6 915.5,360.5 916.0,348.7 916.5,336.8 917.0,326.3 917.5,314.1 918.0,307.9 918.5,301.3 919.0,303.3 919.5,306.2 920.0,310.2 920.5,314.8 921.0,319.1 921.5,323.1 922.0,325.7 922.5,328.2 923.0,331.0 923.5,333.7 924.0,336.1 924.5,337.2 925.0,336.7 925.5,337.0 926.0,335.9 926.5,335.4 927.0,335.7 927.5,336.9 928.0,339.0 928.5,339.7 929.0,342.5 929.5,344.2 930.0,345.2 930.5,346.3 931.0,348.7 931.5,349.9 932.0,352.3 932.5,352.7 933.0,354.3 933.5,355.6 934.0,357.0 934.5,357.4 935.0,360.0 935.5,360.8 936.0,361.6 936.5,362.7 937.0,364.3 937.5,365.4 938.0,366.2 938.5,367.5 939.0,368.7 939.5,369.3 940.0,370.2 940.5,371.0 941.0,371.9 941.5,372.3 942.0,373.4 942.5,374.8 943.0,375.6 943.5,375.6 944.0,371.8 944.5,370.5 945.0,366.6 945.5,356.7 946.0,346.1 946.5,335.1 947.0,324.8 947.5,318.8 948.0,313.9 948.5,314.0 949.0,315.8 949.5,319.9 950.0,323.5 950.5,325.9 951.0,330.2 951.5,333.2 952.0,335.4 952.5,336.7 953.0,339.4 953.5,342.0 954.0,342.1 954.5,341.8 955.0,342.5 955.5,342.2 956.0,341.2 956.5,339.7 957.0,342.1 957.5,342.5 958.0,343.0 958.5,344.9 959.0,345.0 959.5,346.9 960.0,348.2 960.5,350.3 961.0,350.4 961.5,351.4 962.0,352.6 962.5,353.4 963.0,354.2 963.5,356.1 964.0,356.6 964.5,358.0 965.0,358.6 965.5,358.7 966.0,359.8 966.5,360.7 967.0,361.6 967.5,362.9 968.0,363.5 968.5,364.2 969.0,365.9 969.5,366.5 970.0,366.6 970.5,366.8 971.0,367.6 971.5,368.2 972.0,368.8 972.5,369.5 973.0,370.5 973.5,370.6 974.0,368.6 974.5,365.9 975.0,363.1 975.5,353.5 976.0,342.4 976.5,331.8 977.0,322.8 977.5,314.0 978.0,307.7 978.5,305.2 979.0,306.9 979.5,309.5 980.0,313.9 980.5,317.0 981.0,320.4 981.5,324.9 982.0,327.3 982.5,328.6 983.0,331.4 983.5,334.4 984.0,336.4 984.5,337.1 985.0,337.1 985.5,337.3 986.0,336.8 986.5,336.1 987.0,335.5 987.5,334.5 988.0,336.3 988.5,338.6 989.0,340.4 989.5,341.3 990.0,342.8 990.5,343.5 991.0,344.5 991.5,346.4 992.0,347.5 992.5,348.5 993.0,349.3 993.5,351.1 994.0,352.2 994.5,353.2 995.0,354.3 995.5,355.1 996.0,356.5 996.5,357.4 997.0,359.0 997.5,359.8 998.0,360.1 998.5,360.6 999.0,362.4 999.5,362.8 1000.0,364.7 1000.5,364.1 1001.0,365.3 1001.5,366.8 1002.0,366.9 1002.5,367.9 1003.0,368.6 1003.5,368.8 1004.0,370.1 1004.5,369.9 1005.0,370.5 1005.5,369.8 1006.0,367.1 1006.5,365.5 1007.0,358.7 1007.5,350.5 1008.0,340.1 1008.5,330.8 1009.0,321.4 1009.5,312.8 1010.0,307.1 1010.5,302.2 1011.0,301.1 1011.5,303.4 1012.0,305.2 1012.5,308.7 1013.0,312.5 1013.5,316.2 1014.0,319.4 1014.5,322.9 1015.0,325.0 1015.5,327.8 1016.0,329.9 1016.5,332.1 1017.0,334.5 1017.5,335.7 1018.0,337.0 1018.5,336.9 1019.0,337.1 1019.5,337.5 1020.0,336.1 1020.5,336.6 1021.0,335.2 1021.5,335.1 1022.0,336.7 1022.5,338.5 1023.0,339.9 1023.5,341.9 1024.0,343.5 1024.5,344.8 1025.0,345.8 1025.5,346.4 1026.0,348.5 1026.5,349.7 1027.0,349.6 1027.5,351.4 1028.0,352.8 1028.5,353.7 1029.0,355.7 1029.5,356.6 1030.0,357.4 1030.5,357.8 1031.0,358.4 1031.5,359.8 1032.0,360.8 1032.5,361.7 1033.0,362.2 1033.5,363.4 1034.0,364.8 1034.5,366.1 1035.0,366.7 1035.5,367.8 1036.0,368.8 1036.5,369.5 1037.0,370.8 1037.5,370.6 1038.0,371.8 1038.5,371.8 1039.0,373.6 1039.5,374.1 1040.0,374.9 1040.5,375.2" fill="none" stroke="url(#gGreen)" stroke-width="1.35" stroke-linejoin="round" opacity="0.82"/>
<polyline points="81.0,351.0 83.0,350.7 85.0,351.1 87.0,351.4 89.0,350.4 91.0,351.5 93.0,350.9 95.0,351.2 97.0,350.9 99.0,351.1 101.0,351.3 103.0,351.1 105.0,351.6 107.0,351.1 109.0,351.3 111.0,351.0 113.0,351.0 115.0,351.1 117.0,351.3 119.0,351.6 121.0,351.2 123.0,350.8 125.0,351.0 127.0,350.8 129.0,351.2 131.0,351.1 133.0,350.8 135.0,351.0 137.0,351.3 139.0,351.1 141.0,350.9 143.0,351.2 145.0,351.1 147.0,350.8 149.0,351.0 151.0,351.4 153.0,350.6 155.0,351.1 157.0,350.8 159.0,351.0 161.0,350.9 163.0,350.9 165.0,350.8 167.0,350.8 169.0,350.9 171.0,350.9 173.0,350.4 175.0,350.8 177.0,351.0 179.0,350.9 181.0,350.7 183.0,350.2 185.0,350.8 187.0,350.8 189.0,351.0 191.0,350.3 193.0,350.5 195.0,350.4 197.0,350.5 199.0,350.1 201.0,350.4 203.0,350.4 205.0,350.4 207.0,350.8 209.0,350.3 211.0,350.3 213.0,350.7 215.0,350.2 217.0,350.6 219.0,350.4 221.0,350.2 223.0,350.1 225.0,350.3 227.0,350.2 229.0,350.3 231.0,350.1 233.0,350.4 235.0,350.0 237.0,350.1 239.0,350.1 241.0,349.8 243.0,350.1 245.0,350.1 247.0,349.8 249.0,349.6 251.0,350.4 253.0,350.0 255.0,349.9 257.0,349.7 259.0,350.2 261.0,349.6 263.0,349.0 265.0,349.4 267.0,348.8 269.0,348.9 271.0,348.6 273.0,348.7 275.0,348.4 277.0,348.0 279.0,348.3 281.0,348.6 283.0,347.7 285.0,348.1 287.0,347.9 289.0,347.9 291.0,347.4 293.0,347.4 295.0,348.0 297.0,347.6 299.0,347.4 301.0,348.0 303.0,347.8 305.0,347.6 307.0,347.2 309.0,347.4 311.0,347.7 313.0,346.8 315.0,346.9 317.0,347.0 319.0,347.4 321.0,347.2 323.0,347.2 325.0,347.1 327.0,347.1 329.0,347.3 331.0,347.9 333.0,347.0 335.0,347.2 337.0,346.7 339.0,347.2 341.0,346.8 343.0,346.8 345.0,346.6 347.0,346.4 349.0,346.4 351.0,346.3 353.0,346.2 355.0,346.9 357.0,346.5 359.0,346.6 361.0,346.4 363.0,345.9 365.0,346.2 367.0,346.0 369.0,345.9 371.0,346.1 373.0,346.1 375.0,346.0 377.0,346.0 379.0,345.8 381.0,345.9 383.0,346.1 385.0,346.3 387.0,346.0 389.0,345.6 391.0,345.7 393.0,345.8 395.0,345.8 397.0,345.8 399.0,345.8 401.0,345.5 403.0,345.3 405.0,345.0 407.0,345.6 409.0,345.4 411.0,345.0 413.0,345.2 415.0,345.0 417.0,345.0 419.0,345.5 421.0,345.0 423.0,345.7 425.0,345.1 427.0,344.9 429.0,345.2 431.0,345.8 433.0,345.2 435.0,345.4 437.0,344.7 439.0,345.5 441.0,345.0 443.0,345.4 445.0,345.8 447.0,345.4 449.0,345.7 451.0,345.5 453.0,345.5 455.0,345.7 457.0,345.9 459.0,345.7 461.0,345.7 463.0,345.5 465.0,345.3 467.0,345.8 469.0,345.8 471.0,345.9 473.0,346.1 475.0,346.1 477.0,345.7 479.0,346.1 481.0,346.1 483.0,346.0 485.0,345.6 487.0,346.0 489.0,346.2 491.0,346.5 493.0,346.2 495.0,346.0 497.0,346.8 499.0,346.5 501.0,346.4 503.0,346.7 505.0,346.8 507.0,346.7 509.0,346.6 511.0,346.6 513.0,347.0 515.0,346.8 517.0,347.0 519.0,346.5 521.0,346.9 523.0,347.0 525.0,347.0 527.0,346.7 529.0,347.1 531.0,347.7 533.0,347.4 535.0,347.2 537.0,347.2 539.0,347.1 541.0,347.6 543.0,347.4 545.0,347.5 547.0,347.9 549.0,348.0 551.0,347.9 553.0,347.4 555.0,347.7 557.0,348.2 559.0,347.7 561.0,348.4 563.0,348.2 565.0,348.6 567.0,348.3 569.0,348.3 571.0,348.4 573.0,349.2 575.0,348.8 577.0,348.7 579.0,349.4 581.0,348.9 583.0,349.4 585.0,349.6 587.0,349.8 589.0,349.9 591.0,349.9 593.0,349.4 595.0,350.2 597.0,350.2 599.0,350.3 601.0,350.5 603.0,350.7 605.0,350.6 607.0,350.9 609.0,351.2 611.0,350.7 613.0,350.6 615.0,350.4 617.0,350.8 619.0,350.3 621.0,351.2 623.0,351.0 625.0,350.7 627.0,351.0 629.0,350.6 631.0,350.6 633.0,351.1 635.0,350.7 637.0,351.0 639.0,350.9 641.0,351.4 643.0,351.1 645.0,351.4 647.0,351.3 649.0,350.9 651.0,350.8 653.0,350.6 655.0,351.2 657.0,350.5 659.0,351.0 661.0,350.6 663.0,351.1 665.0,351.5 667.0,351.1 669.0,351.2 671.0,351.3 673.0,351.5 675.0,351.0 677.0,351.4 679.0,351.4 681.0,351.2 683.0,351.2 685.0,351.7 687.0,351.5 689.0,351.4 691.0,351.1 693.0,351.2 695.0,350.9 697.0,350.8 699.0,351.0 701.0,351.0 703.0,350.8 705.0,350.8 707.0,351.1 709.0,350.9 711.0,350.6 713.0,351.4 715.0,350.5 717.0,350.9 719.0,350.6 721.0,351.0 723.0,350.8 725.0,351.0 727.0,350.7 729.0,350.5 731.0,351.0 733.0,350.6 735.0,350.5 737.0,350.5 739.0,350.3 741.0,350.5 743.0,350.8 745.0,350.6 747.0,350.3 749.0,350.3 751.0,350.2 753.0,349.8 755.0,350.2 757.0,349.8 759.0,349.2 761.0,349.8 763.0,349.3 765.0,349.5 767.0,349.5 769.0,349.2 771.0,349.3 773.0,349.4 775.0,348.7 777.0,348.5 779.0,348.8 781.0,348.7 783.0,349.2 785.0,348.9 787.0,348.7 789.0,348.4 791.0,347.9 793.0,347.9 795.0,348.1 797.0,348.2 799.0,348.0 801.0,348.0 803.0,348.1 805.0,347.7 807.0,347.7 809.0,347.6 811.0,348.1 813.0,347.2 815.0,347.8 817.0,347.8 819.0,347.1 821.0,347.5 823.0,347.8 825.0,347.3 827.0,347.3 829.0,347.4 831.0,347.7 833.0,347.5 835.0,347.1 837.0,346.9 839.0,346.9 841.0,347.3 843.0,346.6 845.0,347.0 847.0,347.2 849.0,346.8 851.0,346.9 853.0,347.0 855.0,347.1 857.0,346.6 859.0,346.9 861.0,346.8 863.0,346.8 865.0,346.4 867.0,346.8 869.0,346.5 871.0,346.6 873.0,346.4 875.0,347.1 877.0,346.5 879.0,347.0 881.0,346.3 883.0,346.4 885.0,346.8 887.0,346.3 889.0,346.5 891.0,346.6 893.0,346.2 895.0,346.1 897.0,346.2 899.0,346.5 901.0,346.3 903.0,346.5 905.0,346.1 907.0,346.0 909.0,345.8 911.0,346.0 913.0,345.9 915.0,346.0 917.0,345.8 919.0,345.8 921.0,345.9 923.0,346.2 925.0,345.8 927.0,345.7 929.0,346.1 931.0,346.2 933.0,345.7 935.0,345.7 937.0,345.3 939.0,345.3 941.0,345.7 943.0,346.0 945.0,346.1 947.0,345.8 949.0,345.5 951.0,345.7 953.0,345.2 955.0,345.5 957.0,345.2 959.0,345.5 961.0,345.8 963.0,345.9 965.0,345.4 967.0,345.4 969.0,344.9 971.0,345.1 973.0,345.6 975.0,345.4 977.0,345.3 979.0,345.2 981.0,345.4 983.0,344.9 985.0,344.9 987.0,345.6 989.0,344.6 991.0,344.9 993.0,344.7 995.0,345.1 997.0,344.6 999.0,344.5 1001.0,344.5 1003.0,344.8 1005.0,344.3 1007.0,344.1 1009.0,344.5 1011.0,344.4 1013.0,344.6 1015.0,344.4 1017.0,344.3 1019.0,344.5 1021.0,344.6 1023.0,344.8 1025.0,344.6 1027.0,344.3 1029.0,344.9 1031.0,345.2 1033.0,345.4 1035.0,345.8 1037.0,345.8 1039.0,346.4" fill="none" stroke="#ea2434" stroke-width="3.2" stroke-linejoin="round" stroke-linecap="round"/>
<polyline points="81.0,391.4 83.0,391.8 85.0,391.2 87.0,390.9 89.0,391.2 91.0,392.2 93.0,391.4 95.0,391.4 97.0,391.5 99.0,391.4 101.0,391.5 103.0,391.5 105.0,392.0 107.0,391.8 109.0,391.5 111.0,391.7 113.0,391.6 115.0,391.2 117.0,391.8 119.0,391.3 121.0,391.7 123.0,391.5 125.0,391.6 127.0,391.7 129.0,391.4 131.0,391.0 133.0,390.8 135.0,390.9 137.0,390.4 139.0,390.1 141.0,389.9 143.0,389.5 145.0,389.4 147.0,388.8 149.0,388.6 151.0,387.9 153.0,387.3 155.0,387.4 157.0,387.0 159.0,386.1 161.0,385.9 163.0,385.3 165.0,384.4 167.0,384.5 169.0,383.2 171.0,383.2 173.0,382.9 175.0,381.9 177.0,382.1 179.0,381.0 181.0,380.9 183.0,380.1 185.0,379.8 187.0,379.1 189.0,379.2 191.0,378.2 193.0,377.9 195.0,377.4 197.0,376.8 199.0,376.3 201.0,376.1 203.0,375.8 205.0,375.5 207.0,375.0 209.0,374.5 211.0,374.5 213.0,373.8 215.0,373.8 217.0,373.1 219.0,373.3 221.0,373.4 223.0,373.0 225.0,373.0 227.0,373.5 229.0,373.3 231.0,373.4 233.0,373.4 235.0,373.2 237.0,373.2 239.0,373.0 241.0,373.2 243.0,372.5 245.0,372.8 247.0,373.1 249.0,373.0 251.0,372.7 253.0,372.6 255.0,372.8 257.0,372.4 259.0,372.0 261.0,372.3 263.0,371.7 265.0,371.6 267.0,370.8 269.0,370.2 271.0,370.6 273.0,370.6 275.0,369.2 277.0,369.3 279.0,369.3 281.0,368.9 283.0,368.6 285.0,368.3 287.0,367.9 289.0,368.2 291.0,368.0 293.0,367.8 295.0,367.0 297.0,367.9 299.0,367.4 301.0,367.5 303.0,367.8 305.0,367.5 307.0,367.1 309.0,367.4 311.0,367.2 313.0,366.8 315.0,367.0 317.0,366.5 319.0,366.5 321.0,366.9 323.0,367.2 325.0,366.5 327.0,367.1 329.0,366.8 331.0,367.2 333.0,366.6 335.0,367.4 337.0,366.7 339.0,366.5 341.0,366.6 343.0,366.1 345.0,366.6 347.0,366.4 349.0,366.6 351.0,366.3 353.0,365.7 355.0,365.7 357.0,366.2 359.0,366.0 361.0,366.5 363.0,366.0 365.0,366.3 367.0,366.1 369.0,366.5 371.0,366.2 373.0,366.1 375.0,365.8 377.0,366.1 379.0,366.1 381.0,365.8 383.0,365.9 385.0,365.4 387.0,365.5 389.0,365.5 391.0,365.2 393.0,365.5 395.0,365.2 397.0,364.8 399.0,364.6 401.0,364.7 403.0,364.4 405.0,364.3 407.0,364.0 409.0,364.4 411.0,364.1 413.0,364.0 415.0,364.1 417.0,363.2 419.0,363.8 421.0,363.7 423.0,363.9 425.0,363.9 427.0,364.0 429.0,364.3 431.0,363.6 433.0,363.9 435.0,364.6 437.0,364.7 439.0,364.2 441.0,364.8 443.0,364.9 445.0,364.4 447.0,364.7 449.0,365.0 451.0,365.0 453.0,365.6 455.0,365.4 457.0,365.6 459.0,365.3 461.0,365.2 463.0,365.5 465.0,366.1 467.0,366.3 469.0,365.7 471.0,365.9 473.0,365.4 475.0,366.4 477.0,365.8 479.0,366.3 481.0,366.4 483.0,365.8 485.0,365.9 487.0,366.4 489.0,366.5 491.0,366.1 493.0,366.0 495.0,366.3 497.0,366.6 499.0,366.0 501.0,366.1 503.0,366.6 505.0,366.4 507.0,366.2 509.0,366.4 511.0,366.5 513.0,366.7 515.0,366.6 517.0,366.6 519.0,366.2 521.0,366.9 523.0,367.0 525.0,367.1 527.0,367.2 529.0,367.4 531.0,367.8 533.0,367.7 535.0,367.7 537.0,368.4 539.0,368.3 541.0,368.5 543.0,368.9 545.0,368.9 547.0,369.2 549.0,369.1 551.0,369.9 553.0,369.5 555.0,370.3 557.0,369.8 559.0,370.2 561.0,370.4 563.0,370.9 565.0,370.9 567.0,370.8 569.0,370.7 571.0,371.4 573.0,371.2 575.0,371.2 577.0,371.0 579.0,370.9 581.0,371.0 583.0,370.8 585.0,370.8 587.0,370.3 589.0,369.7 591.0,370.1 593.0,369.7 595.0,369.4 597.0,368.4 599.0,368.7 601.0,368.7 603.0,368.1 605.0,368.0 607.0,367.7 609.0,367.2 611.0,366.6 613.0,366.5 615.0,366.1 617.0,365.5 619.0,364.8 621.0,364.6 623.0,364.8 625.0,364.2 627.0,363.6 629.0,363.8 631.0,363.7 633.0,363.7 635.0,363.5 637.0,363.4 639.0,363.0 641.0,362.6 643.0,362.8 645.0,363.2 647.0,362.4 649.0,363.0 651.0,362.5 653.0,362.6 655.0,363.0 657.0,362.9 659.0,363.2 661.0,363.1 663.0,363.6 665.0,363.9 667.0,363.4 669.0,363.9 671.0,363.9 673.0,364.1 675.0,363.3 677.0,364.1 679.0,363.5 681.0,363.7 683.0,363.6 685.0,363.5 687.0,363.5 689.0,363.5 691.0,363.7 693.0,363.8 695.0,363.5 697.0,363.7 699.0,363.5 701.0,363.7 703.0,363.0 705.0,363.3 707.0,363.1 709.0,363.1 711.0,363.0 713.0,363.0 715.0,362.8 717.0,362.8 719.0,362.5 721.0,362.4 723.0,362.2 725.0,362.5 727.0,362.3 729.0,362.2 731.0,361.6 733.0,361.5 735.0,362.0 737.0,361.4 739.0,360.6 741.0,360.9 743.0,360.6 745.0,360.2 747.0,359.9 749.0,359.6 751.0,359.4 753.0,359.1 755.0,358.8 757.0,358.7 759.0,358.3 761.0,358.5 763.0,358.3 765.0,357.8 767.0,357.4 769.0,357.4 771.0,356.9 773.0,357.2 775.0,355.8 777.0,355.6 779.0,355.6 781.0,355.7 783.0,355.5 785.0,354.9 787.0,354.8 789.0,354.4 791.0,354.3 793.0,354.5 795.0,353.1 797.0,354.0 799.0,353.5 801.0,352.9 803.0,352.9 805.0,352.6 807.0,352.5 809.0,352.3 811.0,352.2 813.0,351.6 815.0,351.8 817.0,351.3 819.0,351.3 821.0,351.4 823.0,350.9 825.0,350.9 827.0,350.7 829.0,350.5 831.0,350.0 833.0,350.2 835.0,350.0 837.0,350.4 839.0,349.4 841.0,349.8 843.0,349.3 845.0,349.3 847.0,349.7 849.0,349.2 851.0,349.3 853.0,349.1 855.0,348.8 857.0,348.9 859.0,348.8 861.0,348.7 863.0,349.2 865.0,348.8 867.0,348.2 869.0,349.0 871.0,348.6 873.0,348.6 875.0,348.7 877.0,348.1 879.0,348.3 881.0,348.1 883.0,348.0 885.0,347.9 887.0,348.0 889.0,348.2 891.0,348.0 893.0,347.8 895.0,348.0 897.0,347.0 899.0,347.5 901.0,347.6 903.0,347.5 905.0,347.7 907.0,347.3 909.0,347.5 911.0,347.1 913.0,347.2 915.0,347.0 917.0,346.9 919.0,347.0 921.0,346.9 923.0,346.5 925.0,346.9 927.0,346.5 929.0,346.6 931.0,345.8 933.0,346.4 935.0,345.9 937.0,346.5 939.0,346.0 941.0,346.0 943.0,346.0 945.0,345.7 947.0,345.9 949.0,345.6 951.0,345.8 953.0,346.0 955.0,346.0 957.0,346.0 959.0,345.5 961.0,345.3 963.0,345.6 965.0,345.8 967.0,345.1 969.0,345.6 971.0,345.2 973.0,344.6 975.0,345.2 977.0,345.6 979.0,345.3 981.0,345.3 983.0,345.1 985.0,344.5 987.0,344.3 989.0,344.6 991.0,344.7 993.0,344.5 995.0,344.5 997.0,344.9 999.0,345.0 1001.0,344.2 1003.0,344.4 1005.0,344.6 1007.0,344.6 1009.0,344.1 1011.0,345.5 1013.0,345.0 1015.0,345.0 1017.0,344.5 1019.0,345.1 1021.0,344.9 1023.0,345.4 1025.0,345.4 1027.0,345.4 1029.0,345.6 1031.0,345.5 1033.0,345.7 1035.0,345.1 1037.0,346.0 1039.0,345.8" fill="none" stroke="url(#gGreenM)" stroke-width="3" stroke-linejoin="round" stroke-linecap="round"/>
<rect x="1005.600" y="100.500" width="2.300" height="362.500" fill="#d0ca40"/>
<rect x="1005.600" y="473" width="2.300" height="269" fill="#d0ca40"/>
<text x="995.5" y="410.3" font-size="7" fill="#d8d23a" textLength="20" lengthAdjust="spacingAndGlyphs" font-weight="bold">Pd/Pa</text>
<rect x="82" y="479.4" width="964" height="1.2" fill="#202b3e"/>
<rect x="82" y="511.2" width="964" height="1.2" fill="#202b3e"/>
<rect x="82" y="543.0" width="964" height="1.2" fill="#202b3e"/>
<rect x="82" y="574.8" width="964" height="1.2" fill="#202b3e"/>
<rect x="82" y="606.6" width="964" height="1.2" fill="#202b3e"/>
<rect x="82" y="638.4" width="964" height="1.2" fill="#202b3e"/>
<rect x="82" y="670.2" width="964" height="1.2" fill="#202b3e"/>
<rect x="82" y="702.0" width="964" height="1.2" fill="#202b3e"/>
<rect x="82" y="733.8" width="964" height="1.2" fill="#202b3e"/>
<rect x="118" y="533" width="325.500" height="138.800" fill="url(#hatch)"/>
<rect x="79.900" y="473" width="2.200" height="269" fill="#b9b439"/>
<text x="74.5" y="478.4" font-size="12.5" fill="#dedede" textLength="21.5" lengthAdjust="spacingAndGlyphs" text-anchor="end">1,01</text>
<text x="74.5" y="515.9" font-size="12.5" fill="#dedede" textLength="21.5" lengthAdjust="spacingAndGlyphs" text-anchor="end">0,95</text>
<text x="74.5" y="547.9" font-size="12.5" fill="#dedede" textLength="15.5" lengthAdjust="spacingAndGlyphs" text-anchor="end">0,9</text>
<text x="74.5" y="579.9" font-size="12.5" fill="#dedede" textLength="21.5" lengthAdjust="spacingAndGlyphs" text-anchor="end">0,85</text>
<text x="74.5" y="611.4" font-size="12.5" fill="#dedede" textLength="15.5" lengthAdjust="spacingAndGlyphs" text-anchor="end">0,8</text>
<text x="74.5" y="643.4" font-size="12.5" fill="#dedede" textLength="21.5" lengthAdjust="spacingAndGlyphs" text-anchor="end">0,75</text>
<text x="74.5" y="674.9" font-size="12.5" fill="#dedede" textLength="15.5" lengthAdjust="spacingAndGlyphs" text-anchor="end">0,7</text>
<text x="74.5" y="706.9" font-size="12.5" fill="#dedede" textLength="21.5" lengthAdjust="spacingAndGlyphs" text-anchor="end">0,65</text>
<text x="74.5" y="745.4" font-size="12.5" fill="#dedede" textLength="21.5" lengthAdjust="spacingAndGlyphs" text-anchor="end">0,59</text>
<polyline points="80.5,710.0 88.0,708.3 95.0,707.0 112.5,706.3 127.5,706.0 131.0,704.8 133.8,702.0 140.0,690.0 150.0,677.5 158.0,670.0 163.8,665.5 170.0,653.8 180.0,640.0 192.5,628.8 197.0,621.0 202.5,612.0 208.0,607.5 215.0,605.7 260.0,605.9 265.0,603.5 270.0,601.3 280.0,598.8 290.0,594.5 297.5,592.2 371.7,592.8 390.0,589.0 408.0,585.2 517.5,585.2 520.7,583.5 609.5,583.5 615.0,575.0 620.6,567.5 628.0,563.5 638.0,558.0 644.0,550.0 649.0,543.8 685.0,541.8 700.0,540.2 725.0,537.5 740.0,532.0 755.0,525.0 765.0,517.0 772.5,511.5 785.0,507.5 800.0,502.5 815.0,498.0 830.0,494.0 845.0,491.5 860.0,490.0 900.0,488.8 930.0,487.5 955.0,484.5 975.0,482.5 1006.0,481.0 1040.0,481.0" fill="none" stroke="#b5b03b" stroke-width="1.75" stroke-linejoin="round"/>
<rect x="113.900" y="473.500" width="2.500" height="269" fill="#f4f4f4"/><rect x="445" y="473.500" width="2.500" height="269" fill="#f4f4f4"/>
<text x="124" y="482" font-size="7.5" fill="#dcdcdc" textLength="18.5" lengthAdjust="spacingAndGlyphs" font-weight="bold">Distal</text>
<text x="410.5" y="482" font-size="7.5" fill="#dcdcdc" textLength="29.5" lengthAdjust="spacingAndGlyphs" font-weight="bold">Proximal</text>
<rect x="262.500" y="480" width="37" height="25" fill="#08090a" stroke="#2a2c31" stroke-width="0.9"/>
<text x="281" y="500" font-size="17.5" fill="#f0f0f0" textLength="25.5" lengthAdjust="spacingAndGlyphs" text-anchor="middle">0,26</text>
<text x="79.3" y="754.6" font-size="10.5" fill="#d0d0d0" textLength="4.8" lengthAdjust="spacingAndGlyphs" text-anchor="middle">0</text>
<text x="117.9" y="754.6" font-size="10.5" fill="#d0d0d0" textLength="4.8" lengthAdjust="spacingAndGlyphs" text-anchor="middle">1</text>
<text x="156.5" y="754.6" font-size="10.5" fill="#d0d0d0" textLength="4.8" lengthAdjust="spacingAndGlyphs" text-anchor="middle">2</text>
<text x="195.10000000000002" y="754.6" font-size="10.5" fill="#d0d0d0" textLength="4.8" lengthAdjust="spacingAndGlyphs" text-anchor="middle">3</text>
<text x="233.7" y="754.6" font-size="10.5" fill="#d0d0d0" textLength="4.8" lengthAdjust="spacingAndGlyphs" text-anchor="middle">4</text>
<text x="272.3" y="754.6" font-size="10.5" fill="#d0d0d0" textLength="4.8" lengthAdjust="spacingAndGlyphs" text-anchor="middle">5</text>
<text x="310.90000000000003" y="754.6" font-size="10.5" fill="#d0d0d0" textLength="4.8" lengthAdjust="spacingAndGlyphs" text-anchor="middle">6</text>
<text x="349.5" y="754.6" font-size="10.5" fill="#d0d0d0" textLength="4.8" lengthAdjust="spacingAndGlyphs" text-anchor="middle">7</text>
<text x="388.1" y="754.6" font-size="10.5" fill="#d0d0d0" textLength="4.8" lengthAdjust="spacingAndGlyphs" text-anchor="middle">8</text>
<text x="426.70000000000005" y="754.6" font-size="10.5" fill="#d0d0d0" textLength="4.8" lengthAdjust="spacingAndGlyphs" text-anchor="middle">9</text>
<text x="465.3" y="754.6" font-size="10.5" fill="#d0d0d0" textLength="9" lengthAdjust="spacingAndGlyphs" text-anchor="middle">10</text>
<text x="503.90000000000003" y="754.6" font-size="10.5" fill="#d0d0d0" textLength="9" lengthAdjust="spacingAndGlyphs" text-anchor="middle">11</text>
<text x="542.5" y="754.6" font-size="10.5" fill="#d0d0d0" textLength="9" lengthAdjust="spacingAndGlyphs" text-anchor="middle">12</text>
<text x="581.1" y="754.6" font-size="10.5" fill="#d0d0d0" textLength="9" lengthAdjust="spacingAndGlyphs" text-anchor="middle">13</text>
<text x="619.6999999999999" y="754.6" font-size="10.5" fill="#d0d0d0" textLength="9" lengthAdjust="spacingAndGlyphs" text-anchor="middle">14</text>
<text x="658.3" y="754.6" font-size="10.5" fill="#d0d0d0" textLength="9" lengthAdjust="spacingAndGlyphs" text-anchor="middle">15</text>
<text x="696.9" y="754.6" font-size="10.5" fill="#d0d0d0" textLength="9" lengthAdjust="spacingAndGlyphs" text-anchor="middle">16</text>
<text x="735.5" y="754.6" font-size="10.5" fill="#d0d0d0" textLength="9" lengthAdjust="spacingAndGlyphs" text-anchor="middle">17</text>
<text x="774.1" y="754.6" font-size="10.5" fill="#d0d0d0" textLength="9" lengthAdjust="spacingAndGlyphs" text-anchor="middle">18</text>
<text x="812.6999999999999" y="754.6" font-size="10.5" fill="#d0d0d0" textLength="9" lengthAdjust="spacingAndGlyphs" text-anchor="middle">19</text>
<text x="851.3" y="754.6" font-size="10.5" fill="#d0d0d0" textLength="9" lengthAdjust="spacingAndGlyphs" text-anchor="middle">20</text>
<text x="889.9" y="754.6" font-size="10.5" fill="#d0d0d0" textLength="9" lengthAdjust="spacingAndGlyphs" text-anchor="middle">21</text>
<text x="928.5" y="754.6" font-size="10.5" fill="#d0d0d0" textLength="9" lengthAdjust="spacingAndGlyphs" text-anchor="middle">22</text>
<text x="967.1" y="754.6" font-size="10.5" fill="#d0d0d0" textLength="9" lengthAdjust="spacingAndGlyphs" text-anchor="middle">23</text>
<text x="1005.7" y="754.6" font-size="10.5" fill="#d0d0d0" textLength="9" lengthAdjust="spacingAndGlyphs" text-anchor="middle">24</text>
<text x="1044.3" y="754.6" font-size="10.5" fill="#d0d0d0" textLength="9" lengthAdjust="spacingAndGlyphs" text-anchor="middle">25</text>
<rect x="1071" y="131" width="185" height="64.500" fill="url(#gBox2)" stroke="#25407a" stroke-width="1.300"/>
<rect x="1071" y="200.500" width="185" height="61.500" fill="url(#gBox2)" stroke="#292929" stroke-width="1.200"/>
<text x="1075.5" y="150.3" font-size="16" fill="#ece94e" textLength="26.5" lengthAdjust="spacingAndGlyphs">FFR</text>
<text x="1143" y="150.3" font-size="14.5" fill="#2a9d50" textLength="15.5" lengthAdjust="spacingAndGlyphs">Pd</text>
<text x="1199.5" y="150.3" font-size="14.5" fill="#a8222c" textLength="15" lengthAdjust="spacingAndGlyphs" opacity="0.85">Pa</text>
<text x="1079.5" y="187.5" font-size="38.5" fill="#ece94e" textLength="49.5" lengthAdjust="spacingAndGlyphs" stroke="#ece94e" stroke-width="0.45">0,64</text>
<text x="1155.5" y="187.5" font-size="38.5" fill="#2fb45a" textLength="27.5" lengthAdjust="spacingAndGlyphs" stroke="#2fb45a" stroke-width="0.45">39</text>
<text x="1213" y="187.5" font-size="38.5" fill="#dc2d38" textLength="29" lengthAdjust="spacingAndGlyphs" stroke="#dc2d38" stroke-width="0.45">62</text>
<text x="1075.5" y="217.3" font-size="16" fill="#ece94e" textLength="36" lengthAdjust="spacingAndGlyphs">Pd/Pa</text>
<text x="1143.5" y="217.3" font-size="14.5" fill="#2a9d50" textLength="15.5" lengthAdjust="spacingAndGlyphs">Pd</text>
<text x="1199.5" y="217.3" font-size="14.5" fill="#a8222c" textLength="15" lengthAdjust="spacingAndGlyphs" opacity="0.85">Pa</text>
<text x="1081" y="254" font-size="38.5" fill="#ece94e" textLength="49" lengthAdjust="spacingAndGlyphs" stroke="#ece94e" stroke-width="0.45">1,00</text>
<text x="1155.5" y="254" font-size="38.5" fill="#2fb45a" textLength="28" lengthAdjust="spacingAndGlyphs" stroke="#2fb45a" stroke-width="0.45">64</text>
<text x="1213.5" y="254" font-size="38.5" fill="#dc2d38" textLength="29" lengthAdjust="spacingAndGlyphs" stroke="#dc2d38" stroke-width="0.45">64</text>
<rect x="1071.500" y="328.500" width="183" height="64" fill="url(#gBox2)" stroke="#2a2a2a" stroke-width="1.200"/>
<text x="1076" y="349.2" font-size="18" fill="#f0f0f0" textLength="135.5" lengthAdjust="spacingAndGlyphs" stroke="#f0f0f0" stroke-width="0.3">ΔFFR / FFR Post PCI</text>
<text x="1107" y="383" font-size="33" fill="#f4f4f4" textLength="112" lengthAdjust="spacingAndGlyphs" stroke="#f4f4f4" stroke-width="0.5">0,26 / 0,79</text>
<rect x="1072.500" y="640" width="185" height="40" fill="url(#gBox)" stroke="#2a2a2a" stroke-width="1"/>
<path d="M1112.500 662v-2.800l51.500-11.700 51.500 11.700v2.800zM1112.500 664.200h103v3.500h-103zM1112.500 669.600h103v4h-103z" fill="#fff"/>
<rect x="1072.500" y="686.500" width="185" height="141.500" fill="url(#gLive)"/>
<rect x="1072.500" y="686.500" width="3" height="141.500" fill="#244f8c" opacity="0.7"/><rect x="1254.500" y="686.500" width="3" height="141.500" fill="#244f8c" opacity="0.7"/>
<text x="1165.5" y="773.3" font-size="38.5" fill="#f6f9ff" textLength="53.5" lengthAdjust="spacingAndGlyphs" text-anchor="middle" font-weight="bold" stroke="#f6f9ff" stroke-width="0.6">Live</text>
<rect x="57.5" y="775" width="88.5" height="26" fill="url(#gBox)" stroke="#202020" stroke-width="0.9"/>
<text x="94.25" y="792.5" font-size="10.5" fill="#d6d6d6" textLength="12" lengthAdjust="spacingAndGlyphs" text-anchor="middle" font-weight="bold">---</text>
<path d="M134.5 786.300h9l-4.500 6.800z" fill="#f4f4f4"/>
<rect x="148.5" y="775" width="90.0" height="26" fill="url(#gBox)" stroke="#202020" stroke-width="0.9"/>
<text x="186.0" y="792.5" font-size="10.5" fill="#d6d6d6" textLength="12" lengthAdjust="spacingAndGlyphs" text-anchor="middle" font-weight="bold">---</text>
<path d="M227.0 786.300h9l-4.500 6.800z" fill="#f4f4f4"/>
<rect x="241" y="775" width="89" height="26" fill="url(#gBox)" stroke="#202020" stroke-width="0.9"/>
<text x="278.0" y="792.5" font-size="10.5" fill="#d6d6d6" textLength="12" lengthAdjust="spacingAndGlyphs" text-anchor="middle" font-weight="bold">---</text>
<path d="M318.5 786.300h9l-4.500 6.800z" fill="#f4f4f4"/>
<text x="59.5" y="822" font-size="16.5" fill="#dcdcdc" textLength="108.5" lengthAdjust="spacingAndGlyphs" stroke="#dcdcdc" stroke-width="0.35">SER048 OM Only Up</text>
<rect x="334" y="774" width="55" height="46.500" fill="url(#gBox)" stroke="#303030" stroke-width="0.9"/>
<rect x="390.5" y="774" width="55" height="46.500" fill="url(#gBox)" stroke="#303030" stroke-width="0.9"/>
<rect x="447" y="774" width="55" height="46.500" fill="url(#gBox)" stroke="#303030" stroke-width="0.9"/>
<rect x="503.5" y="774" width="55" height="46.500" fill="url(#gBox)" stroke="#303030" stroke-width="0.9"/>
<rect x="560" y="774" width="55" height="46.500" fill="url(#gBox)" stroke="#303030" stroke-width="0.9"/>
<text x="361.5" y="813" font-size="44" fill="#fff" text-anchor="middle" font-family="Liberation Serif, serif" font-style="italic" stroke="#fff" stroke-width="0.9">i</text>
<circle cx="423" cy="792" r="9" fill="none" stroke="#fff" stroke-width="2.800"/>
<path d="M415.2 802.5l-10 10.300" stroke="#fff" stroke-width="6.200" fill="none"/>
<path d="M418 792h10" stroke="#fff" stroke-width="2.600"/>
<path d="M423 787v10" stroke="#fff" stroke-width="2.600"/>
<circle cx="479.4" cy="791.5" r="9" fill="none" stroke="#fff" stroke-width="2.800"/>
<path d="M471.59999999999997 802.0l-10 10.300" stroke="#fff" stroke-width="6.200" fill="none"/>
<path d="M474.4 791.5h10" stroke="#fff" stroke-width="2.600"/>
<path d="M521.500 795.500C523.500 788.500 531 785.300 537.300 788.500C544 792.300 545.800 803 540.300 815.800" stroke="#fff" stroke-width="9.600" fill="none"/><path d="M512.800 781.800V800.600H532.500Z" fill="#fff"/>
<g stroke="#fff" fill="none"><path d="M565.500 792h9M570 787.500v9" stroke-width="2.800"/><path d="M582 786.800l-11.500 17.700" stroke-width="1.700"/><path d="M579.300 800.800h10.500" stroke-width="2.800"/><path d="M596 781.200v34" stroke-width="3.800"/></g>
<rect x="615" y="774.500" width="55.500" height="46" fill="url(#gBlueTab)" stroke="#264f8a" stroke-width="1"/>
<g fill="none"><path d="M627.200 781.600v33.200M658.400 781.600v33.200" stroke="#f2f4f8" stroke-width="2.500"/><path d="M624.500 812.800C634 812 638.500 808.500 641.500 802C644.500 795.500 645.500 789.500 650.100 786.500C653.500 784.300 657.500 783.900 661.200 783.700" stroke="#bfdc4e" stroke-width="2.800" stroke-linecap="round"/></g>
<text x="676" y="794.5" font-size="22" fill="#f2f2f2" textLength="26.5" lengthAdjust="spacingAndGlyphs" stroke="#f2f2f2" stroke-width="0.35">X 0</text>
<text x="676" y="818.7" font-size="22" fill="#f2f2f2" textLength="66" lengthAdjust="spacingAndGlyphs" stroke="#f2f2f2" stroke-width="0.35">D -24,01</text>
<text x="896" y="792.5" font-size="21.5" fill="#f2f2f2" textLength="58" lengthAdjust="spacingAndGlyphs" text-anchor="middle" stroke="#f2f2f2" stroke-width="0.35">12:04:43</text>
<text x="897" y="818.2" font-size="21.5" fill="#f2f2f2" textLength="24" lengthAdjust="spacingAndGlyphs" text-anchor="middle" stroke="#f2f2f2" stroke-width="0.35">8/8</text>
<rect x="939.5" y="775.500" width="36.500" height="45" fill="url(#gBox)" stroke="#303030" stroke-width="0.9"/>
<rect x="978" y="775.500" width="36.500" height="45" fill="url(#gBox)" stroke="#303030" stroke-width="0.9"/>
<rect x="1016.5" y="775.500" width="36.500" height="45" fill="url(#gBox)" stroke="#303030" stroke-width="0.9"/>
<path d="M964.500 790l-13.500 7.200 13.500 7.200M1028.500 790l13.500 7.200-13.500 7.200" fill="none" stroke="#fff" stroke-width="3"/>
<rect x="987.800" y="796" width="17" height="15.500" rx="1.500" fill="none" stroke="#fff" stroke-width="3"/><path d="M991 795.500v-4.800a5.500 5.500 0 0 1 11 0v1.800" fill="none" stroke="#fff" stroke-width="3"/><circle cx="996.300" cy="803.800" r="2.200" fill="#fff"/>
</g>
<rect x="38" y="842" width="1224" height="6.700" fill="#c8202f"/>
<text x="39.5" y="881.7" font-size="14.8" fill="#231f20" textLength="79.5" lengthAdjust="spacingAndGlyphs" font-weight="bold" stroke="#231f20" stroke-width="0.5">FIGURE 4.</text>
<text x="124" y="881.7" font-size="17.8" fill="#231f20" textLength="1137.3" lengthAdjust="spacingAndGlyphs" stroke="#231f20" stroke-width="0.22">Example screenshot from fractional flow reserve (FFR) measurement system incorporating delta FFR assessment and calculation of estimated</text>
<text x="39.5" y="908.4" font-size="17.8" fill="#231f20" textLength="1221.8" lengthAdjust="spacingAndGlyphs" stroke="#231f20" stroke-width="0.22">post-percutaneous coronary intervention (PCI) FFR result based on localization of distal and proximal stent markers (CoroFlow; Coroventis Research</text>
<text x="39.5" y="935.1" font-size="17.8" fill="#231f20" textLength="1221.8" lengthAdjust="spacingAndGlyphs" stroke="#231f20" stroke-width="0.22">AB). The true contribution of this lesion to total FFR is 0.26 and the residual FFR after stenting this lesion will be 0.79, not 0.90 as predicted by the raw</text>
<text x="39.5" y="961.8" font-size="17.8" fill="#231f20" textLength="167.0" lengthAdjust="spacingAndGlyphs" stroke="#231f20" stroke-width="0.22">pullback trace alone.</text>
</svg>
</body></html>
